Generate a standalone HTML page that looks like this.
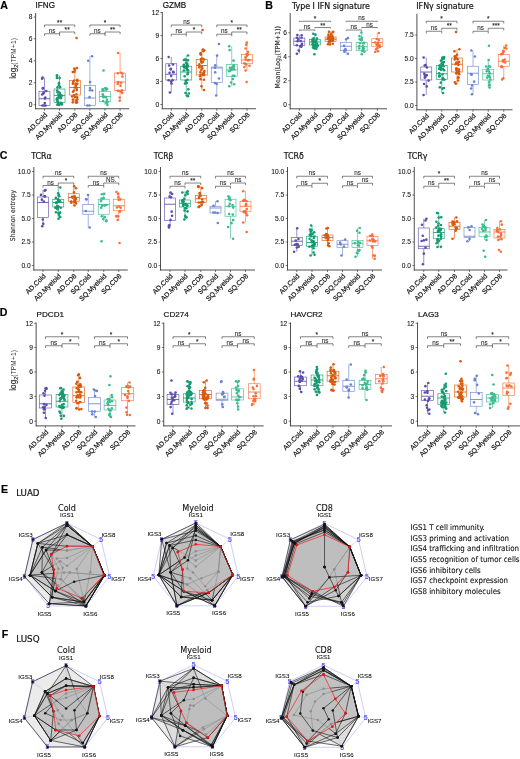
<!DOCTYPE html>
<html><head><meta charset="utf-8"><title>Figure</title>
<style>html,body{margin:0;padding:0;background:#fff}svg{display:block;filter:blur(0.35px)}</style></head>
<body>
<svg width="520" height="759" viewBox="0 0 520 759">
<rect width="520" height="759" fill="#fff"/>
<line x1="35.6" y1="13" x2="35.6" y2="109.2" stroke="#3c3c3c" stroke-width="0.9" />
<line x1="35.15" y1="108.75" x2="129.2" y2="108.75" stroke="#3c3c3c" stroke-width="0.9" />
<line x1="33.7" y1="104.75" x2="35.6" y2="104.75" stroke="#222" stroke-width="0.6" />
<text x="32.4" y="107.05" font-family='"Liberation Sans", Arial, sans-serif' font-size="6.65" text-anchor="end" fill="#111" stroke="#111" stroke-width="0.08" >0</text>
<line x1="33.7" y1="82.75" x2="35.6" y2="82.75" stroke="#222" stroke-width="0.6" />
<text x="32.4" y="85.05" font-family='"Liberation Sans", Arial, sans-serif' font-size="6.65" text-anchor="end" fill="#111" stroke="#111" stroke-width="0.08" >2</text>
<line x1="33.7" y1="60.75" x2="35.6" y2="60.75" stroke="#222" stroke-width="0.6" />
<text x="32.4" y="63.05" font-family='"Liberation Sans", Arial, sans-serif' font-size="6.65" text-anchor="end" fill="#111" stroke="#111" stroke-width="0.08" >4</text>
<line x1="33.7" y1="38.75" x2="35.6" y2="38.75" stroke="#222" stroke-width="0.6" />
<text x="32.4" y="41.05" font-family='"Liberation Sans", Arial, sans-serif' font-size="6.65" text-anchor="end" fill="#111" stroke="#111" stroke-width="0.08" >6</text>
<line x1="33.7" y1="17" x2="35.6" y2="17" stroke="#222" stroke-width="0.6" />
<text x="32.4" y="19.3" font-family='"Liberation Sans", Arial, sans-serif' font-size="6.65" text-anchor="end" fill="#111" stroke="#111" stroke-width="0.08" >8</text>
<line x1="44.5" y1="108.75" x2="44.5" y2="110.75" stroke="#222" stroke-width="0.6" />
<text x="47.7" y="115.35" font-family='"Liberation Sans", Arial, sans-serif' font-size="6.8" text-anchor="end" fill="#111" transform="rotate(-45 47.7 115.35)" stroke="#111" stroke-width="0.18" >AD.Cold</text>
<line x1="59.5" y1="108.75" x2="59.5" y2="110.75" stroke="#222" stroke-width="0.6" />
<text x="62.7" y="115.35" font-family='"Liberation Sans", Arial, sans-serif' font-size="6.8" text-anchor="end" fill="#111" transform="rotate(-45 62.7 115.35)" stroke="#111" stroke-width="0.18" >AD.Myeloid</text>
<line x1="74.8" y1="108.75" x2="74.8" y2="110.75" stroke="#222" stroke-width="0.6" />
<text x="78" y="115.35" font-family='"Liberation Sans", Arial, sans-serif' font-size="6.8" text-anchor="end" fill="#111" transform="rotate(-45 78 115.35)" stroke="#111" stroke-width="0.18" >AD.CD8</text>
<line x1="89.9" y1="108.75" x2="89.9" y2="110.75" stroke="#222" stroke-width="0.6" />
<text x="93.1" y="115.35" font-family='"Liberation Sans", Arial, sans-serif' font-size="6.8" text-anchor="end" fill="#111" transform="rotate(-45 93.1 115.35)" stroke="#111" stroke-width="0.18" >SQ.Cold</text>
<line x1="105" y1="108.75" x2="105" y2="110.75" stroke="#222" stroke-width="0.6" />
<text x="108.2" y="115.35" font-family='"Liberation Sans", Arial, sans-serif' font-size="6.8" text-anchor="end" fill="#111" transform="rotate(-45 108.2 115.35)" stroke="#111" stroke-width="0.18" >SQ.Myeloid</text>
<line x1="120.1" y1="108.75" x2="120.1" y2="110.75" stroke="#222" stroke-width="0.6" />
<text x="123.3" y="115.35" font-family='"Liberation Sans", Arial, sans-serif' font-size="6.8" text-anchor="end" fill="#111" transform="rotate(-45 123.3 115.35)" stroke="#111" stroke-width="0.18" >SQ.CD8</text>
<g stroke="#5a4dae" stroke-width="0.65" stroke-opacity="0.95" fill="none">
<rect x="39" y="91.25" width="11" height="14.25"/>
<path d="M39 98.75H50" stroke-width="0.9"/>
<path d="M44.5 77.5V91.25M44.5 105.5V105.5"/>
</g>
<g fill="#5a4dae">
<circle cx="42.58" cy="77.5" r="1.3"/>
<circle cx="42.44" cy="105.5" r="1.3"/>
<circle cx="43.47" cy="93.4" r="1.3"/>
<circle cx="46.21" cy="91.04" r="1.3"/>
<circle cx="42.78" cy="88.5" r="1.3"/>
<circle cx="44.94" cy="98.48" r="1.3"/>
<circle cx="45.25" cy="97.43" r="1.3"/>
<circle cx="43.81" cy="92.54" r="1.3"/>
<circle cx="44.76" cy="103.03" r="1.3"/>
<circle cx="42.14" cy="94.43" r="1.3"/>
<circle cx="42.12" cy="78.63" r="1.3"/>
<circle cx="42.91" cy="88.12" r="1.3"/>
<circle cx="45.47" cy="105.5" r="1.3"/>
<circle cx="44.11" cy="105.5" r="1.3"/>
</g>
<g stroke="#159a70" stroke-width="0.65" stroke-opacity="0.95" fill="none">
<rect x="54" y="89" width="11" height="13.6"/>
<path d="M54 95.4H65" stroke-width="0.9"/>
<path d="M59.5 75.5V89M59.5 102.6V105"/>
</g>
<g fill="#159a70">
<circle cx="56.82" cy="75.5" r="1.3"/>
<circle cx="59.06" cy="105" r="1.3"/>
<circle cx="58.79" cy="96.96" r="1.3"/>
<circle cx="59.86" cy="93.08" r="1.3"/>
<circle cx="61.95" cy="103.95" r="1.3"/>
<circle cx="60.53" cy="96.81" r="1.3"/>
<circle cx="59.58" cy="78.09" r="1.3"/>
<circle cx="60.14" cy="87.16" r="1.3"/>
<circle cx="60.45" cy="102.68" r="1.3"/>
<circle cx="57.09" cy="99.3" r="1.3"/>
<circle cx="61.66" cy="95.65" r="1.3"/>
<circle cx="61.01" cy="98.09" r="1.3"/>
<circle cx="61.52" cy="103.58" r="1.3"/>
<circle cx="61.11" cy="102.98" r="1.3"/>
<circle cx="58.92" cy="83.13" r="1.3"/>
<circle cx="58.95" cy="85.15" r="1.3"/>
<circle cx="57.36" cy="104.79" r="1.3"/>
<circle cx="60.23" cy="98.03" r="1.3"/>
<circle cx="57.14" cy="98.54" r="1.3"/>
<circle cx="57.16" cy="75.65" r="1.3"/>
<circle cx="57.93" cy="102.92" r="1.3"/>
<circle cx="57.68" cy="98.09" r="1.3"/>
<circle cx="58.64" cy="95.28" r="1.3"/>
<circle cx="57.08" cy="90.59" r="1.3"/>
<circle cx="56.8" cy="99.45" r="1.3"/>
<circle cx="57.62" cy="92.37" r="1.3"/>
<circle cx="57.35" cy="100.85" r="1.3"/>
<circle cx="58.76" cy="95.11" r="1.3"/>
<circle cx="56.94" cy="77.93" r="1.3"/>
<circle cx="61.52" cy="104.5" r="1.3"/>
<circle cx="60.12" cy="94.65" r="1.3"/>
<circle cx="57.6" cy="101.03" r="1.3"/>
<circle cx="58.16" cy="102.72" r="1.3"/>
<circle cx="58.68" cy="92.15" r="1.3"/>
<circle cx="58.77" cy="95.6" r="1.3"/>
<circle cx="57.46" cy="87.41" r="1.3"/>
</g>
<g stroke="#d9590c" stroke-width="0.65" stroke-opacity="0.95" fill="none">
<rect x="69.3" y="80.5" width="11" height="14.5"/>
<path d="M69.3 87.5H80.3" stroke-width="0.9"/>
<path d="M74.8 68V80.5M74.8 95V102.5"/>
</g>
<g fill="#d9590c">
<circle cx="77.01" cy="68" r="1.3"/>
<circle cx="76.32" cy="102.5" r="1.3"/>
<circle cx="76.15" cy="102.42" r="1.3"/>
<circle cx="74.68" cy="87.52" r="1.3"/>
<circle cx="73.06" cy="81.98" r="1.3"/>
<circle cx="76.36" cy="84.34" r="1.3"/>
<circle cx="73.9" cy="95.41" r="1.3"/>
<circle cx="76.42" cy="94.29" r="1.3"/>
<circle cx="77.35" cy="79.92" r="1.3"/>
<circle cx="74.24" cy="80.46" r="1.3"/>
<circle cx="74.27" cy="68.43" r="1.3"/>
<circle cx="77.21" cy="99.2" r="1.3"/>
<circle cx="76.01" cy="85.82" r="1.3"/>
<circle cx="73.02" cy="91.69" r="1.3"/>
<circle cx="72.79" cy="72.12" r="1.3"/>
<circle cx="72.92" cy="83.73" r="1.3"/>
<circle cx="76.99" cy="102.32" r="1.3"/>
<circle cx="76.46" cy="100.31" r="1.3"/>
<circle cx="72.89" cy="99.63" r="1.3"/>
<circle cx="76.56" cy="88.01" r="1.3"/>
<circle cx="77.39" cy="80.92" r="1.3"/>
<circle cx="75.65" cy="84.55" r="1.3"/>
<circle cx="73.99" cy="90.54" r="1.3"/>
<circle cx="75.06" cy="97.07" r="1.3"/>
<circle cx="72.81" cy="102.36" r="1.3"/>
<circle cx="72.18" cy="96.49" r="1.3"/>
<circle cx="77.34" cy="83.79" r="1.3"/>
<circle cx="75.61" cy="83.46" r="1.3"/>
<circle cx="74.94" cy="69.93" r="1.3"/>
<circle cx="77.14" cy="97.31" r="1.3"/>
<circle cx="74.44" cy="71.76" r="1.3"/>
<circle cx="76.81" cy="90.08" r="1.3"/>
<circle cx="76.56" cy="38" r="1.3"/>
</g>
<g stroke="#6a84d4" stroke-width="0.65" stroke-opacity="0.95" fill="none">
<rect x="84.4" y="85.5" width="11" height="20"/>
<path d="M84.4 98H95.4" stroke-width="0.9"/>
<path d="M89.9 56.25V85.5M89.9 105.5V105.5"/>
</g>
<g fill="#6a84d4">
<circle cx="92.08" cy="56.25" r="1.3"/>
<circle cx="89.47" cy="105.5" r="1.3"/>
<circle cx="92.16" cy="90.54" r="1.3"/>
<circle cx="89.91" cy="90.31" r="1.3"/>
<circle cx="90.07" cy="82.12" r="1.3"/>
<circle cx="90.03" cy="88.12" r="1.3"/>
<circle cx="87.3" cy="105.5" r="1.3"/>
<circle cx="89.58" cy="97.17" r="1.3"/>
<circle cx="88.19" cy="60.75" r="1.3"/>
</g>
<g stroke="#3dbb8e" stroke-width="0.65" stroke-opacity="0.95" fill="none">
<rect x="99.5" y="91.6" width="11" height="10.1"/>
<path d="M99.5 96.6H110.5" stroke-width="0.9"/>
<path d="M105 88V91.6M105 101.7V105"/>
</g>
<g fill="#3dbb8e">
<circle cx="105.32" cy="88" r="1.3"/>
<circle cx="107.39" cy="105" r="1.3"/>
<circle cx="106.84" cy="99.67" r="1.3"/>
<circle cx="103.04" cy="96.38" r="1.3"/>
<circle cx="102.96" cy="90.19" r="1.3"/>
<circle cx="104.69" cy="96.84" r="1.3"/>
<circle cx="102.69" cy="89.16" r="1.3"/>
<circle cx="103.6" cy="97.26" r="1.3"/>
<circle cx="102.69" cy="94.4" r="1.3"/>
<circle cx="105.92" cy="102.82" r="1.3"/>
<circle cx="106.53" cy="89.28" r="1.3"/>
<circle cx="107.14" cy="102.6" r="1.3"/>
<circle cx="103.13" cy="90.39" r="1.3"/>
<circle cx="106.17" cy="89.6" r="1.3"/>
<circle cx="105.87" cy="96.99" r="1.3"/>
<circle cx="103.07" cy="101.11" r="1.3"/>
<circle cx="107.07" cy="88.68" r="1.3"/>
<circle cx="107.52" cy="102.08" r="1.3"/>
<circle cx="103.49" cy="70.5" r="1.3"/>
</g>
<g stroke="#f86f3c" stroke-width="0.65" stroke-opacity="0.95" fill="none">
<rect x="114.6" y="73" width="11" height="17.5"/>
<path d="M114.6 82H125.6" stroke-width="0.9"/>
<path d="M120.1 53V73M120.1 90.5V100.75"/>
</g>
<g fill="#f86f3c">
<circle cx="118.1" cy="53" r="1.3"/>
<circle cx="119.68" cy="100.75" r="1.3"/>
<circle cx="122.32" cy="92.85" r="1.3"/>
<circle cx="121.82" cy="90.32" r="1.3"/>
<circle cx="118.8" cy="91.05" r="1.3"/>
<circle cx="118.21" cy="82.02" r="1.3"/>
<circle cx="122.36" cy="76.43" r="1.3"/>
<circle cx="120.48" cy="85.64" r="1.3"/>
<circle cx="121.18" cy="82.7" r="1.3"/>
<circle cx="117.88" cy="73.32" r="1.3"/>
<circle cx="117.71" cy="83.92" r="1.3"/>
<circle cx="121.12" cy="72.75" r="1.3"/>
<circle cx="119.7" cy="97.51" r="1.3"/>
<circle cx="117.79" cy="90.78" r="1.3"/>
<circle cx="122.47" cy="73.69" r="1.3"/>
<circle cx="120.83" cy="91.76" r="1.3"/>
</g>
<path d="M44.5 27.2V25H74.8V27.2" fill="none" stroke="#333" stroke-width="0.6"/>
<text x="59.65" y="25.2" font-family='"Liberation Sans", Arial, sans-serif' font-size="6.5" text-anchor="middle" fill="#222" stroke="#222" stroke-width="0.1" >**</text>
<path d="M44.5 35.95V33.75H59.5V35.95" fill="none" stroke="#333" stroke-width="0.6"/>
<text x="52" y="32.95" font-family='"Liberation Sans", Arial, sans-serif' font-size="6.3" text-anchor="middle" fill="#2a2a2a" stroke="#2a2a2a" stroke-width="0.08" >ns</text>
<path d="M59.5 34.2V32H74.8V34.2" fill="none" stroke="#333" stroke-width="0.6"/>
<text x="67.15" y="32.2" font-family='"Liberation Sans", Arial, sans-serif' font-size="6.5" text-anchor="middle" fill="#222" stroke="#222" stroke-width="0.1" >**</text>
<path d="M89.9 27.2V25H120.1V27.2" fill="none" stroke="#333" stroke-width="0.6"/>
<text x="105" y="25.2" font-family='"Liberation Sans", Arial, sans-serif' font-size="6.5" text-anchor="middle" fill="#222" stroke="#222" stroke-width="0.1" >*</text>
<path d="M89.9 35.95V33.75H105V35.95" fill="none" stroke="#333" stroke-width="0.6"/>
<text x="97.45" y="32.95" font-family='"Liberation Sans", Arial, sans-serif' font-size="6.3" text-anchor="middle" fill="#2a2a2a" stroke="#2a2a2a" stroke-width="0.08" >ns</text>
<path d="M105 34.2V32H120.1V34.2" fill="none" stroke="#333" stroke-width="0.6"/>
<text x="112.55" y="32.2" font-family='"Liberation Sans", Arial, sans-serif' font-size="6.5" text-anchor="middle" fill="#222" stroke="#222" stroke-width="0.1" >**</text>
<text x="35.6" y="8" font-family='"Liberation Sans", Arial, sans-serif' font-size="8.15" text-anchor="start" fill="#111" stroke="#111" stroke-width="0.18" >IFNG</text>
<line x1="162.3" y1="12" x2="162.3" y2="109.2" stroke="#3c3c3c" stroke-width="0.9" />
<line x1="161.85" y1="108.75" x2="256" y2="108.75" stroke="#3c3c3c" stroke-width="0.9" />
<line x1="160.4" y1="104.5" x2="162.3" y2="104.5" stroke="#222" stroke-width="0.6" />
<text x="159.1" y="106.8" font-family='"Liberation Sans", Arial, sans-serif' font-size="6.65" text-anchor="end" fill="#111" stroke="#111" stroke-width="0.08" >0</text>
<line x1="160.4" y1="81.5" x2="162.3" y2="81.5" stroke="#222" stroke-width="0.6" />
<text x="159.1" y="83.8" font-family='"Liberation Sans", Arial, sans-serif' font-size="6.65" text-anchor="end" fill="#111" stroke="#111" stroke-width="0.08" >3</text>
<line x1="160.4" y1="58.5" x2="162.3" y2="58.5" stroke="#222" stroke-width="0.6" />
<text x="159.1" y="60.8" font-family='"Liberation Sans", Arial, sans-serif' font-size="6.65" text-anchor="end" fill="#111" stroke="#111" stroke-width="0.08" >6</text>
<line x1="160.4" y1="35.5" x2="162.3" y2="35.5" stroke="#222" stroke-width="0.6" />
<text x="159.1" y="37.8" font-family='"Liberation Sans", Arial, sans-serif' font-size="6.65" text-anchor="end" fill="#111" stroke="#111" stroke-width="0.08" >9</text>
<line x1="160.4" y1="12.5" x2="162.3" y2="12.5" stroke="#222" stroke-width="0.6" />
<text x="159.1" y="14.8" font-family='"Liberation Sans", Arial, sans-serif' font-size="6.65" text-anchor="end" fill="#111" stroke="#111" stroke-width="0.08" >12</text>
<line x1="171.25" y1="108.75" x2="171.25" y2="110.75" stroke="#222" stroke-width="0.6" />
<text x="174.45" y="115.35" font-family='"Liberation Sans", Arial, sans-serif' font-size="6.8" text-anchor="end" fill="#111" transform="rotate(-45 174.45 115.35)" stroke="#111" stroke-width="0.18" >AD.Cold</text>
<line x1="186.25" y1="108.75" x2="186.25" y2="110.75" stroke="#222" stroke-width="0.6" />
<text x="189.45" y="115.35" font-family='"Liberation Sans", Arial, sans-serif' font-size="6.8" text-anchor="end" fill="#111" transform="rotate(-45 189.45 115.35)" stroke="#111" stroke-width="0.18" >AD.Myeloid</text>
<line x1="201.75" y1="108.75" x2="201.75" y2="110.75" stroke="#222" stroke-width="0.6" />
<text x="204.95" y="115.35" font-family='"Liberation Sans", Arial, sans-serif' font-size="6.8" text-anchor="end" fill="#111" transform="rotate(-45 204.95 115.35)" stroke="#111" stroke-width="0.18" >AD.CD8</text>
<line x1="216.75" y1="108.75" x2="216.75" y2="110.75" stroke="#222" stroke-width="0.6" />
<text x="219.95" y="115.35" font-family='"Liberation Sans", Arial, sans-serif' font-size="6.8" text-anchor="end" fill="#111" transform="rotate(-45 219.95 115.35)" stroke="#111" stroke-width="0.18" >SQ.Cold</text>
<line x1="231.75" y1="108.75" x2="231.75" y2="110.75" stroke="#222" stroke-width="0.6" />
<text x="234.95" y="115.35" font-family='"Liberation Sans", Arial, sans-serif' font-size="6.8" text-anchor="end" fill="#111" transform="rotate(-45 234.95 115.35)" stroke="#111" stroke-width="0.18" >SQ.Myeloid</text>
<line x1="247" y1="108.75" x2="247" y2="110.75" stroke="#222" stroke-width="0.6" />
<text x="250.2" y="115.35" font-family='"Liberation Sans", Arial, sans-serif' font-size="6.8" text-anchor="end" fill="#111" transform="rotate(-45 250.2 115.35)" stroke="#111" stroke-width="0.18" >SQ.CD8</text>
<g stroke="#5a4dae" stroke-width="0.65" stroke-opacity="0.95" fill="none">
<rect x="165.75" y="63.75" width="11" height="16.25"/>
<path d="M165.75 74.25H176.75" stroke-width="0.9"/>
<path d="M171.25 57V63.75M171.25 80V92.5"/>
</g>
<g fill="#5a4dae">
<circle cx="168.65" cy="57" r="1.3"/>
<circle cx="169.9" cy="92.5" r="1.3"/>
<circle cx="168.63" cy="80.24" r="1.3"/>
<circle cx="172.51" cy="80.16" r="1.3"/>
<circle cx="171.53" cy="83.53" r="1.3"/>
<circle cx="169.57" cy="72.74" r="1.3"/>
<circle cx="171.11" cy="81.52" r="1.3"/>
<circle cx="173.6" cy="72.31" r="1.3"/>
<circle cx="169.12" cy="65.53" r="1.3"/>
<circle cx="172.97" cy="64.57" r="1.3"/>
<circle cx="170.88" cy="68.82" r="1.3"/>
<circle cx="171.22" cy="76.09" r="1.3"/>
<circle cx="173.06" cy="71.88" r="1.3"/>
<circle cx="170.67" cy="69.39" r="1.3"/>
</g>
<g stroke="#159a70" stroke-width="0.65" stroke-opacity="0.95" fill="none">
<rect x="180.75" y="66.25" width="11" height="13.75"/>
<path d="M180.75 72H191.75" stroke-width="0.9"/>
<path d="M186.25 55.5V66.25M186.25 80V96.25"/>
</g>
<g fill="#159a70">
<circle cx="188.06" cy="55.5" r="1.3"/>
<circle cx="187.9" cy="96.25" r="1.3"/>
<circle cx="188.01" cy="60.34" r="1.3"/>
<circle cx="186.7" cy="82.93" r="1.3"/>
<circle cx="188.37" cy="89.33" r="1.3"/>
<circle cx="187.24" cy="63.72" r="1.3"/>
<circle cx="187.29" cy="67" r="1.3"/>
<circle cx="184.79" cy="67.22" r="1.3"/>
<circle cx="183.72" cy="65.04" r="1.3"/>
<circle cx="184.27" cy="67.41" r="1.3"/>
<circle cx="185.5" cy="93.02" r="1.3"/>
<circle cx="184.12" cy="64.83" r="1.3"/>
<circle cx="188.06" cy="70.28" r="1.3"/>
<circle cx="186.57" cy="68.42" r="1.3"/>
<circle cx="186.94" cy="69.87" r="1.3"/>
<circle cx="186.93" cy="95.54" r="1.3"/>
<circle cx="187.23" cy="65.12" r="1.3"/>
<circle cx="186.19" cy="82.49" r="1.3"/>
<circle cx="183.57" cy="66.26" r="1.3"/>
<circle cx="187.86" cy="72.78" r="1.3"/>
<circle cx="187.59" cy="65.43" r="1.3"/>
<circle cx="186.27" cy="66.25" r="1.3"/>
<circle cx="186.44" cy="67.48" r="1.3"/>
<circle cx="187.11" cy="66.82" r="1.3"/>
<circle cx="183.91" cy="70.43" r="1.3"/>
<circle cx="187.53" cy="74.3" r="1.3"/>
<circle cx="184.91" cy="59.46" r="1.3"/>
<circle cx="183.95" cy="59.95" r="1.3"/>
<circle cx="184.98" cy="83.59" r="1.3"/>
<circle cx="187.49" cy="79.79" r="1.3"/>
<circle cx="184.66" cy="76.21" r="1.3"/>
<circle cx="187.55" cy="66.18" r="1.3"/>
<circle cx="188.82" cy="93.53" r="1.3"/>
<circle cx="186.22" cy="59.7" r="1.3"/>
<circle cx="185.62" cy="80.69" r="1.3"/>
<circle cx="186.14" cy="62.65" r="1.3"/>
</g>
<g stroke="#d9590c" stroke-width="0.65" stroke-opacity="0.95" fill="none">
<rect x="196.25" y="59.5" width="11" height="15.5"/>
<path d="M196.25 65.5H207.25" stroke-width="0.9"/>
<path d="M201.75 49.5V59.5M201.75 75V90"/>
</g>
<g fill="#d9590c">
<circle cx="202.9" cy="49.5" r="1.3"/>
<circle cx="203.92" cy="90" r="1.3"/>
<circle cx="200.62" cy="52.96" r="1.3"/>
<circle cx="201.06" cy="54.57" r="1.3"/>
<circle cx="201.17" cy="61.79" r="1.3"/>
<circle cx="204.44" cy="71.02" r="1.3"/>
<circle cx="202.23" cy="68.3" r="1.3"/>
<circle cx="201" cy="60.44" r="1.3"/>
<circle cx="201.36" cy="69.92" r="1.3"/>
<circle cx="200.54" cy="54.16" r="1.3"/>
<circle cx="199.31" cy="67.51" r="1.3"/>
<circle cx="199.6" cy="66.73" r="1.3"/>
<circle cx="203.56" cy="73.35" r="1.3"/>
<circle cx="200.59" cy="74.66" r="1.3"/>
<circle cx="204.1" cy="75.02" r="1.3"/>
<circle cx="200.4" cy="72.21" r="1.3"/>
<circle cx="200.48" cy="79.17" r="1.3"/>
<circle cx="201.81" cy="62.75" r="1.3"/>
<circle cx="200.08" cy="76.24" r="1.3"/>
<circle cx="201.07" cy="59.06" r="1.3"/>
<circle cx="204.21" cy="50.25" r="1.3"/>
<circle cx="203.83" cy="72.21" r="1.3"/>
<circle cx="203.43" cy="51.25" r="1.3"/>
<circle cx="202.46" cy="58.54" r="1.3"/>
<circle cx="203.98" cy="79.73" r="1.3"/>
<circle cx="204.13" cy="59.56" r="1.3"/>
<circle cx="202.02" cy="66.49" r="1.3"/>
<circle cx="202.94" cy="61.68" r="1.3"/>
<circle cx="199.32" cy="64.4" r="1.3"/>
<circle cx="203" cy="75" r="1.3"/>
<circle cx="201.48" cy="86.33" r="1.3"/>
<circle cx="203.11" cy="73.86" r="1.3"/>
<circle cx="202.53" cy="30" r="1.3"/>
</g>
<g stroke="#6a84d4" stroke-width="0.65" stroke-opacity="0.95" fill="none">
<rect x="211.25" y="67" width="11" height="15.5"/>
<path d="M211.25 68H222.25" stroke-width="0.9"/>
<path d="M216.75 55.6V67M216.75 82.5V95.5"/>
</g>
<g fill="#6a84d4">
<circle cx="217.06" cy="55.6" r="1.3"/>
<circle cx="216.18" cy="95.5" r="1.3"/>
<circle cx="214.95" cy="67.76" r="1.3"/>
<circle cx="214.92" cy="82.98" r="1.3"/>
<circle cx="215.17" cy="72.33" r="1.3"/>
<circle cx="218.94" cy="78.46" r="1.3"/>
<circle cx="216.73" cy="84.01" r="1.3"/>
<circle cx="215.24" cy="65.33" r="1.3"/>
<circle cx="218.94" cy="44" r="1.3"/>
</g>
<g stroke="#3dbb8e" stroke-width="0.65" stroke-opacity="0.95" fill="none">
<rect x="226.25" y="64.5" width="11" height="11.75"/>
<path d="M226.25 70H237.25" stroke-width="0.9"/>
<path d="M231.75 46.25V64.5M231.75 76.25V86.25"/>
</g>
<g fill="#3dbb8e">
<circle cx="229.17" cy="46.25" r="1.3"/>
<circle cx="229.22" cy="86.25" r="1.3"/>
<circle cx="232.88" cy="79.04" r="1.3"/>
<circle cx="233.89" cy="66.76" r="1.3"/>
<circle cx="231.61" cy="68.52" r="1.3"/>
<circle cx="232.22" cy="67.31" r="1.3"/>
<circle cx="229.05" cy="71.19" r="1.3"/>
<circle cx="231.16" cy="82.56" r="1.3"/>
<circle cx="234.05" cy="69.36" r="1.3"/>
<circle cx="233.51" cy="60.67" r="1.3"/>
<circle cx="233.67" cy="65.23" r="1.3"/>
<circle cx="234.3" cy="75.87" r="1.3"/>
<circle cx="230.39" cy="70.41" r="1.3"/>
<circle cx="229.64" cy="50.09" r="1.3"/>
<circle cx="229.88" cy="67.68" r="1.3"/>
<circle cx="231.87" cy="69.2" r="1.3"/>
<circle cx="232.73" cy="75.71" r="1.3"/>
<circle cx="234.13" cy="84.3" r="1.3"/>
</g>
<g stroke="#f86f3c" stroke-width="0.65" stroke-opacity="0.95" fill="none">
<rect x="241.5" y="54.5" width="11" height="9.25"/>
<path d="M241.5 60H252.5" stroke-width="0.9"/>
<path d="M247 42.5V54.5M247 63.75V70.5"/>
</g>
<g fill="#f86f3c">
<circle cx="246.87" cy="42.5" r="1.3"/>
<circle cx="245.57" cy="70.5" r="1.3"/>
<circle cx="245.63" cy="48.52" r="1.3"/>
<circle cx="249.49" cy="65.68" r="1.3"/>
<circle cx="248.11" cy="54.43" r="1.3"/>
<circle cx="245.96" cy="64.4" r="1.3"/>
<circle cx="244.42" cy="67.1" r="1.3"/>
<circle cx="246.99" cy="55.68" r="1.3"/>
<circle cx="247.94" cy="60.39" r="1.3"/>
<circle cx="246.57" cy="54.14" r="1.3"/>
<circle cx="245.69" cy="59.35" r="1.3"/>
<circle cx="247.9" cy="51.86" r="1.3"/>
<circle cx="249.3" cy="60.06" r="1.3"/>
<circle cx="245.52" cy="57.29" r="1.3"/>
<circle cx="244.48" cy="63.37" r="1.3"/>
<circle cx="246.13" cy="44.65" r="1.3"/>
<circle cx="246.57" cy="82" r="1.3"/>
</g>
<path d="M171.25 27.2V25H201.75V27.2" fill="none" stroke="#333" stroke-width="0.6"/>
<text x="186.5" y="24.2" font-family='"Liberation Sans", Arial, sans-serif' font-size="6.3" text-anchor="middle" fill="#2a2a2a" stroke="#2a2a2a" stroke-width="0.08" >ns</text>
<path d="M171.25 36.45V34.25H186.25V36.45" fill="none" stroke="#333" stroke-width="0.6"/>
<text x="178.75" y="33.45" font-family='"Liberation Sans", Arial, sans-serif' font-size="6.3" text-anchor="middle" fill="#2a2a2a" stroke="#2a2a2a" stroke-width="0.08" >ns</text>
<path d="M186.25 34.2V32H201.75V34.2" fill="none" stroke="#333" stroke-width="0.6"/>
<text x="194" y="32.2" font-family='"Liberation Sans", Arial, sans-serif' font-size="6.5" text-anchor="middle" fill="#222" stroke="#222" stroke-width="0.1" >*</text>
<path d="M216.75 27.2V25H247V27.2" fill="none" stroke="#333" stroke-width="0.6"/>
<text x="231.88" y="25.2" font-family='"Liberation Sans", Arial, sans-serif' font-size="6.5" text-anchor="middle" fill="#222" stroke="#222" stroke-width="0.1" >*</text>
<path d="M216.75 36.45V34.25H231.75V36.45" fill="none" stroke="#333" stroke-width="0.6"/>
<text x="224.25" y="33.45" font-family='"Liberation Sans", Arial, sans-serif' font-size="6.3" text-anchor="middle" fill="#2a2a2a" stroke="#2a2a2a" stroke-width="0.08" >ns</text>
<path d="M231.75 34.2V32H247V34.2" fill="none" stroke="#333" stroke-width="0.6"/>
<text x="239.38" y="32.2" font-family='"Liberation Sans", Arial, sans-serif' font-size="6.5" text-anchor="middle" fill="#222" stroke="#222" stroke-width="0.1" >**</text>
<text x="162.8" y="8" font-family='"Liberation Sans", Arial, sans-serif' font-size="8.15" text-anchor="start" fill="#111" stroke="#111" stroke-width="0.18" >GZMB</text>
<line x1="290.2" y1="13" x2="290.2" y2="109.25" stroke="#3c3c3c" stroke-width="0.9" />
<line x1="289.75" y1="108.8" x2="387" y2="108.8" stroke="#3c3c3c" stroke-width="0.9" />
<line x1="288.3" y1="104.7" x2="290.2" y2="104.7" stroke="#222" stroke-width="0.6" />
<text x="287" y="107" font-family='"Liberation Sans", Arial, sans-serif' font-size="6.65" text-anchor="end" fill="#111" stroke="#111" stroke-width="0.08" >0</text>
<line x1="288.3" y1="80.7" x2="290.2" y2="80.7" stroke="#222" stroke-width="0.6" />
<text x="287" y="83" font-family='"Liberation Sans", Arial, sans-serif' font-size="6.65" text-anchor="end" fill="#111" stroke="#111" stroke-width="0.08" >2</text>
<line x1="288.3" y1="56.75" x2="290.2" y2="56.75" stroke="#222" stroke-width="0.6" />
<text x="287" y="59.05" font-family='"Liberation Sans", Arial, sans-serif' font-size="6.65" text-anchor="end" fill="#111" stroke="#111" stroke-width="0.08" >4</text>
<line x1="288.3" y1="32.75" x2="290.2" y2="32.75" stroke="#222" stroke-width="0.6" />
<text x="287" y="35.05" font-family='"Liberation Sans", Arial, sans-serif' font-size="6.65" text-anchor="end" fill="#111" stroke="#111" stroke-width="0.08" >6</text>
<line x1="299.3" y1="108.8" x2="299.3" y2="110.8" stroke="#222" stroke-width="0.6" />
<text x="302.5" y="115.4" font-family='"Liberation Sans", Arial, sans-serif' font-size="6.8" text-anchor="end" fill="#111" transform="rotate(-45 302.5 115.4)" stroke="#111" stroke-width="0.18" >AD.Cold</text>
<line x1="314.9" y1="108.8" x2="314.9" y2="110.8" stroke="#222" stroke-width="0.6" />
<text x="318.1" y="115.4" font-family='"Liberation Sans", Arial, sans-serif' font-size="6.8" text-anchor="end" fill="#111" transform="rotate(-45 318.1 115.4)" stroke="#111" stroke-width="0.18" >AD.Myeloid</text>
<line x1="330.6" y1="108.8" x2="330.6" y2="110.8" stroke="#222" stroke-width="0.6" />
<text x="333.8" y="115.4" font-family='"Liberation Sans", Arial, sans-serif' font-size="6.8" text-anchor="end" fill="#111" transform="rotate(-45 333.8 115.4)" stroke="#111" stroke-width="0.18" >AD.CD8</text>
<line x1="346.1" y1="108.8" x2="346.1" y2="110.8" stroke="#222" stroke-width="0.6" />
<text x="349.3" y="115.4" font-family='"Liberation Sans", Arial, sans-serif' font-size="6.8" text-anchor="end" fill="#111" transform="rotate(-45 349.3 115.4)" stroke="#111" stroke-width="0.18" >SQ.Cold</text>
<line x1="361.7" y1="108.8" x2="361.7" y2="110.8" stroke="#222" stroke-width="0.6" />
<text x="364.9" y="115.4" font-family='"Liberation Sans", Arial, sans-serif' font-size="6.8" text-anchor="end" fill="#111" transform="rotate(-45 364.9 115.4)" stroke="#111" stroke-width="0.18" >SQ.Myeloid</text>
<line x1="377.3" y1="108.8" x2="377.3" y2="110.8" stroke="#222" stroke-width="0.6" />
<text x="380.5" y="115.4" font-family='"Liberation Sans", Arial, sans-serif' font-size="6.8" text-anchor="end" fill="#111" transform="rotate(-45 380.5 115.4)" stroke="#111" stroke-width="0.18" >SQ.CD8</text>
<g stroke="#5a4dae" stroke-width="0.65" stroke-opacity="0.95" fill="none">
<rect x="293.8" y="38" width="11" height="7.5"/>
<path d="M293.8 41.25H304.8" stroke-width="0.9"/>
<path d="M299.3 35V38M299.3 45.5V53.75"/>
</g>
<g fill="#5a4dae">
<circle cx="297.37" cy="35" r="1.3"/>
<circle cx="296.88" cy="53.75" r="1.3"/>
<circle cx="296.92" cy="37.78" r="1.3"/>
<circle cx="298.72" cy="50.59" r="1.3"/>
<circle cx="301.45" cy="37.76" r="1.3"/>
<circle cx="301.37" cy="46.78" r="1.3"/>
<circle cx="300.56" cy="46.29" r="1.3"/>
<circle cx="301.99" cy="43.7" r="1.3"/>
<circle cx="301.63" cy="45.14" r="1.3"/>
<circle cx="298.38" cy="39.4" r="1.3"/>
<circle cx="297.6" cy="41.13" r="1.3"/>
<circle cx="301.65" cy="35.24" r="1.3"/>
<circle cx="300.63" cy="40.95" r="1.3"/>
<circle cx="296.77" cy="45.31" r="1.3"/>
</g>
<g stroke="#159a70" stroke-width="0.65" stroke-opacity="0.95" fill="none">
<rect x="309.4" y="39.5" width="11" height="5.5"/>
<path d="M309.4 42H320.4" stroke-width="0.9"/>
<path d="M314.9 33.75V39.5M314.9 45V48.75"/>
</g>
<g fill="#159a70">
<circle cx="313.27" cy="33.75" r="1.3"/>
<circle cx="316.27" cy="48.75" r="1.3"/>
<circle cx="313.54" cy="38.28" r="1.3"/>
<circle cx="312.55" cy="41.32" r="1.3"/>
<circle cx="312.38" cy="39.52" r="1.3"/>
<circle cx="315.18" cy="41.43" r="1.3"/>
<circle cx="313.96" cy="45.13" r="1.3"/>
<circle cx="317.49" cy="45.3" r="1.3"/>
<circle cx="316.97" cy="44.02" r="1.3"/>
<circle cx="317.53" cy="45.98" r="1.3"/>
<circle cx="313.63" cy="42.1" r="1.3"/>
<circle cx="312.65" cy="44.56" r="1.3"/>
<circle cx="312.72" cy="41.5" r="1.3"/>
<circle cx="314.89" cy="45.01" r="1.3"/>
<circle cx="316.03" cy="43.97" r="1.3"/>
<circle cx="314.61" cy="45.02" r="1.3"/>
<circle cx="313.46" cy="39.84" r="1.3"/>
<circle cx="314.45" cy="45.43" r="1.3"/>
<circle cx="315.55" cy="34.65" r="1.3"/>
<circle cx="315.84" cy="41" r="1.3"/>
<circle cx="316.24" cy="46.73" r="1.3"/>
<circle cx="316.77" cy="43.44" r="1.3"/>
<circle cx="315.79" cy="41.02" r="1.3"/>
<circle cx="312.85" cy="43.66" r="1.3"/>
<circle cx="316.74" cy="46.81" r="1.3"/>
<circle cx="313.79" cy="45.01" r="1.3"/>
<circle cx="315.26" cy="42.11" r="1.3"/>
<circle cx="314.21" cy="48.48" r="1.3"/>
<circle cx="316.19" cy="40.88" r="1.3"/>
<circle cx="313.28" cy="42.21" r="1.3"/>
<circle cx="313.54" cy="45.25" r="1.3"/>
<circle cx="313.52" cy="47.31" r="1.3"/>
<circle cx="313.03" cy="47.48" r="1.3"/>
<circle cx="316.97" cy="38.53" r="1.3"/>
<circle cx="315.32" cy="41.49" r="1.3"/>
<circle cx="313.96" cy="45.06" r="1.3"/>
<circle cx="314.34" cy="54.25" r="1.3"/>
</g>
<g stroke="#d9590c" stroke-width="0.65" stroke-opacity="0.95" fill="none">
<rect x="325.1" y="37" width="11" height="4.25"/>
<path d="M325.1 39.25H336.1" stroke-width="0.9"/>
<path d="M330.6 31.75V37M330.6 41.25V44.5"/>
</g>
<g fill="#d9590c">
<circle cx="333.28" cy="31.75" r="1.3"/>
<circle cx="329.86" cy="44.5" r="1.3"/>
<circle cx="328.96" cy="42.35" r="1.3"/>
<circle cx="331.83" cy="40.44" r="1.3"/>
<circle cx="329" cy="31.83" r="1.3"/>
<circle cx="327.93" cy="39.02" r="1.3"/>
<circle cx="332.77" cy="43.71" r="1.3"/>
<circle cx="330.19" cy="41.27" r="1.3"/>
<circle cx="332.33" cy="37.51" r="1.3"/>
<circle cx="330.09" cy="41.14" r="1.3"/>
<circle cx="332.67" cy="32.32" r="1.3"/>
<circle cx="330.39" cy="40.68" r="1.3"/>
<circle cx="328.78" cy="38.1" r="1.3"/>
<circle cx="327.98" cy="44.22" r="1.3"/>
<circle cx="330.88" cy="39.53" r="1.3"/>
<circle cx="331.36" cy="36.54" r="1.3"/>
<circle cx="332.81" cy="37.6" r="1.3"/>
<circle cx="328.38" cy="38.08" r="1.3"/>
<circle cx="331.26" cy="34.35" r="1.3"/>
<circle cx="329.9" cy="37.05" r="1.3"/>
<circle cx="330.62" cy="39.88" r="1.3"/>
<circle cx="328.69" cy="38.33" r="1.3"/>
<circle cx="329.43" cy="40.38" r="1.3"/>
<circle cx="330.71" cy="36.94" r="1.3"/>
<circle cx="332.9" cy="38.68" r="1.3"/>
<circle cx="328.49" cy="34.43" r="1.3"/>
<circle cx="330.55" cy="37.7" r="1.3"/>
<circle cx="332.25" cy="35.74" r="1.3"/>
<circle cx="333.12" cy="38.31" r="1.3"/>
<circle cx="328.97" cy="41.76" r="1.3"/>
<circle cx="328.58" cy="35.99" r="1.3"/>
<circle cx="332.99" cy="40.67" r="1.3"/>
</g>
<g stroke="#6a84d4" stroke-width="0.65" stroke-opacity="0.95" fill="none">
<rect x="340.6" y="42.5" width="11" height="8.25"/>
<path d="M340.6 46.25H351.6" stroke-width="0.9"/>
<path d="M346.1 38V42.5M346.1 50.75V53.75"/>
</g>
<g fill="#6a84d4">
<circle cx="347.97" cy="38" r="1.3"/>
<circle cx="347.88" cy="53.75" r="1.3"/>
<circle cx="344.39" cy="51.69" r="1.3"/>
<circle cx="344.58" cy="50.14" r="1.3"/>
<circle cx="345.56" cy="49.96" r="1.3"/>
<circle cx="346.2" cy="39.2" r="1.3"/>
<circle cx="345.47" cy="48.98" r="1.3"/>
<circle cx="344.06" cy="45.84" r="1.3"/>
</g>
<g stroke="#3dbb8e" stroke-width="0.65" stroke-opacity="0.95" fill="none">
<rect x="356.2" y="42.5" width="11" height="8.25"/>
<path d="M356.2 46.75H367.2" stroke-width="0.9"/>
<path d="M361.7 32.5V42.5M361.7 50.75V54.25"/>
</g>
<g fill="#3dbb8e">
<circle cx="361.39" cy="32.5" r="1.3"/>
<circle cx="361.75" cy="54.25" r="1.3"/>
<circle cx="359.22" cy="48.48" r="1.3"/>
<circle cx="362.44" cy="50.77" r="1.3"/>
<circle cx="359.44" cy="36.09" r="1.3"/>
<circle cx="362.96" cy="49.42" r="1.3"/>
<circle cx="363.2" cy="47.45" r="1.3"/>
<circle cx="361.76" cy="37.76" r="1.3"/>
<circle cx="359.29" cy="45.97" r="1.3"/>
<circle cx="361.72" cy="39.95" r="1.3"/>
<circle cx="361.04" cy="39.74" r="1.3"/>
<circle cx="364.13" cy="42.69" r="1.3"/>
<circle cx="359.74" cy="39.31" r="1.3"/>
<circle cx="363.63" cy="48.8" r="1.3"/>
<circle cx="364.38" cy="51.75" r="1.3"/>
<circle cx="362.95" cy="46.4" r="1.3"/>
<circle cx="363.4" cy="43.56" r="1.3"/>
<circle cx="360.05" cy="43.26" r="1.3"/>
</g>
<g stroke="#f86f3c" stroke-width="0.65" stroke-opacity="0.95" fill="none">
<rect x="371.8" y="38.75" width="11" height="7.5"/>
<path d="M371.8 42.5H382.8" stroke-width="0.9"/>
<path d="M377.3 33V38.75M377.3 46.25V52"/>
</g>
<g fill="#f86f3c">
<circle cx="378.84" cy="33" r="1.3"/>
<circle cx="375.22" cy="52" r="1.3"/>
<circle cx="377.47" cy="48.1" r="1.3"/>
<circle cx="378.04" cy="51.25" r="1.3"/>
<circle cx="376.54" cy="44.66" r="1.3"/>
<circle cx="379.31" cy="46.32" r="1.3"/>
<circle cx="377.6" cy="44.42" r="1.3"/>
<circle cx="377.73" cy="45.47" r="1.3"/>
<circle cx="379.37" cy="44.87" r="1.3"/>
<circle cx="375.16" cy="42.52" r="1.3"/>
<circle cx="379.96" cy="46.72" r="1.3"/>
<circle cx="378" cy="42.55" r="1.3"/>
<circle cx="376.73" cy="39.03" r="1.3"/>
<circle cx="378.91" cy="39.96" r="1.3"/>
<circle cx="376.03" cy="49.35" r="1.3"/>
<circle cx="379.95" cy="46.58" r="1.3"/>
</g>
<path d="M299.3 22.15V21.25H330.6V22.15" fill="none" stroke="#333" stroke-width="0.6"/>
<text x="314.95" y="21.45" font-family='"Liberation Sans", Arial, sans-serif' font-size="6.5" text-anchor="middle" fill="#222" stroke="#222" stroke-width="0.1" >*</text>
<path d="M299.3 30.9V30H314.9V30.9" fill="none" stroke="#333" stroke-width="0.6"/>
<text x="307.1" y="29.2" font-family='"Liberation Sans", Arial, sans-serif' font-size="6.3" text-anchor="middle" fill="#2a2a2a" stroke="#2a2a2a" stroke-width="0.08" >ns</text>
<path d="M314.9 28.4V27.5H330.6V28.4" fill="none" stroke="#333" stroke-width="0.6"/>
<text x="322.75" y="27.7" font-family='"Liberation Sans", Arial, sans-serif' font-size="6.5" text-anchor="middle" fill="#222" stroke="#222" stroke-width="0.1" >**</text>
<path d="M346.1 22.15V21.25H377.3V22.15" fill="none" stroke="#333" stroke-width="0.6"/>
<text x="361.7" y="20.45" font-family='"Liberation Sans", Arial, sans-serif' font-size="6.3" text-anchor="middle" fill="#2a2a2a" stroke="#2a2a2a" stroke-width="0.08" >ns</text>
<path d="M346.1 30.9V30H361.7V30.9" fill="none" stroke="#333" stroke-width="0.6"/>
<text x="353.9" y="29.2" font-family='"Liberation Sans", Arial, sans-serif' font-size="6.3" text-anchor="middle" fill="#2a2a2a" stroke="#2a2a2a" stroke-width="0.08" >ns</text>
<path d="M361.7 28.4V27.5H377.3V28.4" fill="none" stroke="#333" stroke-width="0.6"/>
<text x="369.5" y="26.7" font-family='"Liberation Sans", Arial, sans-serif' font-size="6.3" text-anchor="middle" fill="#2a2a2a" stroke="#2a2a2a" stroke-width="0.08" >ns</text>
<text x="292" y="8.6" font-family='"DejaVu Sans Condensed", "DejaVu Sans", sans-serif' font-size="8.6" text-anchor="start" fill="#111" textLength="78" lengthAdjust="spacingAndGlyphs" stroke="#111" stroke-width="0.18" >Type I IFN signature</text>
<line x1="416.9" y1="13.75" x2="416.9" y2="110.25" stroke="#3c3c3c" stroke-width="0.9" />
<line x1="416.45" y1="109.8" x2="512.5" y2="109.8" stroke="#3c3c3c" stroke-width="0.9" />
<line x1="415" y1="105.5" x2="416.9" y2="105.5" stroke="#222" stroke-width="0.6" />
<text x="413.7" y="107.8" font-family='"Liberation Sans", Arial, sans-serif' font-size="6.65" text-anchor="end" fill="#111" stroke="#111" stroke-width="0.08" >0.0</text>
<line x1="415" y1="82" x2="416.9" y2="82" stroke="#222" stroke-width="0.6" />
<text x="413.7" y="84.3" font-family='"Liberation Sans", Arial, sans-serif' font-size="6.65" text-anchor="end" fill="#111" stroke="#111" stroke-width="0.08" >2.5</text>
<line x1="415" y1="58.5" x2="416.9" y2="58.5" stroke="#222" stroke-width="0.6" />
<text x="413.7" y="60.8" font-family='"Liberation Sans", Arial, sans-serif' font-size="6.65" text-anchor="end" fill="#111" stroke="#111" stroke-width="0.08" >5.0</text>
<line x1="415" y1="35" x2="416.9" y2="35" stroke="#222" stroke-width="0.6" />
<text x="413.7" y="37.3" font-family='"Liberation Sans", Arial, sans-serif' font-size="6.65" text-anchor="end" fill="#111" stroke="#111" stroke-width="0.08" >7.5</text>
<line x1="426.25" y1="109.8" x2="426.25" y2="111.8" stroke="#222" stroke-width="0.6" />
<text x="429.45" y="116.4" font-family='"Liberation Sans", Arial, sans-serif' font-size="6.8" text-anchor="end" fill="#111" transform="rotate(-45 429.45 116.4)" stroke="#111" stroke-width="0.18" >AD.Cold</text>
<line x1="441.75" y1="109.8" x2="441.75" y2="111.8" stroke="#222" stroke-width="0.6" />
<text x="444.95" y="116.4" font-family='"Liberation Sans", Arial, sans-serif' font-size="6.8" text-anchor="end" fill="#111" transform="rotate(-45 444.95 116.4)" stroke="#111" stroke-width="0.18" >AD.Myeloid</text>
<line x1="457" y1="109.8" x2="457" y2="111.8" stroke="#222" stroke-width="0.6" />
<text x="460.2" y="116.4" font-family='"Liberation Sans", Arial, sans-serif' font-size="6.8" text-anchor="end" fill="#111" transform="rotate(-45 460.2 116.4)" stroke="#111" stroke-width="0.18" >AD.CD8</text>
<line x1="473" y1="109.8" x2="473" y2="111.8" stroke="#222" stroke-width="0.6" />
<text x="476.2" y="116.4" font-family='"Liberation Sans", Arial, sans-serif' font-size="6.8" text-anchor="end" fill="#111" transform="rotate(-45 476.2 116.4)" stroke="#111" stroke-width="0.18" >SQ.Cold</text>
<line x1="488.25" y1="109.8" x2="488.25" y2="111.8" stroke="#222" stroke-width="0.6" />
<text x="491.45" y="116.4" font-family='"Liberation Sans", Arial, sans-serif' font-size="6.8" text-anchor="end" fill="#111" transform="rotate(-45 491.45 116.4)" stroke="#111" stroke-width="0.18" >SQ.Myeloid</text>
<line x1="503.75" y1="109.8" x2="503.75" y2="111.8" stroke="#222" stroke-width="0.6" />
<text x="506.95" y="116.4" font-family='"Liberation Sans", Arial, sans-serif' font-size="6.8" text-anchor="end" fill="#111" transform="rotate(-45 506.95 116.4)" stroke="#111" stroke-width="0.18" >SQ.CD8</text>
<g stroke="#5a4dae" stroke-width="0.65" stroke-opacity="0.95" fill="none">
<rect x="420.75" y="67" width="11" height="13"/>
<path d="M420.75 72H431.75" stroke-width="0.9"/>
<path d="M426.25 57.5V67M426.25 80V95"/>
</g>
<g fill="#5a4dae">
<circle cx="423.67" cy="57.5" r="1.3"/>
<circle cx="423.56" cy="95" r="1.3"/>
<circle cx="425.47" cy="65.15" r="1.3"/>
<circle cx="424.12" cy="84.07" r="1.3"/>
<circle cx="425.48" cy="76.67" r="1.3"/>
<circle cx="424.76" cy="77.66" r="1.3"/>
<circle cx="426.7" cy="75.31" r="1.3"/>
<circle cx="426.73" cy="86.38" r="1.3"/>
<circle cx="424.65" cy="65.52" r="1.3"/>
<circle cx="426.92" cy="67.44" r="1.3"/>
<circle cx="426.11" cy="75.01" r="1.3"/>
<circle cx="424.28" cy="73.66" r="1.3"/>
<circle cx="428.61" cy="80.59" r="1.3"/>
<circle cx="424.87" cy="75.49" r="1.3"/>
</g>
<g stroke="#159a70" stroke-width="0.65" stroke-opacity="0.95" fill="none">
<rect x="436.25" y="65.5" width="11" height="14"/>
<path d="M436.25 73.75H447.25" stroke-width="0.9"/>
<path d="M441.75 57V65.5M441.75 79.5V93"/>
</g>
<g fill="#159a70">
<circle cx="444.15" cy="57" r="1.3"/>
<circle cx="443.08" cy="93" r="1.3"/>
<circle cx="440.82" cy="66.84" r="1.3"/>
<circle cx="443.8" cy="58.68" r="1.3"/>
<circle cx="440.82" cy="82.64" r="1.3"/>
<circle cx="440.34" cy="65.66" r="1.3"/>
<circle cx="443.95" cy="62.12" r="1.3"/>
<circle cx="442.46" cy="74.54" r="1.3"/>
<circle cx="442.79" cy="78.62" r="1.3"/>
<circle cx="442.64" cy="64.58" r="1.3"/>
<circle cx="444.34" cy="79.59" r="1.3"/>
<circle cx="441.59" cy="63.49" r="1.3"/>
<circle cx="443.58" cy="66.32" r="1.3"/>
<circle cx="442.82" cy="79.51" r="1.3"/>
<circle cx="443.68" cy="57.79" r="1.3"/>
<circle cx="441.41" cy="68.29" r="1.3"/>
<circle cx="442.96" cy="62.63" r="1.3"/>
<circle cx="442.13" cy="59.39" r="1.3"/>
<circle cx="440.71" cy="69.83" r="1.3"/>
<circle cx="440.19" cy="66.18" r="1.3"/>
<circle cx="442.41" cy="88.63" r="1.3"/>
<circle cx="439.47" cy="65.5" r="1.3"/>
<circle cx="443.97" cy="87.93" r="1.3"/>
<circle cx="439.83" cy="75.88" r="1.3"/>
<circle cx="439.2" cy="68.66" r="1.3"/>
<circle cx="439.63" cy="68.75" r="1.3"/>
<circle cx="444.07" cy="70.2" r="1.3"/>
<circle cx="440.91" cy="60.75" r="1.3"/>
<circle cx="439.82" cy="87.33" r="1.3"/>
<circle cx="439.21" cy="73.25" r="1.3"/>
<circle cx="439.27" cy="76.54" r="1.3"/>
<circle cx="442.79" cy="64.48" r="1.3"/>
<circle cx="442.47" cy="57.47" r="1.3"/>
<circle cx="442.81" cy="77.82" r="1.3"/>
<circle cx="443.03" cy="69.15" r="1.3"/>
<circle cx="439.41" cy="75.91" r="1.3"/>
</g>
<g stroke="#d9590c" stroke-width="0.65" stroke-opacity="0.95" fill="none">
<rect x="451.5" y="58" width="11" height="14"/>
<path d="M451.5 64.25H462.5" stroke-width="0.9"/>
<path d="M457 49.25V58M457 72V83.75"/>
</g>
<g fill="#d9590c">
<circle cx="459.4" cy="49.25" r="1.3"/>
<circle cx="455.83" cy="83.75" r="1.3"/>
<circle cx="455.46" cy="56.27" r="1.3"/>
<circle cx="458.08" cy="80.55" r="1.3"/>
<circle cx="456.99" cy="72.15" r="1.3"/>
<circle cx="454.89" cy="82.18" r="1.3"/>
<circle cx="457.74" cy="72.33" r="1.3"/>
<circle cx="454.74" cy="59.57" r="1.3"/>
<circle cx="458.55" cy="69.87" r="1.3"/>
<circle cx="458.06" cy="77.67" r="1.3"/>
<circle cx="458.55" cy="77.63" r="1.3"/>
<circle cx="457.69" cy="59.4" r="1.3"/>
<circle cx="456.22" cy="68.6" r="1.3"/>
<circle cx="456.47" cy="62.47" r="1.3"/>
<circle cx="456.43" cy="58.29" r="1.3"/>
<circle cx="459.11" cy="61.96" r="1.3"/>
<circle cx="454.77" cy="56.23" r="1.3"/>
<circle cx="459.1" cy="71.5" r="1.3"/>
<circle cx="454.44" cy="51.24" r="1.3"/>
<circle cx="455.41" cy="57.97" r="1.3"/>
<circle cx="455.72" cy="64.11" r="1.3"/>
<circle cx="459.17" cy="74.16" r="1.3"/>
<circle cx="457.01" cy="54.76" r="1.3"/>
<circle cx="456.35" cy="70.07" r="1.3"/>
<circle cx="459.07" cy="69.48" r="1.3"/>
<circle cx="455.56" cy="58.02" r="1.3"/>
<circle cx="456.79" cy="68.67" r="1.3"/>
<circle cx="457.17" cy="72" r="1.3"/>
<circle cx="458.37" cy="64.88" r="1.3"/>
<circle cx="458.37" cy="72.79" r="1.3"/>
<circle cx="457.79" cy="62.86" r="1.3"/>
<circle cx="456.18" cy="73.37" r="1.3"/>
<circle cx="456.06" cy="32" r="1.3"/>
</g>
<g stroke="#6a84d4" stroke-width="0.65" stroke-opacity="0.95" fill="none">
<rect x="467.5" y="66.25" width="11" height="18.25"/>
<path d="M467.5 73.25H478.5" stroke-width="0.9"/>
<path d="M473 50.5V66.25M473 84.5V94.25"/>
</g>
<g fill="#6a84d4">
<circle cx="471.33" cy="50.5" r="1.3"/>
<circle cx="471.93" cy="94.25" r="1.3"/>
<circle cx="474.1" cy="81.64" r="1.3"/>
<circle cx="474.86" cy="56.48" r="1.3"/>
<circle cx="471.13" cy="74.26" r="1.3"/>
<circle cx="471.14" cy="88.57" r="1.3"/>
<circle cx="471.64" cy="74.68" r="1.3"/>
<circle cx="472.06" cy="85.48" r="1.3"/>
</g>
<g stroke="#3dbb8e" stroke-width="0.65" stroke-opacity="0.95" fill="none">
<rect x="482.75" y="69.25" width="11" height="10.75"/>
<path d="M482.75 73.75H493.75" stroke-width="0.9"/>
<path d="M488.25 60V69.25M488.25 80V87.5"/>
</g>
<g fill="#3dbb8e">
<circle cx="488.65" cy="60" r="1.3"/>
<circle cx="489.6" cy="87.5" r="1.3"/>
<circle cx="487.82" cy="68.75" r="1.3"/>
<circle cx="486.78" cy="71.28" r="1.3"/>
<circle cx="489.45" cy="84.52" r="1.3"/>
<circle cx="490.3" cy="79.6" r="1.3"/>
<circle cx="489.73" cy="73.38" r="1.3"/>
<circle cx="489.33" cy="85.19" r="1.3"/>
<circle cx="490.15" cy="66.81" r="1.3"/>
<circle cx="489.22" cy="76.11" r="1.3"/>
<circle cx="489.01" cy="71.47" r="1.3"/>
<circle cx="488" cy="69.61" r="1.3"/>
<circle cx="487.24" cy="77.75" r="1.3"/>
<circle cx="488.94" cy="66.19" r="1.3"/>
<circle cx="486.08" cy="66.55" r="1.3"/>
<circle cx="487.82" cy="75.74" r="1.3"/>
<circle cx="489.77" cy="77.22" r="1.3"/>
<circle cx="489.4" cy="81.94" r="1.3"/>
<circle cx="488.95" cy="45.75" r="1.3"/>
</g>
<g stroke="#f86f3c" stroke-width="0.65" stroke-opacity="0.95" fill="none">
<rect x="498.25" y="54.5" width="11" height="11.75"/>
<path d="M498.25 61.25H509.25" stroke-width="0.9"/>
<path d="M503.75 45.5V54.5M503.75 66.25V79.5"/>
</g>
<g fill="#f86f3c">
<circle cx="506.17" cy="45.5" r="1.3"/>
<circle cx="502.18" cy="79.5" r="1.3"/>
<circle cx="504.75" cy="59.48" r="1.3"/>
<circle cx="503.17" cy="61.8" r="1.3"/>
<circle cx="505.17" cy="62.43" r="1.3"/>
<circle cx="501.71" cy="67.13" r="1.3"/>
<circle cx="506.37" cy="48.47" r="1.3"/>
<circle cx="502.97" cy="60.26" r="1.3"/>
<circle cx="501.36" cy="66.32" r="1.3"/>
<circle cx="502.53" cy="54.02" r="1.3"/>
<circle cx="503.21" cy="78.26" r="1.3"/>
<circle cx="501.12" cy="54.27" r="1.3"/>
<circle cx="503.31" cy="51.13" r="1.3"/>
<circle cx="503.32" cy="51.41" r="1.3"/>
<circle cx="504.82" cy="47.83" r="1.3"/>
<circle cx="502.95" cy="52.34" r="1.3"/>
</g>
<path d="M426.25 23.45V21.25H457V23.45" fill="none" stroke="#333" stroke-width="0.6"/>
<text x="441.62" y="21.45" font-family='"Liberation Sans", Arial, sans-serif' font-size="6.5" text-anchor="middle" fill="#222" stroke="#222" stroke-width="0.1" >*</text>
<path d="M426.25 33.45V31.25H441.75V33.45" fill="none" stroke="#333" stroke-width="0.6"/>
<text x="434" y="30.45" font-family='"Liberation Sans", Arial, sans-serif' font-size="6.3" text-anchor="middle" fill="#2a2a2a" stroke="#2a2a2a" stroke-width="0.08" >ns</text>
<path d="M441.75 30.45V28.25H457V30.45" fill="none" stroke="#333" stroke-width="0.6"/>
<text x="449.38" y="28.45" font-family='"Liberation Sans", Arial, sans-serif' font-size="6.5" text-anchor="middle" fill="#222" stroke="#222" stroke-width="0.1" >**</text>
<path d="M473 23.45V21.25H503.75V23.45" fill="none" stroke="#333" stroke-width="0.6"/>
<text x="488.38" y="21.45" font-family='"Liberation Sans", Arial, sans-serif' font-size="6.5" text-anchor="middle" fill="#222" stroke="#222" stroke-width="0.1" >*</text>
<path d="M473 33.45V31.25H488.25V33.45" fill="none" stroke="#333" stroke-width="0.6"/>
<text x="480.62" y="30.45" font-family='"Liberation Sans", Arial, sans-serif' font-size="6.3" text-anchor="middle" fill="#2a2a2a" stroke="#2a2a2a" stroke-width="0.08" >ns</text>
<path d="M488.25 30.45V28.25H503.75V30.45" fill="none" stroke="#333" stroke-width="0.6"/>
<text x="496" y="28.45" font-family='"Liberation Sans", Arial, sans-serif' font-size="6.5" text-anchor="middle" fill="#222" stroke="#222" stroke-width="0.1" >***</text>
<text x="416.25" y="8.6" font-family='"DejaVu Sans Condensed", "DejaVu Sans", sans-serif' font-size="8.6" text-anchor="start" fill="#111" textLength="57.5" lengthAdjust="spacingAndGlyphs" stroke="#111" stroke-width="0.18" >IFNγ signature</text>
<line x1="33.85" y1="167" x2="33.85" y2="270.45" stroke="#3c3c3c" stroke-width="0.9" />
<line x1="33.4" y1="270" x2="127.8" y2="270" stroke="#3c3c3c" stroke-width="0.9" />
<line x1="31.95" y1="265.5" x2="33.85" y2="265.5" stroke="#222" stroke-width="0.6" />
<text x="30.65" y="267.8" font-family='"Liberation Sans", Arial, sans-serif' font-size="6.65" text-anchor="end" fill="#111" stroke="#111" stroke-width="0.08" >0.0</text>
<line x1="31.95" y1="242" x2="33.85" y2="242" stroke="#222" stroke-width="0.6" />
<text x="30.65" y="244.3" font-family='"Liberation Sans", Arial, sans-serif' font-size="6.65" text-anchor="end" fill="#111" stroke="#111" stroke-width="0.08" >2.5</text>
<line x1="31.95" y1="218.5" x2="33.85" y2="218.5" stroke="#222" stroke-width="0.6" />
<text x="30.65" y="220.8" font-family='"Liberation Sans", Arial, sans-serif' font-size="6.65" text-anchor="end" fill="#111" stroke="#111" stroke-width="0.08" >5.0</text>
<line x1="31.95" y1="195" x2="33.85" y2="195" stroke="#222" stroke-width="0.6" />
<text x="30.65" y="197.3" font-family='"Liberation Sans", Arial, sans-serif' font-size="6.65" text-anchor="end" fill="#111" stroke="#111" stroke-width="0.08" >7.5</text>
<line x1="31.95" y1="171.5" x2="33.85" y2="171.5" stroke="#222" stroke-width="0.6" />
<text x="30.65" y="173.8" font-family='"Liberation Sans", Arial, sans-serif' font-size="6.65" text-anchor="end" fill="#111" stroke="#111" stroke-width="0.08" >10.0</text>
<line x1="43" y1="270" x2="43" y2="272" stroke="#222" stroke-width="0.6" />
<text x="46.2" y="276.6" font-family='"Liberation Sans", Arial, sans-serif' font-size="6.8" text-anchor="end" fill="#111" transform="rotate(-45 46.2 276.6)" stroke="#111" stroke-width="0.18" >AD.Cold</text>
<line x1="58.25" y1="270" x2="58.25" y2="272" stroke="#222" stroke-width="0.6" />
<text x="61.45" y="276.6" font-family='"Liberation Sans", Arial, sans-serif' font-size="6.8" text-anchor="end" fill="#111" transform="rotate(-45 61.45 276.6)" stroke="#111" stroke-width="0.18" >AD.Myeloid</text>
<line x1="73.75" y1="270" x2="73.75" y2="272" stroke="#222" stroke-width="0.6" />
<text x="76.95" y="276.6" font-family='"Liberation Sans", Arial, sans-serif' font-size="6.8" text-anchor="end" fill="#111" transform="rotate(-45 76.95 276.6)" stroke="#111" stroke-width="0.18" >AD.CD8</text>
<line x1="88.25" y1="270" x2="88.25" y2="272" stroke="#222" stroke-width="0.6" />
<text x="91.45" y="276.6" font-family='"Liberation Sans", Arial, sans-serif' font-size="6.8" text-anchor="end" fill="#111" transform="rotate(-45 91.45 276.6)" stroke="#111" stroke-width="0.18" >SQ.Cold</text>
<line x1="103.75" y1="270" x2="103.75" y2="272" stroke="#222" stroke-width="0.6" />
<text x="106.95" y="276.6" font-family='"Liberation Sans", Arial, sans-serif' font-size="6.8" text-anchor="end" fill="#111" transform="rotate(-45 106.95 276.6)" stroke="#111" stroke-width="0.18" >SQ.Myeloid</text>
<line x1="118.75" y1="270" x2="118.75" y2="272" stroke="#222" stroke-width="0.6" />
<text x="121.95" y="276.6" font-family='"Liberation Sans", Arial, sans-serif' font-size="6.8" text-anchor="end" fill="#111" transform="rotate(-45 121.95 276.6)" stroke="#111" stroke-width="0.18" >SQ.CD8</text>
<g stroke="#5a4dae" stroke-width="0.65" stroke-opacity="0.95" fill="none">
<rect x="37.5" y="197" width="11" height="20.5"/>
<path d="M37.5 202.5H48.5" stroke-width="0.9"/>
<path d="M43 190V197M43 217.5V226.25"/>
</g>
<g fill="#5a4dae">
<circle cx="45.5" cy="190" r="1.3"/>
<circle cx="42.21" cy="226.25" r="1.3"/>
<circle cx="43.75" cy="201.6" r="1.3"/>
<circle cx="44.72" cy="190.66" r="1.3"/>
<circle cx="44.71" cy="196.38" r="1.3"/>
<circle cx="42.83" cy="219.46" r="1.3"/>
<circle cx="41.89" cy="199.65" r="1.3"/>
<circle cx="43.26" cy="223.74" r="1.3"/>
<circle cx="40.98" cy="194.91" r="1.3"/>
<circle cx="44.8" cy="196.35" r="1.3"/>
</g>
<g stroke="#159a70" stroke-width="0.65" stroke-opacity="0.95" fill="none">
<rect x="52.75" y="199.5" width="11" height="7.5"/>
<path d="M52.75 202.5H63.75" stroke-width="0.9"/>
<path d="M58.25 187.5V199.5M58.25 207V218.75"/>
</g>
<g fill="#159a70">
<circle cx="60.32" cy="187.5" r="1.3"/>
<circle cx="58.55" cy="218.75" r="1.3"/>
<circle cx="56.98" cy="205.88" r="1.3"/>
<circle cx="56.81" cy="202.32" r="1.3"/>
<circle cx="56.3" cy="202.7" r="1.3"/>
<circle cx="58.21" cy="199.52" r="1.3"/>
<circle cx="55.87" cy="197.92" r="1.3"/>
<circle cx="58.07" cy="201.76" r="1.3"/>
<circle cx="56.33" cy="202.71" r="1.3"/>
<circle cx="58.2" cy="193.34" r="1.3"/>
<circle cx="58.24" cy="206.47" r="1.3"/>
<circle cx="58.46" cy="207.12" r="1.3"/>
<circle cx="60.21" cy="217.03" r="1.3"/>
<circle cx="55.59" cy="207.51" r="1.3"/>
<circle cx="60.09" cy="212.66" r="1.3"/>
<circle cx="58.08" cy="199.59" r="1.3"/>
<circle cx="58.59" cy="212.98" r="1.3"/>
<circle cx="59.14" cy="200.26" r="1.3"/>
<circle cx="60.09" cy="201.25" r="1.3"/>
<circle cx="57.57" cy="209.16" r="1.3"/>
<circle cx="57.81" cy="206.28" r="1.3"/>
<circle cx="60.74" cy="207.68" r="1.3"/>
<circle cx="55.96" cy="212.31" r="1.3"/>
<circle cx="58.99" cy="213.17" r="1.3"/>
<circle cx="58.99" cy="215.03" r="1.3"/>
<circle cx="55.7" cy="207.88" r="1.3"/>
<circle cx="58.84" cy="195.14" r="1.3"/>
<circle cx="59.24" cy="196.29" r="1.3"/>
</g>
<g stroke="#d9590c" stroke-width="0.65" stroke-opacity="0.95" fill="none">
<rect x="68.25" y="193.75" width="11" height="7.5"/>
<path d="M68.25 197.5H79.25" stroke-width="0.9"/>
<path d="M73.75 186.25V193.75M73.75 201.25V205.5"/>
</g>
<g fill="#d9590c">
<circle cx="74.22" cy="186.25" r="1.3"/>
<circle cx="74.48" cy="205.5" r="1.3"/>
<circle cx="75.28" cy="201.97" r="1.3"/>
<circle cx="71.27" cy="202.7" r="1.3"/>
<circle cx="74.95" cy="200.48" r="1.3"/>
<circle cx="75.83" cy="199.14" r="1.3"/>
<circle cx="74" cy="192.42" r="1.3"/>
<circle cx="71.32" cy="202.1" r="1.3"/>
<circle cx="72.67" cy="197.69" r="1.3"/>
<circle cx="71.08" cy="201.6" r="1.3"/>
<circle cx="72.08" cy="196.92" r="1.3"/>
<circle cx="76.03" cy="188.22" r="1.3"/>
<circle cx="74.34" cy="199.96" r="1.3"/>
<circle cx="74.6" cy="197.53" r="1.3"/>
<circle cx="75.31" cy="197.55" r="1.3"/>
<circle cx="75.96" cy="203.41" r="1.3"/>
<circle cx="74.35" cy="201.97" r="1.3"/>
<circle cx="74.38" cy="195.99" r="1.3"/>
</g>
<g stroke="#6a84d4" stroke-width="0.65" stroke-opacity="0.95" fill="none">
<rect x="82.75" y="204.5" width="11" height="9.75"/>
<path d="M82.75 211.25H93.75" stroke-width="0.9"/>
<path d="M88.25 195V204.5M88.25 214.25V227.5"/>
</g>
<g fill="#6a84d4">
<circle cx="88.02" cy="195" r="1.3"/>
<circle cx="89.67" cy="227.5" r="1.3"/>
<circle cx="86.1" cy="199.18" r="1.3"/>
<circle cx="86.53" cy="199.36" r="1.3"/>
<circle cx="85.75" cy="211" r="1.3"/>
</g>
<g stroke="#3dbb8e" stroke-width="0.65" stroke-opacity="0.95" fill="none">
<rect x="98.25" y="199.25" width="11" height="15"/>
<path d="M98.25 204.5H109.25" stroke-width="0.9"/>
<path d="M103.75 193.75V199.25M103.75 214.25V221.25"/>
</g>
<g fill="#3dbb8e">
<circle cx="104.25" cy="193.75" r="1.3"/>
<circle cx="106.11" cy="221.25" r="1.3"/>
<circle cx="106.35" cy="220.31" r="1.3"/>
<circle cx="103.62" cy="198.13" r="1.3"/>
<circle cx="103.28" cy="219.02" r="1.3"/>
<circle cx="101.6" cy="198.62" r="1.3"/>
<circle cx="104.53" cy="205.58" r="1.3"/>
<circle cx="102.2" cy="205.71" r="1.3"/>
<circle cx="101.87" cy="194.32" r="1.3"/>
<circle cx="101.13" cy="207.76" r="1.3"/>
<circle cx="101.08" cy="201.03" r="1.3"/>
<circle cx="104.74" cy="217.14" r="1.3"/>
<circle cx="101.71" cy="216.18" r="1.3"/>
<circle cx="106.27" cy="205.06" r="1.3"/>
<circle cx="101.53" cy="241.25" r="1.3"/>
</g>
<g stroke="#f86f3c" stroke-width="0.65" stroke-opacity="0.95" fill="none">
<rect x="113.25" y="199.25" width="11" height="11.5"/>
<path d="M113.25 205.75H124.25" stroke-width="0.9"/>
<path d="M118.75 192V199.25M118.75 210.75V220"/>
</g>
<g fill="#f86f3c">
<circle cx="116.48" cy="192" r="1.3"/>
<circle cx="117.73" cy="220" r="1.3"/>
<circle cx="119.99" cy="211.1" r="1.3"/>
<circle cx="116.95" cy="207.52" r="1.3"/>
<circle cx="120.7" cy="207.69" r="1.3"/>
<circle cx="118.68" cy="199.83" r="1.3"/>
<circle cx="116.37" cy="216.14" r="1.3"/>
<circle cx="118.03" cy="216.34" r="1.3"/>
<circle cx="119.15" cy="206.48" r="1.3"/>
<circle cx="118.42" cy="197.15" r="1.3"/>
<circle cx="119.71" cy="211.78" r="1.3"/>
<circle cx="116.83" cy="216.18" r="1.3"/>
<circle cx="120.36" cy="199.42" r="1.3"/>
<circle cx="118.01" cy="194" r="1.3"/>
<circle cx="119.53" cy="243" r="1.3"/>
</g>
<path d="M43 178.45V176.25H73.75V178.45" fill="none" stroke="#333" stroke-width="0.6"/>
<text x="58.38" y="175.45" font-family='"Liberation Sans", Arial, sans-serif' font-size="6.3" text-anchor="middle" fill="#2a2a2a" stroke="#2a2a2a" stroke-width="0.08" >ns</text>
<path d="M43 187.7V185.5H58.25V187.7" fill="none" stroke="#333" stroke-width="0.6"/>
<text x="50.62" y="184.7" font-family='"Liberation Sans", Arial, sans-serif' font-size="6.3" text-anchor="middle" fill="#2a2a2a" stroke="#2a2a2a" stroke-width="0.08" >ns</text>
<path d="M58.25 185.2V183H73.75V185.2" fill="none" stroke="#333" stroke-width="0.6"/>
<text x="66" y="183.2" font-family='"Liberation Sans", Arial, sans-serif' font-size="6.5" text-anchor="middle" fill="#222" stroke="#222" stroke-width="0.1" >*</text>
<path d="M88.25 178.45V176.25H118.75V178.45" fill="none" stroke="#333" stroke-width="0.6"/>
<text x="103.5" y="175.45" font-family='"Liberation Sans", Arial, sans-serif' font-size="6.3" text-anchor="middle" fill="#2a2a2a" stroke="#2a2a2a" stroke-width="0.08" >ns</text>
<path d="M88.25 187.7V185.5H103.75V187.7" fill="none" stroke="#333" stroke-width="0.6"/>
<text x="96" y="184.7" font-family='"Liberation Sans", Arial, sans-serif' font-size="6.3" text-anchor="middle" fill="#2a2a2a" stroke="#2a2a2a" stroke-width="0.08" >ns</text>
<path d="M103.75 185.2V183H118.75V185.2" fill="none" stroke="#333" stroke-width="0.6"/>
<text x="111.25" y="182.2" font-family='"Liberation Sans", Arial, sans-serif' font-size="6.3" text-anchor="middle" fill="#2a2a2a" stroke="#2a2a2a" stroke-width="0.08" >NS.</text>
<text x="31.25" y="159.3" font-family='"DejaVu Sans Condensed", "DejaVu Sans", sans-serif' font-size="8.6" text-anchor="start" fill="#111" textLength="20.5" lengthAdjust="spacingAndGlyphs" stroke="#111" stroke-width="0.18" >TCRα</text>
<line x1="160.5" y1="167" x2="160.5" y2="270.45" stroke="#3c3c3c" stroke-width="0.9" />
<line x1="160.05" y1="270" x2="255" y2="270" stroke="#3c3c3c" stroke-width="0.9" />
<line x1="158.6" y1="265.5" x2="160.5" y2="265.5" stroke="#222" stroke-width="0.6" />
<text x="157.3" y="267.8" font-family='"Liberation Sans", Arial, sans-serif' font-size="6.65" text-anchor="end" fill="#111" stroke="#111" stroke-width="0.08" >0.0</text>
<line x1="158.6" y1="242" x2="160.5" y2="242" stroke="#222" stroke-width="0.6" />
<text x="157.3" y="244.3" font-family='"Liberation Sans", Arial, sans-serif' font-size="6.65" text-anchor="end" fill="#111" stroke="#111" stroke-width="0.08" >2.5</text>
<line x1="158.6" y1="218.5" x2="160.5" y2="218.5" stroke="#222" stroke-width="0.6" />
<text x="157.3" y="220.8" font-family='"Liberation Sans", Arial, sans-serif' font-size="6.65" text-anchor="end" fill="#111" stroke="#111" stroke-width="0.08" >5.0</text>
<line x1="158.6" y1="195" x2="160.5" y2="195" stroke="#222" stroke-width="0.6" />
<text x="157.3" y="197.3" font-family='"Liberation Sans", Arial, sans-serif' font-size="6.65" text-anchor="end" fill="#111" stroke="#111" stroke-width="0.08" >7.5</text>
<line x1="158.6" y1="171.5" x2="160.5" y2="171.5" stroke="#222" stroke-width="0.6" />
<text x="157.3" y="173.8" font-family='"Liberation Sans", Arial, sans-serif' font-size="6.65" text-anchor="end" fill="#111" stroke="#111" stroke-width="0.08" >10.0</text>
<line x1="170" y1="270" x2="170" y2="272" stroke="#222" stroke-width="0.6" />
<text x="173.2" y="276.6" font-family='"Liberation Sans", Arial, sans-serif' font-size="6.8" text-anchor="end" fill="#111" transform="rotate(-45 173.2 276.6)" stroke="#111" stroke-width="0.18" >AD.Cold</text>
<line x1="185" y1="270" x2="185" y2="272" stroke="#222" stroke-width="0.6" />
<text x="188.2" y="276.6" font-family='"Liberation Sans", Arial, sans-serif' font-size="6.8" text-anchor="end" fill="#111" transform="rotate(-45 188.2 276.6)" stroke="#111" stroke-width="0.18" >AD.Myeloid</text>
<line x1="200.75" y1="270" x2="200.75" y2="272" stroke="#222" stroke-width="0.6" />
<text x="203.95" y="276.6" font-family='"Liberation Sans", Arial, sans-serif' font-size="6.8" text-anchor="end" fill="#111" transform="rotate(-45 203.95 276.6)" stroke="#111" stroke-width="0.18" >AD.CD8</text>
<line x1="215.5" y1="270" x2="215.5" y2="272" stroke="#222" stroke-width="0.6" />
<text x="218.7" y="276.6" font-family='"Liberation Sans", Arial, sans-serif' font-size="6.8" text-anchor="end" fill="#111" transform="rotate(-45 218.7 276.6)" stroke="#111" stroke-width="0.18" >SQ.Cold</text>
<line x1="230.5" y1="270" x2="230.5" y2="272" stroke="#222" stroke-width="0.6" />
<text x="233.7" y="276.6" font-family='"Liberation Sans", Arial, sans-serif' font-size="6.8" text-anchor="end" fill="#111" transform="rotate(-45 233.7 276.6)" stroke="#111" stroke-width="0.18" >SQ.Myeloid</text>
<line x1="245.5" y1="270" x2="245.5" y2="272" stroke="#222" stroke-width="0.6" />
<text x="248.7" y="276.6" font-family='"Liberation Sans", Arial, sans-serif' font-size="6.8" text-anchor="end" fill="#111" transform="rotate(-45 248.7 276.6)" stroke="#111" stroke-width="0.18" >SQ.CD8</text>
<g stroke="#5a4dae" stroke-width="0.65" stroke-opacity="0.95" fill="none">
<rect x="164.5" y="198" width="11" height="22.5"/>
<path d="M164.5 204.25H175.5" stroke-width="0.9"/>
<path d="M170 192.5V198M170 220.5V227.5"/>
</g>
<g fill="#5a4dae">
<circle cx="170.55" cy="192.5" r="1.3"/>
<circle cx="168.97" cy="227.5" r="1.3"/>
<circle cx="169.61" cy="196.64" r="1.3"/>
<circle cx="172.1" cy="215.69" r="1.3"/>
<circle cx="169.33" cy="225.25" r="1.3"/>
<circle cx="171" cy="197.23" r="1.3"/>
<circle cx="170.55" cy="219.91" r="1.3"/>
<circle cx="172.14" cy="193.94" r="1.3"/>
<circle cx="171.66" cy="211.63" r="1.3"/>
<circle cx="168.83" cy="225.71" r="1.3"/>
</g>
<g stroke="#159a70" stroke-width="0.65" stroke-opacity="0.95" fill="none">
<rect x="179.5" y="200" width="11" height="7"/>
<path d="M179.5 203.25H190.5" stroke-width="0.9"/>
<path d="M185 191.25V200M185 207V219.5"/>
</g>
<g fill="#159a70">
<circle cx="187.68" cy="191.25" r="1.3"/>
<circle cx="184.32" cy="219.5" r="1.3"/>
<circle cx="182.87" cy="201.84" r="1.3"/>
<circle cx="185.72" cy="204.11" r="1.3"/>
<circle cx="186.55" cy="217.33" r="1.3"/>
<circle cx="183.14" cy="205.83" r="1.3"/>
<circle cx="185.52" cy="216.95" r="1.3"/>
<circle cx="184.16" cy="198.9" r="1.3"/>
<circle cx="185.11" cy="215.87" r="1.3"/>
<circle cx="182.41" cy="192.43" r="1.3"/>
<circle cx="182.48" cy="200.6" r="1.3"/>
<circle cx="187.65" cy="193.91" r="1.3"/>
<circle cx="186.98" cy="205.25" r="1.3"/>
<circle cx="184.93" cy="208.22" r="1.3"/>
<circle cx="185.36" cy="195.31" r="1.3"/>
<circle cx="183.71" cy="201.45" r="1.3"/>
<circle cx="186.51" cy="205.26" r="1.3"/>
<circle cx="184.6" cy="210.6" r="1.3"/>
<circle cx="187.41" cy="205.65" r="1.3"/>
<circle cx="186.44" cy="208.21" r="1.3"/>
<circle cx="186.72" cy="192.65" r="1.3"/>
<circle cx="187.5" cy="211.42" r="1.3"/>
<circle cx="183.67" cy="204.13" r="1.3"/>
<circle cx="182.5" cy="201.35" r="1.3"/>
<circle cx="183.39" cy="204.91" r="1.3"/>
<circle cx="183.28" cy="203.95" r="1.3"/>
<circle cx="182.75" cy="203.62" r="1.3"/>
<circle cx="182.58" cy="200.31" r="1.3"/>
</g>
<g stroke="#d9590c" stroke-width="0.65" stroke-opacity="0.95" fill="none">
<rect x="195.25" y="195.5" width="11" height="7"/>
<path d="M195.25 198.75H206.25" stroke-width="0.9"/>
<path d="M200.75 186.25V195.5M200.75 202.5V207"/>
</g>
<g fill="#d9590c">
<circle cx="198.35" cy="186.25" r="1.3"/>
<circle cx="198.83" cy="207" r="1.3"/>
<circle cx="202.13" cy="188.09" r="1.3"/>
<circle cx="203.12" cy="202.13" r="1.3"/>
<circle cx="201.71" cy="202.56" r="1.3"/>
<circle cx="199.66" cy="193.39" r="1.3"/>
<circle cx="201.24" cy="202.22" r="1.3"/>
<circle cx="202.14" cy="199.45" r="1.3"/>
<circle cx="198.62" cy="186.89" r="1.3"/>
<circle cx="199.8" cy="193.42" r="1.3"/>
<circle cx="199.44" cy="196.62" r="1.3"/>
<circle cx="198.72" cy="206.94" r="1.3"/>
<circle cx="200.65" cy="195.77" r="1.3"/>
<circle cx="198.96" cy="197.96" r="1.3"/>
<circle cx="199.34" cy="206.33" r="1.3"/>
<circle cx="198.82" cy="202.53" r="1.3"/>
<circle cx="201.71" cy="205.1" r="1.3"/>
<circle cx="198.12" cy="186.46" r="1.3"/>
</g>
<g stroke="#6a84d4" stroke-width="0.65" stroke-opacity="0.95" fill="none">
<rect x="210" y="206.25" width="11" height="6.75"/>
<path d="M210 208H221" stroke-width="0.9"/>
<path d="M215.5 201.25V206.25M215.5 213V213"/>
</g>
<g fill="#6a84d4">
<circle cx="217.48" cy="201.25" r="1.3"/>
<circle cx="217.6" cy="213" r="1.3"/>
<circle cx="213.55" cy="205.88" r="1.3"/>
<circle cx="215.22" cy="212.51" r="1.3"/>
<circle cx="213.32" cy="212.55" r="1.3"/>
<circle cx="217.82" cy="223" r="1.3"/>
</g>
<g stroke="#3dbb8e" stroke-width="0.65" stroke-opacity="0.95" fill="none">
<rect x="225" y="199.25" width="11" height="17"/>
<path d="M225 206.25H236" stroke-width="0.9"/>
<path d="M230.5 196.25V199.25M230.5 216.25V238.75"/>
</g>
<g fill="#3dbb8e">
<circle cx="228.42" cy="196.25" r="1.3"/>
<circle cx="233.08" cy="238.75" r="1.3"/>
<circle cx="228.11" cy="226.95" r="1.3"/>
<circle cx="232.63" cy="205.03" r="1.3"/>
<circle cx="231.41" cy="223.15" r="1.3"/>
<circle cx="228.94" cy="199.12" r="1.3"/>
<circle cx="230.38" cy="200.21" r="1.3"/>
<circle cx="229.35" cy="198.09" r="1.3"/>
<circle cx="229.19" cy="214.05" r="1.3"/>
<circle cx="228.89" cy="206.25" r="1.3"/>
<circle cx="229.77" cy="203.86" r="1.3"/>
<circle cx="233.15" cy="220.15" r="1.3"/>
<circle cx="233.19" cy="207.6" r="1.3"/>
<circle cx="232.8" cy="214.6" r="1.3"/>
</g>
<g stroke="#f86f3c" stroke-width="0.65" stroke-opacity="0.95" fill="none">
<rect x="240" y="201.25" width="11" height="10"/>
<path d="M240 206.25H251" stroke-width="0.9"/>
<path d="M245.5 191.25V201.25M245.5 211.25V222.5"/>
</g>
<g fill="#f86f3c">
<circle cx="243.23" cy="191.25" r="1.3"/>
<circle cx="243.27" cy="222.5" r="1.3"/>
<circle cx="246.09" cy="204.14" r="1.3"/>
<circle cx="245.48" cy="211.37" r="1.3"/>
<circle cx="244.28" cy="199.84" r="1.3"/>
<circle cx="243.91" cy="211.27" r="1.3"/>
<circle cx="246.11" cy="213.26" r="1.3"/>
<circle cx="246.62" cy="201.27" r="1.3"/>
<circle cx="247.18" cy="215.28" r="1.3"/>
<circle cx="245.95" cy="205.6" r="1.3"/>
<circle cx="243.89" cy="212.24" r="1.3"/>
<circle cx="243.15" cy="200.83" r="1.3"/>
<circle cx="246.76" cy="208.95" r="1.3"/>
<circle cx="245" cy="200.51" r="1.3"/>
<circle cx="246.7" cy="232" r="1.3"/>
</g>
<path d="M170 178.45V176.25H200.75V178.45" fill="none" stroke="#333" stroke-width="0.6"/>
<text x="185.38" y="175.45" font-family='"Liberation Sans", Arial, sans-serif' font-size="6.3" text-anchor="middle" fill="#2a2a2a" stroke="#2a2a2a" stroke-width="0.08" >ns</text>
<path d="M170 188.45V186.25H185V188.45" fill="none" stroke="#333" stroke-width="0.6"/>
<text x="177.5" y="185.45" font-family='"Liberation Sans", Arial, sans-serif' font-size="6.3" text-anchor="middle" fill="#2a2a2a" stroke="#2a2a2a" stroke-width="0.08" >ns</text>
<path d="M185 185.2V183H200.75V185.2" fill="none" stroke="#333" stroke-width="0.6"/>
<text x="192.88" y="183.2" font-family='"Liberation Sans", Arial, sans-serif' font-size="6.5" text-anchor="middle" fill="#222" stroke="#222" stroke-width="0.1" >**</text>
<path d="M215.5 178.45V176.25H245.5V178.45" fill="none" stroke="#333" stroke-width="0.6"/>
<text x="230.5" y="175.45" font-family='"Liberation Sans", Arial, sans-serif' font-size="6.3" text-anchor="middle" fill="#2a2a2a" stroke="#2a2a2a" stroke-width="0.08" >ns</text>
<path d="M215.5 188.45V186.25H230.5V188.45" fill="none" stroke="#333" stroke-width="0.6"/>
<text x="223" y="185.45" font-family='"Liberation Sans", Arial, sans-serif' font-size="6.3" text-anchor="middle" fill="#2a2a2a" stroke="#2a2a2a" stroke-width="0.08" >ns</text>
<path d="M230.5 185.2V183H245.5V185.2" fill="none" stroke="#333" stroke-width="0.6"/>
<text x="238" y="182.2" font-family='"Liberation Sans", Arial, sans-serif' font-size="6.3" text-anchor="middle" fill="#2a2a2a" stroke="#2a2a2a" stroke-width="0.08" >ns</text>
<text x="153.75" y="159.3" font-family='"DejaVu Sans Condensed", "DejaVu Sans", sans-serif' font-size="8.6" text-anchor="start" fill="#111" textLength="19.5" lengthAdjust="spacingAndGlyphs" stroke="#111" stroke-width="0.18" >TCRβ</text>
<line x1="287.5" y1="167" x2="287.5" y2="270.45" stroke="#3c3c3c" stroke-width="0.9" />
<line x1="287.05" y1="270" x2="382" y2="270" stroke="#3c3c3c" stroke-width="0.9" />
<line x1="285.6" y1="265.5" x2="287.5" y2="265.5" stroke="#222" stroke-width="0.6" />
<text x="284.3" y="267.8" font-family='"Liberation Sans", Arial, sans-serif' font-size="6.65" text-anchor="end" fill="#111" stroke="#111" stroke-width="0.08" >0.0</text>
<line x1="285.6" y1="242" x2="287.5" y2="242" stroke="#222" stroke-width="0.6" />
<text x="284.3" y="244.3" font-family='"Liberation Sans", Arial, sans-serif' font-size="6.65" text-anchor="end" fill="#111" stroke="#111" stroke-width="0.08" >2.5</text>
<line x1="285.6" y1="218.5" x2="287.5" y2="218.5" stroke="#222" stroke-width="0.6" />
<text x="284.3" y="220.8" font-family='"Liberation Sans", Arial, sans-serif' font-size="6.65" text-anchor="end" fill="#111" stroke="#111" stroke-width="0.08" >5.0</text>
<line x1="285.6" y1="195" x2="287.5" y2="195" stroke="#222" stroke-width="0.6" />
<text x="284.3" y="197.3" font-family='"Liberation Sans", Arial, sans-serif' font-size="6.65" text-anchor="end" fill="#111" stroke="#111" stroke-width="0.08" >7.5</text>
<line x1="285.6" y1="171.5" x2="287.5" y2="171.5" stroke="#222" stroke-width="0.6" />
<text x="284.3" y="173.8" font-family='"Liberation Sans", Arial, sans-serif' font-size="6.65" text-anchor="end" fill="#111" stroke="#111" stroke-width="0.08" >10.0</text>
<line x1="296.75" y1="270" x2="296.75" y2="272" stroke="#222" stroke-width="0.6" />
<text x="299.95" y="276.6" font-family='"Liberation Sans", Arial, sans-serif' font-size="6.8" text-anchor="end" fill="#111" transform="rotate(-45 299.95 276.6)" stroke="#111" stroke-width="0.18" >AD.Cold</text>
<line x1="312" y1="270" x2="312" y2="272" stroke="#222" stroke-width="0.6" />
<text x="315.2" y="276.6" font-family='"Liberation Sans", Arial, sans-serif' font-size="6.8" text-anchor="end" fill="#111" transform="rotate(-45 315.2 276.6)" stroke="#111" stroke-width="0.18" >AD.Myeloid</text>
<line x1="327.5" y1="270" x2="327.5" y2="272" stroke="#222" stroke-width="0.6" />
<text x="330.7" y="276.6" font-family='"Liberation Sans", Arial, sans-serif' font-size="6.8" text-anchor="end" fill="#111" transform="rotate(-45 330.7 276.6)" stroke="#111" stroke-width="0.18" >AD.CD8</text>
<line x1="342.5" y1="270" x2="342.5" y2="272" stroke="#222" stroke-width="0.6" />
<text x="345.7" y="276.6" font-family='"Liberation Sans", Arial, sans-serif' font-size="6.8" text-anchor="end" fill="#111" transform="rotate(-45 345.7 276.6)" stroke="#111" stroke-width="0.18" >SQ.Cold</text>
<line x1="357.5" y1="270" x2="357.5" y2="272" stroke="#222" stroke-width="0.6" />
<text x="360.7" y="276.6" font-family='"Liberation Sans", Arial, sans-serif' font-size="6.8" text-anchor="end" fill="#111" transform="rotate(-45 360.7 276.6)" stroke="#111" stroke-width="0.18" >SQ.Myeloid</text>
<line x1="372.5" y1="270" x2="372.5" y2="272" stroke="#222" stroke-width="0.6" />
<text x="375.7" y="276.6" font-family='"Liberation Sans", Arial, sans-serif' font-size="6.8" text-anchor="end" fill="#111" transform="rotate(-45 375.7 276.6)" stroke="#111" stroke-width="0.18" >SQ.CD8</text>
<g stroke="#5a4dae" stroke-width="0.65" stroke-opacity="0.95" fill="none">
<rect x="291.25" y="237.5" width="11" height="8"/>
<path d="M291.25 241.25H302.25" stroke-width="0.9"/>
<path d="M296.75 228.25V237.5M296.75 245.5V251.75"/>
</g>
<g fill="#5a4dae">
<circle cx="297.26" cy="228.25" r="1.3"/>
<circle cx="294.08" cy="251.75" r="1.3"/>
<circle cx="296.86" cy="243.99" r="1.3"/>
<circle cx="296.46" cy="244.24" r="1.3"/>
<circle cx="296.83" cy="247.52" r="1.3"/>
<circle cx="294.7" cy="244.78" r="1.3"/>
<circle cx="297.91" cy="244.48" r="1.3"/>
<circle cx="298.46" cy="238.99" r="1.3"/>
<circle cx="298.72" cy="246.76" r="1.3"/>
<circle cx="295.78" cy="240.47" r="1.3"/>
</g>
<g stroke="#159a70" stroke-width="0.65" stroke-opacity="0.95" fill="none">
<rect x="306.5" y="236.25" width="11" height="10"/>
<path d="M306.5 242.5H317.5" stroke-width="0.9"/>
<path d="M312 225.5V236.25M312 246.25V255.5"/>
</g>
<g fill="#159a70">
<circle cx="311.13" cy="225.5" r="1.3"/>
<circle cx="310.6" cy="255.5" r="1.3"/>
<circle cx="311.11" cy="233.95" r="1.3"/>
<circle cx="311.65" cy="246.36" r="1.3"/>
<circle cx="314.6" cy="254.83" r="1.3"/>
<circle cx="313.64" cy="241.38" r="1.3"/>
<circle cx="314.23" cy="232.27" r="1.3"/>
<circle cx="313.7" cy="245.92" r="1.3"/>
<circle cx="313.88" cy="238.07" r="1.3"/>
<circle cx="309.59" cy="238.75" r="1.3"/>
<circle cx="312.09" cy="246.28" r="1.3"/>
<circle cx="314.47" cy="243.24" r="1.3"/>
<circle cx="314.35" cy="236.43" r="1.3"/>
<circle cx="310.65" cy="231.8" r="1.3"/>
<circle cx="311.58" cy="230.14" r="1.3"/>
<circle cx="312.72" cy="244.95" r="1.3"/>
<circle cx="311.27" cy="236.17" r="1.3"/>
<circle cx="312.17" cy="241.19" r="1.3"/>
<circle cx="309.67" cy="234.85" r="1.3"/>
<circle cx="311.64" cy="240.31" r="1.3"/>
<circle cx="312.03" cy="242.17" r="1.3"/>
<circle cx="309.41" cy="246.68" r="1.3"/>
<circle cx="310.05" cy="229.52" r="1.3"/>
<circle cx="314.54" cy="244.51" r="1.3"/>
<circle cx="313.49" cy="248.29" r="1.3"/>
<circle cx="314.36" cy="244.65" r="1.3"/>
<circle cx="312.72" cy="233.81" r="1.3"/>
<circle cx="313.67" cy="252.43" r="1.3"/>
</g>
<g stroke="#d9590c" stroke-width="0.65" stroke-opacity="0.95" fill="none">
<rect x="322" y="235" width="11" height="5.5"/>
<path d="M322 237.5H333" stroke-width="0.9"/>
<path d="M327.5 228V235M327.5 240.5V246.25"/>
</g>
<g fill="#d9590c">
<circle cx="327.75" cy="228" r="1.3"/>
<circle cx="329.33" cy="246.25" r="1.3"/>
<circle cx="328.09" cy="245.23" r="1.3"/>
<circle cx="327.88" cy="238.53" r="1.3"/>
<circle cx="328.31" cy="238.73" r="1.3"/>
<circle cx="325.89" cy="237.98" r="1.3"/>
<circle cx="328.64" cy="243.18" r="1.3"/>
<circle cx="327.29" cy="237.86" r="1.3"/>
<circle cx="327.76" cy="240.23" r="1.3"/>
<circle cx="328.11" cy="236.68" r="1.3"/>
<circle cx="327.33" cy="234.76" r="1.3"/>
<circle cx="326.48" cy="228.49" r="1.3"/>
<circle cx="326.11" cy="234.15" r="1.3"/>
<circle cx="326" cy="237.94" r="1.3"/>
<circle cx="327.57" cy="235.68" r="1.3"/>
<circle cx="326.87" cy="236.61" r="1.3"/>
<circle cx="327.96" cy="236.59" r="1.3"/>
<circle cx="324.86" cy="235.48" r="1.3"/>
</g>
<g stroke="#6a84d4" stroke-width="0.65" stroke-opacity="0.95" fill="none">
<rect x="337" y="240.75" width="11" height="6.75"/>
<path d="M337 244.25H348" stroke-width="0.9"/>
<path d="M342.5 239.5V240.75M342.5 247.5V255.5"/>
</g>
<g fill="#6a84d4">
<circle cx="345.13" cy="239.5" r="1.3"/>
<circle cx="341.4" cy="255.5" r="1.3"/>
<circle cx="343.97" cy="246.57" r="1.3"/>
<circle cx="340.66" cy="244.51" r="1.3"/>
<circle cx="340.16" cy="242.67" r="1.3"/>
</g>
<g stroke="#3dbb8e" stroke-width="0.65" stroke-opacity="0.95" fill="none">
<rect x="352" y="240.5" width="11" height="7"/>
<path d="M352 243.25H363" stroke-width="0.9"/>
<path d="M357.5 228V240.5M357.5 247.5V256.75"/>
</g>
<g fill="#3dbb8e">
<circle cx="359.74" cy="228" r="1.3"/>
<circle cx="355.49" cy="256.75" r="1.3"/>
<circle cx="359.5" cy="249.99" r="1.3"/>
<circle cx="354.82" cy="243.22" r="1.3"/>
<circle cx="358.93" cy="245.65" r="1.3"/>
<circle cx="357.96" cy="242.08" r="1.3"/>
<circle cx="357.49" cy="253.2" r="1.3"/>
<circle cx="360" cy="242.86" r="1.3"/>
<circle cx="357.89" cy="245.23" r="1.3"/>
<circle cx="357.06" cy="230.86" r="1.3"/>
<circle cx="359.03" cy="250.73" r="1.3"/>
<circle cx="359.51" cy="232.72" r="1.3"/>
<circle cx="358.08" cy="250.31" r="1.3"/>
<circle cx="356.85" cy="252.83" r="1.3"/>
</g>
<g stroke="#f86f3c" stroke-width="0.65" stroke-opacity="0.95" fill="none">
<rect x="367" y="236.25" width="11" height="9.25"/>
<path d="M367 240.75H378" stroke-width="0.9"/>
<path d="M372.5 234.5V236.25M372.5 245.5V258.75"/>
</g>
<g fill="#f86f3c">
<circle cx="372.1" cy="234.5" r="1.3"/>
<circle cx="374.72" cy="258.75" r="1.3"/>
<circle cx="369.86" cy="240.49" r="1.3"/>
<circle cx="370.06" cy="236" r="1.3"/>
<circle cx="372.85" cy="241.39" r="1.3"/>
<circle cx="372.49" cy="239.23" r="1.3"/>
<circle cx="374.77" cy="255.71" r="1.3"/>
<circle cx="373.98" cy="240.36" r="1.3"/>
<circle cx="372.71" cy="239.06" r="1.3"/>
<circle cx="375.19" cy="241.57" r="1.3"/>
<circle cx="372.59" cy="236.21" r="1.3"/>
<circle cx="372.59" cy="247.68" r="1.3"/>
<circle cx="373.5" cy="255.49" r="1.3"/>
<circle cx="371.9" cy="246.54" r="1.3"/>
</g>
<path d="M296.75 178.45V176.25H327.5V178.45" fill="none" stroke="#333" stroke-width="0.6"/>
<text x="312.12" y="175.45" font-family='"Liberation Sans", Arial, sans-serif' font-size="6.3" text-anchor="middle" fill="#2a2a2a" stroke="#2a2a2a" stroke-width="0.08" >ns</text>
<path d="M296.75 187.95V185.75H312V187.95" fill="none" stroke="#333" stroke-width="0.6"/>
<text x="304.38" y="184.95" font-family='"Liberation Sans", Arial, sans-serif' font-size="6.3" text-anchor="middle" fill="#2a2a2a" stroke="#2a2a2a" stroke-width="0.08" >ns</text>
<path d="M312 185.45V183.25H327.5V185.45" fill="none" stroke="#333" stroke-width="0.6"/>
<text x="319.75" y="183.45" font-family='"Liberation Sans", Arial, sans-serif' font-size="6.5" text-anchor="middle" fill="#222" stroke="#222" stroke-width="0.1" >*</text>
<path d="M342.5 178.45V176.25H372.5V178.45" fill="none" stroke="#333" stroke-width="0.6"/>
<text x="357.5" y="175.45" font-family='"Liberation Sans", Arial, sans-serif' font-size="6.3" text-anchor="middle" fill="#2a2a2a" stroke="#2a2a2a" stroke-width="0.08" >ns</text>
<path d="M342.5 187.95V185.75H357.5V187.95" fill="none" stroke="#333" stroke-width="0.6"/>
<text x="350" y="184.95" font-family='"Liberation Sans", Arial, sans-serif' font-size="6.3" text-anchor="middle" fill="#2a2a2a" stroke="#2a2a2a" stroke-width="0.08" >ns</text>
<path d="M357.5 185.45V183.25H372.5V185.45" fill="none" stroke="#333" stroke-width="0.6"/>
<text x="365" y="182.45" font-family='"Liberation Sans", Arial, sans-serif' font-size="6.3" text-anchor="middle" fill="#2a2a2a" stroke="#2a2a2a" stroke-width="0.08" >ns</text>
<text x="283.75" y="159.3" font-family='"DejaVu Sans Condensed", "DejaVu Sans", sans-serif' font-size="8.6" text-anchor="start" fill="#111" textLength="20" lengthAdjust="spacingAndGlyphs" stroke="#111" stroke-width="0.18" >TCRδ</text>
<line x1="414.25" y1="167" x2="414.25" y2="270.45" stroke="#3c3c3c" stroke-width="0.9" />
<line x1="413.8" y1="270" x2="507.5" y2="270" stroke="#3c3c3c" stroke-width="0.9" />
<line x1="412.35" y1="265.5" x2="414.25" y2="265.5" stroke="#222" stroke-width="0.6" />
<text x="411.05" y="267.8" font-family='"Liberation Sans", Arial, sans-serif' font-size="6.65" text-anchor="end" fill="#111" stroke="#111" stroke-width="0.08" >0.0</text>
<line x1="412.35" y1="242" x2="414.25" y2="242" stroke="#222" stroke-width="0.6" />
<text x="411.05" y="244.3" font-family='"Liberation Sans", Arial, sans-serif' font-size="6.65" text-anchor="end" fill="#111" stroke="#111" stroke-width="0.08" >2.5</text>
<line x1="412.35" y1="218.5" x2="414.25" y2="218.5" stroke="#222" stroke-width="0.6" />
<text x="411.05" y="220.8" font-family='"Liberation Sans", Arial, sans-serif' font-size="6.65" text-anchor="end" fill="#111" stroke="#111" stroke-width="0.08" >5.0</text>
<line x1="412.35" y1="195" x2="414.25" y2="195" stroke="#222" stroke-width="0.6" />
<text x="411.05" y="197.3" font-family='"Liberation Sans", Arial, sans-serif' font-size="6.65" text-anchor="end" fill="#111" stroke="#111" stroke-width="0.08" >7.5</text>
<line x1="412.35" y1="171.5" x2="414.25" y2="171.5" stroke="#222" stroke-width="0.6" />
<text x="411.05" y="173.8" font-family='"Liberation Sans", Arial, sans-serif' font-size="6.65" text-anchor="end" fill="#111" stroke="#111" stroke-width="0.08" >10.0</text>
<line x1="423.75" y1="270" x2="423.75" y2="272" stroke="#222" stroke-width="0.6" />
<text x="426.95" y="276.6" font-family='"Liberation Sans", Arial, sans-serif' font-size="6.8" text-anchor="end" fill="#111" transform="rotate(-45 426.95 276.6)" stroke="#111" stroke-width="0.18" >AD.Cold</text>
<line x1="438.75" y1="270" x2="438.75" y2="272" stroke="#222" stroke-width="0.6" />
<text x="441.95" y="276.6" font-family='"Liberation Sans", Arial, sans-serif' font-size="6.8" text-anchor="end" fill="#111" transform="rotate(-45 441.95 276.6)" stroke="#111" stroke-width="0.18" >AD.Myeloid</text>
<line x1="454.5" y1="270" x2="454.5" y2="272" stroke="#222" stroke-width="0.6" />
<text x="457.7" y="276.6" font-family='"Liberation Sans", Arial, sans-serif' font-size="6.8" text-anchor="end" fill="#111" transform="rotate(-45 457.7 276.6)" stroke="#111" stroke-width="0.18" >AD.CD8</text>
<line x1="469.5" y1="270" x2="469.5" y2="272" stroke="#222" stroke-width="0.6" />
<text x="472.7" y="276.6" font-family='"Liberation Sans", Arial, sans-serif' font-size="6.8" text-anchor="end" fill="#111" transform="rotate(-45 472.7 276.6)" stroke="#111" stroke-width="0.18" >SQ.Cold</text>
<line x1="484.5" y1="270" x2="484.5" y2="272" stroke="#222" stroke-width="0.6" />
<text x="487.7" y="276.6" font-family='"Liberation Sans", Arial, sans-serif' font-size="6.8" text-anchor="end" fill="#111" transform="rotate(-45 487.7 276.6)" stroke="#111" stroke-width="0.18" >SQ.Myeloid</text>
<line x1="499.5" y1="270" x2="499.5" y2="272" stroke="#222" stroke-width="0.6" />
<text x="502.7" y="276.6" font-family='"Liberation Sans", Arial, sans-serif' font-size="6.8" text-anchor="end" fill="#111" transform="rotate(-45 502.7 276.6)" stroke="#111" stroke-width="0.18" >SQ.CD8</text>
<g stroke="#5a4dae" stroke-width="0.65" stroke-opacity="0.95" fill="none">
<rect x="418.25" y="228" width="11" height="20.75"/>
<path d="M418.25 246.25H429.25" stroke-width="0.9"/>
<path d="M423.75 218.75V228M423.75 248.75V264.25"/>
</g>
<g fill="#5a4dae">
<circle cx="426.43" cy="218.75" r="1.3"/>
<circle cx="422.9" cy="264.25" r="1.3"/>
<circle cx="423.91" cy="240.34" r="1.3"/>
<circle cx="425.46" cy="247.67" r="1.3"/>
<circle cx="421.97" cy="224.7" r="1.3"/>
<circle cx="422.77" cy="235.77" r="1.3"/>
<circle cx="426.33" cy="239.65" r="1.3"/>
<circle cx="425.51" cy="220.46" r="1.3"/>
<circle cx="423.82" cy="253.65" r="1.3"/>
<circle cx="421.65" cy="240.96" r="1.3"/>
</g>
<g stroke="#159a70" stroke-width="0.65" stroke-opacity="0.95" fill="none">
<rect x="433.25" y="228.75" width="11" height="10"/>
<path d="M433.25 232.5H444.25" stroke-width="0.9"/>
<path d="M438.75 213V228.75M438.75 238.75V247"/>
</g>
<g fill="#159a70">
<circle cx="436.96" cy="213" r="1.3"/>
<circle cx="437.49" cy="247" r="1.3"/>
<circle cx="436.59" cy="243.31" r="1.3"/>
<circle cx="440.93" cy="246.87" r="1.3"/>
<circle cx="439.19" cy="240.82" r="1.3"/>
<circle cx="437.93" cy="231.65" r="1.3"/>
<circle cx="438.48" cy="223.47" r="1.3"/>
<circle cx="438.13" cy="230.57" r="1.3"/>
<circle cx="436.35" cy="221.74" r="1.3"/>
<circle cx="440.86" cy="238.69" r="1.3"/>
<circle cx="439.2" cy="228.65" r="1.3"/>
<circle cx="441.23" cy="236.63" r="1.3"/>
<circle cx="438.42" cy="235.66" r="1.3"/>
<circle cx="439.4" cy="231.79" r="1.3"/>
<circle cx="437.4" cy="242.26" r="1.3"/>
<circle cx="436.29" cy="227.58" r="1.3"/>
<circle cx="441.08" cy="234.28" r="1.3"/>
<circle cx="440.67" cy="235.22" r="1.3"/>
<circle cx="437.75" cy="213.07" r="1.3"/>
<circle cx="440.9" cy="224.95" r="1.3"/>
<circle cx="440.46" cy="230.32" r="1.3"/>
<circle cx="437.69" cy="238.98" r="1.3"/>
<circle cx="439.3" cy="230.46" r="1.3"/>
<circle cx="441.23" cy="217.21" r="1.3"/>
<circle cx="438.73" cy="217.58" r="1.3"/>
<circle cx="441.18" cy="228.87" r="1.3"/>
<circle cx="437.36" cy="240.1" r="1.3"/>
<circle cx="438.15" cy="225.76" r="1.3"/>
</g>
<g stroke="#d9590c" stroke-width="0.65" stroke-opacity="0.95" fill="none">
<rect x="449" y="222.5" width="11" height="7"/>
<path d="M449 226.25H460" stroke-width="0.9"/>
<path d="M454.5 217.5V222.5M454.5 229.5V238.75"/>
</g>
<g fill="#d9590c">
<circle cx="456.31" cy="217.5" r="1.3"/>
<circle cx="452.49" cy="238.75" r="1.3"/>
<circle cx="454.19" cy="222.05" r="1.3"/>
<circle cx="456.32" cy="228.63" r="1.3"/>
<circle cx="456.15" cy="228.05" r="1.3"/>
<circle cx="452.66" cy="223.71" r="1.3"/>
<circle cx="453.71" cy="223.81" r="1.3"/>
<circle cx="455.7" cy="230.78" r="1.3"/>
<circle cx="453.84" cy="222.34" r="1.3"/>
<circle cx="456.98" cy="221.41" r="1.3"/>
<circle cx="452.92" cy="222.96" r="1.3"/>
<circle cx="456.94" cy="228.28" r="1.3"/>
<circle cx="454.53" cy="224.21" r="1.3"/>
<circle cx="453.03" cy="224.49" r="1.3"/>
<circle cx="454.24" cy="222.74" r="1.3"/>
<circle cx="452.51" cy="221.6" r="1.3"/>
<circle cx="455.61" cy="227.44" r="1.3"/>
<circle cx="453.21" cy="224.39" r="1.3"/>
</g>
<g stroke="#6a84d4" stroke-width="0.65" stroke-opacity="0.95" fill="none">
<rect x="464" y="227.5" width="11" height="10"/>
<path d="M464 236.25H475" stroke-width="0.9"/>
<path d="M469.5 226.25V227.5M469.5 237.5V241.25"/>
</g>
<g fill="#6a84d4">
<circle cx="471.51" cy="226.25" r="1.3"/>
<circle cx="467.46" cy="241.25" r="1.3"/>
<circle cx="469.57" cy="239.1" r="1.3"/>
<circle cx="469.73" cy="229.96" r="1.3"/>
<circle cx="468.26" cy="227.4" r="1.3"/>
</g>
<g stroke="#3dbb8e" stroke-width="0.65" stroke-opacity="0.95" fill="none">
<rect x="479" y="227.5" width="11" height="8.75"/>
<path d="M479 232H490" stroke-width="0.9"/>
<path d="M484.5 220V227.5M484.5 236.25V240"/>
</g>
<g fill="#3dbb8e">
<circle cx="485.98" cy="220" r="1.3"/>
<circle cx="486.57" cy="240" r="1.3"/>
<circle cx="486.45" cy="237.06" r="1.3"/>
<circle cx="482.51" cy="224.47" r="1.3"/>
<circle cx="483.29" cy="230.91" r="1.3"/>
<circle cx="481.96" cy="229.05" r="1.3"/>
<circle cx="485.47" cy="236.86" r="1.3"/>
<circle cx="485.38" cy="227.28" r="1.3"/>
<circle cx="483.7" cy="226.03" r="1.3"/>
<circle cx="484.03" cy="226.43" r="1.3"/>
<circle cx="485.36" cy="230.22" r="1.3"/>
<circle cx="485.58" cy="228.6" r="1.3"/>
<circle cx="483.14" cy="226.51" r="1.3"/>
<circle cx="486.37" cy="235.45" r="1.3"/>
<circle cx="483.7" cy="250.75" r="1.3"/>
<circle cx="485.2" cy="256.75" r="1.3"/>
</g>
<g stroke="#f86f3c" stroke-width="0.65" stroke-opacity="0.95" fill="none">
<rect x="494" y="229.5" width="11" height="8.5"/>
<path d="M494 232H505" stroke-width="0.9"/>
<path d="M499.5 221.25V229.5M499.5 238V240"/>
</g>
<g fill="#f86f3c">
<circle cx="500.99" cy="221.25" r="1.3"/>
<circle cx="498.35" cy="240" r="1.3"/>
<circle cx="497.03" cy="230.48" r="1.3"/>
<circle cx="501.41" cy="239.22" r="1.3"/>
<circle cx="500.08" cy="229.45" r="1.3"/>
<circle cx="497.06" cy="230.88" r="1.3"/>
<circle cx="498.12" cy="232.08" r="1.3"/>
<circle cx="497.4" cy="229.83" r="1.3"/>
<circle cx="501.07" cy="234.93" r="1.3"/>
<circle cx="497.93" cy="236.64" r="1.3"/>
<circle cx="501.74" cy="224.66" r="1.3"/>
<circle cx="500.85" cy="233.2" r="1.3"/>
<circle cx="497.27" cy="227.97" r="1.3"/>
<circle cx="500.55" cy="236.59" r="1.3"/>
<circle cx="498.93" cy="250" r="1.3"/>
<circle cx="500.84" cy="251.75" r="1.3"/>
</g>
<path d="M423.75 178.45V176.25H454.5V178.45" fill="none" stroke="#333" stroke-width="0.6"/>
<text x="439.12" y="176.45" font-family='"Liberation Sans", Arial, sans-serif' font-size="6.5" text-anchor="middle" fill="#222" stroke="#222" stroke-width="0.1" >*</text>
<path d="M423.75 188.45V186.25H438.75V188.45" fill="none" stroke="#333" stroke-width="0.6"/>
<text x="431.25" y="185.45" font-family='"Liberation Sans", Arial, sans-serif' font-size="6.3" text-anchor="middle" fill="#2a2a2a" stroke="#2a2a2a" stroke-width="0.08" >ns</text>
<path d="M438.75 185.45V183.25H454.5V185.45" fill="none" stroke="#333" stroke-width="0.6"/>
<text x="446.62" y="183.45" font-family='"Liberation Sans", Arial, sans-serif' font-size="6.5" text-anchor="middle" fill="#222" stroke="#222" stroke-width="0.1" >**</text>
<path d="M469.5 178.45V176.25H499.5V178.45" fill="none" stroke="#333" stroke-width="0.6"/>
<text x="484.5" y="175.45" font-family='"Liberation Sans", Arial, sans-serif' font-size="6.3" text-anchor="middle" fill="#2a2a2a" stroke="#2a2a2a" stroke-width="0.08" >ns</text>
<path d="M469.5 188.45V186.25H484.5V188.45" fill="none" stroke="#333" stroke-width="0.6"/>
<text x="477" y="185.45" font-family='"Liberation Sans", Arial, sans-serif' font-size="6.3" text-anchor="middle" fill="#2a2a2a" stroke="#2a2a2a" stroke-width="0.08" >ns</text>
<path d="M484.5 185.45V183.25H499.5V185.45" fill="none" stroke="#333" stroke-width="0.6"/>
<text x="492" y="182.45" font-family='"Liberation Sans", Arial, sans-serif' font-size="6.3" text-anchor="middle" fill="#2a2a2a" stroke="#2a2a2a" stroke-width="0.08" >ns</text>
<text x="407.5" y="159.3" font-family='"DejaVu Sans Condensed", "DejaVu Sans", sans-serif' font-size="8.6" text-anchor="start" fill="#111" textLength="20" lengthAdjust="spacingAndGlyphs" stroke="#111" stroke-width="0.18" >TCRγ</text>
<line x1="36.15" y1="322.5" x2="36.15" y2="426.35" stroke="#3c3c3c" stroke-width="0.9" />
<line x1="35.7" y1="425.9" x2="135.5" y2="425.9" stroke="#3c3c3c" stroke-width="0.9" />
<line x1="34.25" y1="421.25" x2="36.15" y2="421.25" stroke="#222" stroke-width="0.6" />
<text x="32.95" y="423.55" font-family='"Liberation Sans", Arial, sans-serif' font-size="6.65" text-anchor="end" fill="#111" stroke="#111" stroke-width="0.08" >0</text>
<line x1="34.25" y1="396.5" x2="36.15" y2="396.5" stroke="#222" stroke-width="0.6" />
<text x="32.95" y="398.8" font-family='"Liberation Sans", Arial, sans-serif' font-size="6.65" text-anchor="end" fill="#111" stroke="#111" stroke-width="0.08" >3</text>
<line x1="34.25" y1="372" x2="36.15" y2="372" stroke="#222" stroke-width="0.6" />
<text x="32.95" y="374.3" font-family='"Liberation Sans", Arial, sans-serif' font-size="6.65" text-anchor="end" fill="#111" stroke="#111" stroke-width="0.08" >6</text>
<line x1="34.25" y1="347.5" x2="36.15" y2="347.5" stroke="#222" stroke-width="0.6" />
<text x="32.95" y="349.8" font-family='"Liberation Sans", Arial, sans-serif' font-size="6.65" text-anchor="end" fill="#111" stroke="#111" stroke-width="0.08" >9</text>
<line x1="34.25" y1="323.25" x2="36.15" y2="323.25" stroke="#222" stroke-width="0.6" />
<text x="32.95" y="325.55" font-family='"Liberation Sans", Arial, sans-serif' font-size="6.65" text-anchor="end" fill="#111" stroke="#111" stroke-width="0.08" >12</text>
<line x1="45.5" y1="425.9" x2="45.5" y2="427.9" stroke="#222" stroke-width="0.6" />
<text x="48.7" y="432.5" font-family='"Liberation Sans", Arial, sans-serif' font-size="6.8" text-anchor="end" fill="#111" transform="rotate(-45 48.7 432.5)" stroke="#111" stroke-width="0.18" >AD.Cold</text>
<line x1="62" y1="425.9" x2="62" y2="427.9" stroke="#222" stroke-width="0.6" />
<text x="65.2" y="432.5" font-family='"Liberation Sans", Arial, sans-serif' font-size="6.8" text-anchor="end" fill="#111" transform="rotate(-45 65.2 432.5)" stroke="#111" stroke-width="0.18" >AD.Myeloid</text>
<line x1="78.75" y1="425.9" x2="78.75" y2="427.9" stroke="#222" stroke-width="0.6" />
<text x="81.95" y="432.5" font-family='"Liberation Sans", Arial, sans-serif' font-size="6.8" text-anchor="end" fill="#111" transform="rotate(-45 81.95 432.5)" stroke="#111" stroke-width="0.18" >AD.CD8</text>
<line x1="94.5" y1="425.9" x2="94.5" y2="427.9" stroke="#222" stroke-width="0.6" />
<text x="97.7" y="432.5" font-family='"Liberation Sans", Arial, sans-serif' font-size="6.8" text-anchor="end" fill="#111" transform="rotate(-45 97.7 432.5)" stroke="#111" stroke-width="0.18" >SQ.Cold</text>
<line x1="110" y1="425.9" x2="110" y2="427.9" stroke="#222" stroke-width="0.6" />
<text x="113.2" y="432.5" font-family='"Liberation Sans", Arial, sans-serif' font-size="6.8" text-anchor="end" fill="#111" transform="rotate(-45 113.2 432.5)" stroke="#111" stroke-width="0.18" >SQ.Myeloid</text>
<line x1="127.5" y1="425.9" x2="127.5" y2="427.9" stroke="#222" stroke-width="0.6" />
<text x="130.7" y="432.5" font-family='"Liberation Sans", Arial, sans-serif' font-size="6.8" text-anchor="end" fill="#111" transform="rotate(-45 130.7 432.5)" stroke="#111" stroke-width="0.18" >SQ.CD8</text>
<g stroke="#5a4dae" stroke-width="0.65" stroke-opacity="0.95" fill="none">
<rect x="39.6" y="395" width="11.8" height="13"/>
<path d="M39.6 403.75H51.4" stroke-width="0.9"/>
<path d="M45.5 388V395M45.5 408V418"/>
</g>
<g fill="#5a4dae">
<circle cx="46.24" cy="388" r="1.3"/>
<circle cx="45.74" cy="418" r="1.3"/>
<circle cx="44.15" cy="409.31" r="1.3"/>
<circle cx="43.12" cy="407.3" r="1.3"/>
<circle cx="44.73" cy="407.09" r="1.3"/>
<circle cx="45.02" cy="390.69" r="1.3"/>
<circle cx="43.89" cy="412.75" r="1.3"/>
<circle cx="44.48" cy="395.71" r="1.3"/>
<circle cx="43.54" cy="393.2" r="1.3"/>
<circle cx="46.62" cy="388.79" r="1.3"/>
<circle cx="46.42" cy="404.9" r="1.3"/>
<circle cx="44.08" cy="404.14" r="1.3"/>
<circle cx="44.11" cy="409.17" r="1.3"/>
<circle cx="45.58" cy="388.34" r="1.3"/>
</g>
<g stroke="#159a70" stroke-width="0.65" stroke-opacity="0.95" fill="none">
<rect x="56.1" y="394.5" width="11.8" height="12.5"/>
<path d="M56.1 401.25H67.9" stroke-width="0.9"/>
<path d="M62 388V394.5M62 407V418.75"/>
</g>
<g fill="#159a70">
<circle cx="61.03" cy="388" r="1.3"/>
<circle cx="61.29" cy="418.75" r="1.3"/>
<circle cx="62.28" cy="406.2" r="1.3"/>
<circle cx="61.29" cy="398.24" r="1.3"/>
<circle cx="63.79" cy="407.52" r="1.3"/>
<circle cx="60.59" cy="393.38" r="1.3"/>
<circle cx="59.52" cy="411.49" r="1.3"/>
<circle cx="62.36" cy="407.68" r="1.3"/>
<circle cx="62.69" cy="391.64" r="1.3"/>
<circle cx="63.73" cy="404.08" r="1.3"/>
<circle cx="63.11" cy="407.37" r="1.3"/>
<circle cx="64.19" cy="399.01" r="1.3"/>
<circle cx="64.4" cy="395.25" r="1.3"/>
<circle cx="61.97" cy="396.96" r="1.3"/>
<circle cx="62" cy="392.7" r="1.3"/>
<circle cx="60.15" cy="398.56" r="1.3"/>
<circle cx="60.92" cy="399.04" r="1.3"/>
<circle cx="62.44" cy="395.4" r="1.3"/>
<circle cx="59.73" cy="406.9" r="1.3"/>
<circle cx="63.02" cy="407.22" r="1.3"/>
<circle cx="60.18" cy="388.2" r="1.3"/>
<circle cx="61.69" cy="394.31" r="1.3"/>
<circle cx="64.54" cy="399.93" r="1.3"/>
<circle cx="59.78" cy="401.29" r="1.3"/>
<circle cx="59.52" cy="405.99" r="1.3"/>
<circle cx="61.67" cy="391.41" r="1.3"/>
<circle cx="60.33" cy="412.94" r="1.3"/>
<circle cx="63.2" cy="397.57" r="1.3"/>
<circle cx="59.32" cy="394.85" r="1.3"/>
<circle cx="63.84" cy="415.88" r="1.3"/>
<circle cx="63.92" cy="396.82" r="1.3"/>
<circle cx="63.55" cy="389.53" r="1.3"/>
<circle cx="61.6" cy="407.68" r="1.3"/>
<circle cx="60.83" cy="415.73" r="1.3"/>
<circle cx="62.87" cy="393.41" r="1.3"/>
<circle cx="62.08" cy="404.82" r="1.3"/>
</g>
<g stroke="#d9590c" stroke-width="0.65" stroke-opacity="0.95" fill="none">
<rect x="72.85" y="387" width="11.8" height="15.5"/>
<path d="M72.85 395.75H84.65" stroke-width="0.9"/>
<path d="M78.75 374.25V387M78.75 402.5V409.5"/>
</g>
<g fill="#d9590c">
<circle cx="78.82" cy="374.25" r="1.3"/>
<circle cx="79.23" cy="409.5" r="1.3"/>
<circle cx="76.48" cy="392.25" r="1.3"/>
<circle cx="78.25" cy="397.32" r="1.3"/>
<circle cx="76.45" cy="408.46" r="1.3"/>
<circle cx="78.42" cy="391.58" r="1.3"/>
<circle cx="80.71" cy="395.73" r="1.3"/>
<circle cx="79.02" cy="390.03" r="1.3"/>
<circle cx="79.91" cy="392.02" r="1.3"/>
<circle cx="80.14" cy="402.06" r="1.3"/>
<circle cx="76.67" cy="408.05" r="1.3"/>
<circle cx="81.4" cy="409.08" r="1.3"/>
<circle cx="79.95" cy="377.88" r="1.3"/>
<circle cx="76.6" cy="397.48" r="1.3"/>
<circle cx="80.53" cy="385.17" r="1.3"/>
<circle cx="78.17" cy="375.2" r="1.3"/>
<circle cx="76.97" cy="397.03" r="1.3"/>
<circle cx="81.23" cy="392.32" r="1.3"/>
<circle cx="79.09" cy="402.52" r="1.3"/>
<circle cx="80.23" cy="397.52" r="1.3"/>
<circle cx="76.79" cy="388.32" r="1.3"/>
<circle cx="80.24" cy="384.38" r="1.3"/>
<circle cx="76.36" cy="383.86" r="1.3"/>
<circle cx="77.33" cy="381.89" r="1.3"/>
<circle cx="78.06" cy="388.77" r="1.3"/>
<circle cx="76.13" cy="400.79" r="1.3"/>
<circle cx="79.26" cy="386.61" r="1.3"/>
<circle cx="77.2" cy="403.28" r="1.3"/>
<circle cx="77.67" cy="395.23" r="1.3"/>
<circle cx="79.87" cy="394.58" r="1.3"/>
<circle cx="78.35" cy="385.81" r="1.3"/>
<circle cx="80.85" cy="386.61" r="1.3"/>
</g>
<g stroke="#6a84d4" stroke-width="0.65" stroke-opacity="0.95" fill="none">
<rect x="88.6" y="397.5" width="11.8" height="13.75"/>
<path d="M88.6 403.75H100.4" stroke-width="0.9"/>
<path d="M94.5 389.5V397.5M94.5 411.25V417"/>
</g>
<g fill="#6a84d4">
<circle cx="93.81" cy="389.5" r="1.3"/>
<circle cx="95.78" cy="417" r="1.3"/>
<circle cx="96.92" cy="391.07" r="1.3"/>
<circle cx="95.7" cy="390.53" r="1.3"/>
<circle cx="92.03" cy="411.58" r="1.3"/>
<circle cx="95.06" cy="396.07" r="1.3"/>
<circle cx="92.34" cy="414.36" r="1.3"/>
<circle cx="94.76" cy="411.45" r="1.3"/>
</g>
<g stroke="#3dbb8e" stroke-width="0.65" stroke-opacity="0.95" fill="none">
<rect x="104.1" y="400" width="11.8" height="10"/>
<path d="M104.1 405.5H115.9" stroke-width="0.9"/>
<path d="M110 395V400M110 410V417"/>
</g>
<g fill="#3dbb8e">
<circle cx="111.72" cy="395" r="1.3"/>
<circle cx="110.97" cy="417" r="1.3"/>
<circle cx="109.42" cy="410.21" r="1.3"/>
<circle cx="109.87" cy="413.73" r="1.3"/>
<circle cx="108.15" cy="401.93" r="1.3"/>
<circle cx="111.86" cy="408.38" r="1.3"/>
<circle cx="109.42" cy="399.85" r="1.3"/>
<circle cx="112.01" cy="401.1" r="1.3"/>
<circle cx="110.6" cy="410.47" r="1.3"/>
<circle cx="107.71" cy="399.31" r="1.3"/>
<circle cx="109.08" cy="398.93" r="1.3"/>
<circle cx="108.47" cy="408.75" r="1.3"/>
<circle cx="112.13" cy="397.24" r="1.3"/>
<circle cx="110.48" cy="416.44" r="1.3"/>
<circle cx="107.54" cy="403.42" r="1.3"/>
<circle cx="108.22" cy="405.02" r="1.3"/>
<circle cx="109.25" cy="414.9" r="1.3"/>
<circle cx="109.83" cy="401.82" r="1.3"/>
<circle cx="110.42" cy="376.25" r="1.3"/>
<circle cx="109.39" cy="385" r="1.3"/>
</g>
<g stroke="#f86f3c" stroke-width="0.65" stroke-opacity="0.95" fill="none">
<rect x="121.6" y="387.5" width="11.8" height="13.25"/>
<path d="M121.6 393.75H133.4" stroke-width="0.9"/>
<path d="M127.5 382.5V387.5M127.5 400.75V415"/>
</g>
<g fill="#f86f3c">
<circle cx="129.51" cy="382.5" r="1.3"/>
<circle cx="129.87" cy="415" r="1.3"/>
<circle cx="128.48" cy="387.58" r="1.3"/>
<circle cx="126.44" cy="386.64" r="1.3"/>
<circle cx="128.92" cy="393.59" r="1.3"/>
<circle cx="128.79" cy="400.85" r="1.3"/>
<circle cx="127.55" cy="396.39" r="1.3"/>
<circle cx="128.23" cy="391.12" r="1.3"/>
<circle cx="126.69" cy="386.91" r="1.3"/>
<circle cx="127.77" cy="385.7" r="1.3"/>
<circle cx="126.99" cy="414.82" r="1.3"/>
<circle cx="125.13" cy="394.93" r="1.3"/>
<circle cx="126.62" cy="412.2" r="1.3"/>
<circle cx="126.55" cy="407.61" r="1.3"/>
<circle cx="130.14" cy="386.51" r="1.3"/>
<circle cx="127.4" cy="398.04" r="1.3"/>
</g>
<path d="M45.5 338.95V336.75H78.75V338.95" fill="none" stroke="#333" stroke-width="0.6"/>
<text x="62.12" y="336.95" font-family='"Liberation Sans", Arial, sans-serif' font-size="6.5" text-anchor="middle" fill="#222" stroke="#222" stroke-width="0.1" >*</text>
<path d="M45.5 347.95V345.75H62V347.95" fill="none" stroke="#333" stroke-width="0.6"/>
<text x="53.75" y="344.95" font-family='"Liberation Sans", Arial, sans-serif' font-size="6.3" text-anchor="middle" fill="#2a2a2a" stroke="#2a2a2a" stroke-width="0.08" >ns</text>
<path d="M62 345.95V343.75H78.75V345.95" fill="none" stroke="#333" stroke-width="0.6"/>
<text x="70.38" y="343.95" font-family='"Liberation Sans", Arial, sans-serif' font-size="6.5" text-anchor="middle" fill="#222" stroke="#222" stroke-width="0.1" >*</text>
<path d="M94.5 338.95V336.75H127.5V338.95" fill="none" stroke="#333" stroke-width="0.6"/>
<text x="111" y="336.95" font-family='"Liberation Sans", Arial, sans-serif' font-size="6.5" text-anchor="middle" fill="#222" stroke="#222" stroke-width="0.1" >*</text>
<path d="M94.5 347.95V345.75H110V347.95" fill="none" stroke="#333" stroke-width="0.6"/>
<text x="102.25" y="344.95" font-family='"Liberation Sans", Arial, sans-serif' font-size="6.3" text-anchor="middle" fill="#2a2a2a" stroke="#2a2a2a" stroke-width="0.08" >ns</text>
<path d="M110 345.95V343.75H127.5V345.95" fill="none" stroke="#333" stroke-width="0.6"/>
<text x="118.75" y="343.95" font-family='"Liberation Sans", Arial, sans-serif' font-size="6.5" text-anchor="middle" fill="#222" stroke="#222" stroke-width="0.1" >*</text>
<text x="36.6" y="317" font-family='"Liberation Sans", Arial, sans-serif' font-size="8.1" text-anchor="start" fill="#111" stroke="#111" stroke-width="0.18" >PDCD1</text>
<line x1="163.75" y1="322.5" x2="163.75" y2="426.35" stroke="#3c3c3c" stroke-width="0.9" />
<line x1="163.3" y1="425.9" x2="263.7" y2="425.9" stroke="#3c3c3c" stroke-width="0.9" />
<line x1="161.85" y1="421.25" x2="163.75" y2="421.25" stroke="#222" stroke-width="0.6" />
<text x="160.55" y="423.55" font-family='"Liberation Sans", Arial, sans-serif' font-size="6.65" text-anchor="end" fill="#111" stroke="#111" stroke-width="0.08" >0</text>
<line x1="161.85" y1="396.5" x2="163.75" y2="396.5" stroke="#222" stroke-width="0.6" />
<text x="160.55" y="398.8" font-family='"Liberation Sans", Arial, sans-serif' font-size="6.65" text-anchor="end" fill="#111" stroke="#111" stroke-width="0.08" >3</text>
<line x1="161.85" y1="372" x2="163.75" y2="372" stroke="#222" stroke-width="0.6" />
<text x="160.55" y="374.3" font-family='"Liberation Sans", Arial, sans-serif' font-size="6.65" text-anchor="end" fill="#111" stroke="#111" stroke-width="0.08" >6</text>
<line x1="161.85" y1="347.5" x2="163.75" y2="347.5" stroke="#222" stroke-width="0.6" />
<text x="160.55" y="349.8" font-family='"Liberation Sans", Arial, sans-serif' font-size="6.65" text-anchor="end" fill="#111" stroke="#111" stroke-width="0.08" >9</text>
<line x1="161.85" y1="323.25" x2="163.75" y2="323.25" stroke="#222" stroke-width="0.6" />
<text x="160.55" y="325.55" font-family='"Liberation Sans", Arial, sans-serif' font-size="6.65" text-anchor="end" fill="#111" stroke="#111" stroke-width="0.08" >12</text>
<line x1="173" y1="425.9" x2="173" y2="427.9" stroke="#222" stroke-width="0.6" />
<text x="176.2" y="432.5" font-family='"Liberation Sans", Arial, sans-serif' font-size="6.8" text-anchor="end" fill="#111" transform="rotate(-45 176.2 432.5)" stroke="#111" stroke-width="0.18" >AD.Cold</text>
<line x1="189.25" y1="425.9" x2="189.25" y2="427.9" stroke="#222" stroke-width="0.6" />
<text x="192.45" y="432.5" font-family='"Liberation Sans", Arial, sans-serif' font-size="6.8" text-anchor="end" fill="#111" transform="rotate(-45 192.45 432.5)" stroke="#111" stroke-width="0.18" >AD.Myeloid</text>
<line x1="205.5" y1="425.9" x2="205.5" y2="427.9" stroke="#222" stroke-width="0.6" />
<text x="208.7" y="432.5" font-family='"Liberation Sans", Arial, sans-serif' font-size="6.8" text-anchor="end" fill="#111" transform="rotate(-45 208.7 432.5)" stroke="#111" stroke-width="0.18" >AD.CD8</text>
<line x1="222" y1="425.9" x2="222" y2="427.9" stroke="#222" stroke-width="0.6" />
<text x="225.2" y="432.5" font-family='"Liberation Sans", Arial, sans-serif' font-size="6.8" text-anchor="end" fill="#111" transform="rotate(-45 225.2 432.5)" stroke="#111" stroke-width="0.18" >SQ.Cold</text>
<line x1="237.5" y1="425.9" x2="237.5" y2="427.9" stroke="#222" stroke-width="0.6" />
<text x="240.7" y="432.5" font-family='"Liberation Sans", Arial, sans-serif' font-size="6.8" text-anchor="end" fill="#111" transform="rotate(-45 240.7 432.5)" stroke="#111" stroke-width="0.18" >SQ.Myeloid</text>
<line x1="254.25" y1="425.9" x2="254.25" y2="427.9" stroke="#222" stroke-width="0.6" />
<text x="257.45" y="432.5" font-family='"Liberation Sans", Arial, sans-serif' font-size="6.8" text-anchor="end" fill="#111" transform="rotate(-45 257.45 432.5)" stroke="#111" stroke-width="0.18" >SQ.CD8</text>
<g stroke="#5a4dae" stroke-width="0.65" stroke-opacity="0.95" fill="none">
<rect x="167.1" y="394.5" width="11.8" height="10"/>
<path d="M167.1 399.5H178.9" stroke-width="0.9"/>
<path d="M173 392.5V394.5M173 404.5V413.75"/>
</g>
<g fill="#5a4dae">
<circle cx="175.63" cy="392.5" r="1.3"/>
<circle cx="172.23" cy="413.75" r="1.3"/>
<circle cx="174.48" cy="396.93" r="1.3"/>
<circle cx="172.61" cy="397.99" r="1.3"/>
<circle cx="174.99" cy="394.57" r="1.3"/>
<circle cx="170.67" cy="407.11" r="1.3"/>
<circle cx="172.92" cy="400.19" r="1.3"/>
<circle cx="175.16" cy="396.19" r="1.3"/>
<circle cx="171.79" cy="397.51" r="1.3"/>
<circle cx="171.69" cy="401.77" r="1.3"/>
<circle cx="170.42" cy="392.7" r="1.3"/>
<circle cx="171.19" cy="403.71" r="1.3"/>
<circle cx="171.75" cy="394.46" r="1.3"/>
<circle cx="174.1" cy="400.3" r="1.3"/>
<circle cx="171.48" cy="380.5" r="1.3"/>
</g>
<g stroke="#159a70" stroke-width="0.65" stroke-opacity="0.95" fill="none">
<rect x="183.35" y="393.75" width="11.8" height="8.25"/>
<path d="M183.35 398H195.15" stroke-width="0.9"/>
<path d="M189.25 381.25V393.75M189.25 402V408.75"/>
</g>
<g fill="#159a70">
<circle cx="187.26" cy="381.25" r="1.3"/>
<circle cx="186.6" cy="408.75" r="1.3"/>
<circle cx="189.12" cy="395.4" r="1.3"/>
<circle cx="190.09" cy="383.86" r="1.3"/>
<circle cx="190.73" cy="392.82" r="1.3"/>
<circle cx="188.51" cy="381.98" r="1.3"/>
<circle cx="191.89" cy="393.53" r="1.3"/>
<circle cx="187.78" cy="407.46" r="1.3"/>
<circle cx="190.64" cy="394.88" r="1.3"/>
<circle cx="187.04" cy="398.18" r="1.3"/>
<circle cx="186.7" cy="405.3" r="1.3"/>
<circle cx="187.27" cy="402.57" r="1.3"/>
<circle cx="186.87" cy="399.93" r="1.3"/>
<circle cx="189.26" cy="390.8" r="1.3"/>
<circle cx="189.55" cy="391.55" r="1.3"/>
<circle cx="187.53" cy="397.17" r="1.3"/>
<circle cx="191.62" cy="398.92" r="1.3"/>
<circle cx="188.52" cy="397.83" r="1.3"/>
<circle cx="187.36" cy="392.33" r="1.3"/>
<circle cx="187.51" cy="393.86" r="1.3"/>
<circle cx="190.53" cy="404.7" r="1.3"/>
<circle cx="191.53" cy="402.07" r="1.3"/>
<circle cx="187.43" cy="386.29" r="1.3"/>
<circle cx="186.71" cy="394.52" r="1.3"/>
<circle cx="190.75" cy="394.93" r="1.3"/>
<circle cx="187.86" cy="402.14" r="1.3"/>
<circle cx="191.85" cy="403.71" r="1.3"/>
<circle cx="189.24" cy="388.4" r="1.3"/>
<circle cx="189.99" cy="387.36" r="1.3"/>
<circle cx="188.41" cy="391.62" r="1.3"/>
<circle cx="190.87" cy="392.32" r="1.3"/>
<circle cx="189.03" cy="385.64" r="1.3"/>
<circle cx="188.3" cy="403.03" r="1.3"/>
<circle cx="191.43" cy="408.51" r="1.3"/>
<circle cx="187.13" cy="396.05" r="1.3"/>
<circle cx="190.51" cy="382.41" r="1.3"/>
</g>
<g stroke="#d9590c" stroke-width="0.65" stroke-opacity="0.95" fill="none">
<rect x="199.6" y="390.5" width="11.8" height="8.25"/>
<path d="M199.6 394.5H211.4" stroke-width="0.9"/>
<path d="M205.5 380.5V390.5M205.5 398.75V408"/>
</g>
<g fill="#d9590c">
<circle cx="206.67" cy="380.5" r="1.3"/>
<circle cx="207.56" cy="408" r="1.3"/>
<circle cx="208.09" cy="395.83" r="1.3"/>
<circle cx="202.98" cy="397.63" r="1.3"/>
<circle cx="204.07" cy="395.15" r="1.3"/>
<circle cx="207.08" cy="398.08" r="1.3"/>
<circle cx="206.52" cy="403.13" r="1.3"/>
<circle cx="203" cy="392.58" r="1.3"/>
<circle cx="205.53" cy="394.08" r="1.3"/>
<circle cx="204.05" cy="392.18" r="1.3"/>
<circle cx="205.12" cy="403.31" r="1.3"/>
<circle cx="203.37" cy="398.7" r="1.3"/>
<circle cx="202.91" cy="395.2" r="1.3"/>
<circle cx="208.15" cy="397.62" r="1.3"/>
<circle cx="204.51" cy="399.87" r="1.3"/>
<circle cx="207.54" cy="405.52" r="1.3"/>
<circle cx="203.45" cy="393.24" r="1.3"/>
<circle cx="205.43" cy="397.85" r="1.3"/>
<circle cx="203.53" cy="396.13" r="1.3"/>
<circle cx="205.11" cy="387.68" r="1.3"/>
<circle cx="203.77" cy="382.31" r="1.3"/>
<circle cx="206.5" cy="397.79" r="1.3"/>
<circle cx="203.6" cy="396.93" r="1.3"/>
<circle cx="206.79" cy="399.36" r="1.3"/>
<circle cx="205.5" cy="407.92" r="1.3"/>
<circle cx="203.41" cy="390.7" r="1.3"/>
<circle cx="204.71" cy="398.54" r="1.3"/>
<circle cx="205.48" cy="398.02" r="1.3"/>
<circle cx="207.76" cy="396.57" r="1.3"/>
<circle cx="204.69" cy="391.89" r="1.3"/>
<circle cx="203.96" cy="390.29" r="1.3"/>
<circle cx="208.02" cy="398.08" r="1.3"/>
</g>
<g stroke="#6a84d4" stroke-width="0.65" stroke-opacity="0.95" fill="none">
<rect x="216.1" y="393.1" width="11.8" height="7.2"/>
<path d="M216.1 399.3H227.9" stroke-width="0.9"/>
<path d="M222 392V393.1M222 400.3V407"/>
</g>
<g fill="#6a84d4">
<circle cx="223.02" cy="392" r="1.3"/>
<circle cx="222.83" cy="407" r="1.3"/>
<circle cx="222.24" cy="404.36" r="1.3"/>
<circle cx="222.26" cy="394.38" r="1.3"/>
<circle cx="223.03" cy="393.6" r="1.3"/>
<circle cx="224.6" cy="396.76" r="1.3"/>
<circle cx="224.02" cy="397.11" r="1.3"/>
<circle cx="223.18" cy="393.18" r="1.3"/>
<circle cx="221.46" cy="381.25" r="1.3"/>
<circle cx="221.02" cy="382" r="1.3"/>
</g>
<g stroke="#3dbb8e" stroke-width="0.65" stroke-opacity="0.95" fill="none">
<rect x="231.6" y="388.75" width="11.8" height="11.25"/>
<path d="M231.6 397H243.4" stroke-width="0.9"/>
<path d="M237.5 381.25V388.75M237.5 400V409.5"/>
</g>
<g fill="#3dbb8e">
<circle cx="236.07" cy="381.25" r="1.3"/>
<circle cx="238.2" cy="409.5" r="1.3"/>
<circle cx="238.81" cy="399.7" r="1.3"/>
<circle cx="236.85" cy="393.09" r="1.3"/>
<circle cx="238.65" cy="390.36" r="1.3"/>
<circle cx="236.93" cy="400" r="1.3"/>
<circle cx="237.64" cy="382.11" r="1.3"/>
<circle cx="238.11" cy="395.62" r="1.3"/>
<circle cx="238.46" cy="391.46" r="1.3"/>
<circle cx="236.54" cy="390.06" r="1.3"/>
<circle cx="238.2" cy="406.44" r="1.3"/>
<circle cx="237.73" cy="400.08" r="1.3"/>
<circle cx="236.01" cy="387.51" r="1.3"/>
<circle cx="238.11" cy="385.88" r="1.3"/>
<circle cx="236.23" cy="399.68" r="1.3"/>
<circle cx="239.71" cy="397.14" r="1.3"/>
<circle cx="237.36" cy="403.24" r="1.3"/>
<circle cx="238.7" cy="381.31" r="1.3"/>
</g>
<g stroke="#f86f3c" stroke-width="0.65" stroke-opacity="0.95" fill="none">
<rect x="248.35" y="383.75" width="11.8" height="15"/>
<path d="M248.35 392H260.15" stroke-width="0.9"/>
<path d="M254.25 370V383.75M254.25 398.75V405"/>
</g>
<g fill="#f86f3c">
<circle cx="254" cy="370" r="1.3"/>
<circle cx="252.03" cy="405" r="1.3"/>
<circle cx="253.69" cy="379.55" r="1.3"/>
<circle cx="256.93" cy="385.88" r="1.3"/>
<circle cx="255.3" cy="401" r="1.3"/>
<circle cx="253.98" cy="378.81" r="1.3"/>
<circle cx="254.13" cy="399.38" r="1.3"/>
<circle cx="255.86" cy="396.08" r="1.3"/>
<circle cx="255.65" cy="393.36" r="1.3"/>
<circle cx="252.36" cy="403.97" r="1.3"/>
<circle cx="255.22" cy="398.79" r="1.3"/>
<circle cx="253.53" cy="396.23" r="1.3"/>
<circle cx="254.36" cy="398.97" r="1.3"/>
<circle cx="252.83" cy="387.52" r="1.3"/>
<circle cx="253.55" cy="389.1" r="1.3"/>
<circle cx="253.39" cy="400.95" r="1.3"/>
</g>
<path d="M173 338.95V336.75H205.5V338.95" fill="none" stroke="#333" stroke-width="0.6"/>
<text x="189.25" y="336.95" font-family='"Liberation Sans", Arial, sans-serif' font-size="6.5" text-anchor="middle" fill="#222" stroke="#222" stroke-width="0.1" >*</text>
<path d="M173 347.95V345.75H189.25V347.95" fill="none" stroke="#333" stroke-width="0.6"/>
<text x="181.12" y="344.95" font-family='"Liberation Sans", Arial, sans-serif' font-size="6.3" text-anchor="middle" fill="#2a2a2a" stroke="#2a2a2a" stroke-width="0.08" >ns</text>
<path d="M189.25 345.95V343.75H205.5V345.95" fill="none" stroke="#333" stroke-width="0.6"/>
<text x="197.38" y="343.95" font-family='"Liberation Sans", Arial, sans-serif' font-size="6.5" text-anchor="middle" fill="#222" stroke="#222" stroke-width="0.1" >*</text>
<path d="M222 338.95V336.75H254.25V338.95" fill="none" stroke="#333" stroke-width="0.6"/>
<text x="238.12" y="335.95" font-family='"Liberation Sans", Arial, sans-serif' font-size="6.3" text-anchor="middle" fill="#2a2a2a" stroke="#2a2a2a" stroke-width="0.08" >ns</text>
<path d="M222 347.95V345.75H237.5V347.95" fill="none" stroke="#333" stroke-width="0.6"/>
<text x="229.75" y="344.95" font-family='"Liberation Sans", Arial, sans-serif' font-size="6.3" text-anchor="middle" fill="#2a2a2a" stroke="#2a2a2a" stroke-width="0.08" >ns</text>
<path d="M237.5 345.95V343.75H254.25V345.95" fill="none" stroke="#333" stroke-width="0.6"/>
<text x="245.88" y="342.95" font-family='"Liberation Sans", Arial, sans-serif' font-size="6.3" text-anchor="middle" fill="#2a2a2a" stroke="#2a2a2a" stroke-width="0.08" >ns</text>
<text x="163.6" y="317" font-family='"Liberation Sans", Arial, sans-serif' font-size="8.1" text-anchor="start" fill="#111" stroke="#111" stroke-width="0.18" >CD274</text>
<line x1="290.5" y1="322.5" x2="290.5" y2="426.35" stroke="#3c3c3c" stroke-width="0.9" />
<line x1="290.05" y1="425.9" x2="392" y2="425.9" stroke="#3c3c3c" stroke-width="0.9" />
<line x1="288.6" y1="421.25" x2="290.5" y2="421.25" stroke="#222" stroke-width="0.6" />
<text x="287.3" y="423.55" font-family='"Liberation Sans", Arial, sans-serif' font-size="6.65" text-anchor="end" fill="#111" stroke="#111" stroke-width="0.08" >0</text>
<line x1="288.6" y1="396.5" x2="290.5" y2="396.5" stroke="#222" stroke-width="0.6" />
<text x="287.3" y="398.8" font-family='"Liberation Sans", Arial, sans-serif' font-size="6.65" text-anchor="end" fill="#111" stroke="#111" stroke-width="0.08" >3</text>
<line x1="288.6" y1="372" x2="290.5" y2="372" stroke="#222" stroke-width="0.6" />
<text x="287.3" y="374.3" font-family='"Liberation Sans", Arial, sans-serif' font-size="6.65" text-anchor="end" fill="#111" stroke="#111" stroke-width="0.08" >6</text>
<line x1="288.6" y1="347.5" x2="290.5" y2="347.5" stroke="#222" stroke-width="0.6" />
<text x="287.3" y="349.8" font-family='"Liberation Sans", Arial, sans-serif' font-size="6.65" text-anchor="end" fill="#111" stroke="#111" stroke-width="0.08" >9</text>
<line x1="288.6" y1="323.25" x2="290.5" y2="323.25" stroke="#222" stroke-width="0.6" />
<text x="287.3" y="325.55" font-family='"Liberation Sans", Arial, sans-serif' font-size="6.65" text-anchor="end" fill="#111" stroke="#111" stroke-width="0.08" >12</text>
<line x1="300.5" y1="425.9" x2="300.5" y2="427.9" stroke="#222" stroke-width="0.6" />
<text x="303.7" y="432.5" font-family='"Liberation Sans", Arial, sans-serif' font-size="6.8" text-anchor="end" fill="#111" transform="rotate(-45 303.7 432.5)" stroke="#111" stroke-width="0.18" >AD.Cold</text>
<line x1="317" y1="425.9" x2="317" y2="427.9" stroke="#222" stroke-width="0.6" />
<text x="320.2" y="432.5" font-family='"Liberation Sans", Arial, sans-serif' font-size="6.8" text-anchor="end" fill="#111" transform="rotate(-45 320.2 432.5)" stroke="#111" stroke-width="0.18" >AD.Myeloid</text>
<line x1="333" y1="425.9" x2="333" y2="427.9" stroke="#222" stroke-width="0.6" />
<text x="336.2" y="432.5" font-family='"Liberation Sans", Arial, sans-serif' font-size="6.8" text-anchor="end" fill="#111" transform="rotate(-45 336.2 432.5)" stroke="#111" stroke-width="0.18" >AD.CD8</text>
<line x1="348.75" y1="425.9" x2="348.75" y2="427.9" stroke="#222" stroke-width="0.6" />
<text x="351.95" y="432.5" font-family='"Liberation Sans", Arial, sans-serif' font-size="6.8" text-anchor="end" fill="#111" transform="rotate(-45 351.95 432.5)" stroke="#111" stroke-width="0.18" >SQ.Cold</text>
<line x1="365" y1="425.9" x2="365" y2="427.9" stroke="#222" stroke-width="0.6" />
<text x="368.2" y="432.5" font-family='"Liberation Sans", Arial, sans-serif' font-size="6.8" text-anchor="end" fill="#111" transform="rotate(-45 368.2 432.5)" stroke="#111" stroke-width="0.18" >SQ.Myeloid</text>
<line x1="381.25" y1="425.9" x2="381.25" y2="427.9" stroke="#222" stroke-width="0.6" />
<text x="384.45" y="432.5" font-family='"Liberation Sans", Arial, sans-serif' font-size="6.8" text-anchor="end" fill="#111" transform="rotate(-45 384.45 432.5)" stroke="#111" stroke-width="0.18" >SQ.CD8</text>
<g stroke="#5a4dae" stroke-width="0.65" stroke-opacity="0.95" fill="none">
<rect x="294.6" y="377" width="11.8" height="8.75"/>
<path d="M294.6 381.25H306.4" stroke-width="0.9"/>
<path d="M300.5 371.25V377M300.5 385.75V392"/>
</g>
<g fill="#5a4dae">
<circle cx="300" cy="371.25" r="1.3"/>
<circle cx="301.3" cy="392" r="1.3"/>
<circle cx="302.18" cy="377.16" r="1.3"/>
<circle cx="299.7" cy="381.99" r="1.3"/>
<circle cx="299.88" cy="378.56" r="1.3"/>
<circle cx="300.92" cy="376.27" r="1.3"/>
<circle cx="302.79" cy="379.12" r="1.3"/>
<circle cx="298.83" cy="385.89" r="1.3"/>
<circle cx="303.05" cy="372.49" r="1.3"/>
<circle cx="301.64" cy="380.7" r="1.3"/>
<circle cx="299.81" cy="388.64" r="1.3"/>
<circle cx="301.39" cy="377.38" r="1.3"/>
<circle cx="299.58" cy="380.21" r="1.3"/>
<circle cx="298.18" cy="376.18" r="1.3"/>
</g>
<g stroke="#159a70" stroke-width="0.65" stroke-opacity="0.95" fill="none">
<rect x="311.1" y="375" width="11.8" height="10.5"/>
<path d="M311.1 380H322.9" stroke-width="0.9"/>
<path d="M317 367V375M317 385.5V395"/>
</g>
<g fill="#159a70">
<circle cx="316.81" cy="367" r="1.3"/>
<circle cx="316.94" cy="395" r="1.3"/>
<circle cx="317.45" cy="387.52" r="1.3"/>
<circle cx="316.27" cy="372.39" r="1.3"/>
<circle cx="318.63" cy="391.59" r="1.3"/>
<circle cx="315.38" cy="381.22" r="1.3"/>
<circle cx="319.26" cy="379.85" r="1.3"/>
<circle cx="317.3" cy="387.82" r="1.3"/>
<circle cx="314.58" cy="384.35" r="1.3"/>
<circle cx="316" cy="380.16" r="1.3"/>
<circle cx="317.18" cy="369.12" r="1.3"/>
<circle cx="316.51" cy="370.05" r="1.3"/>
<circle cx="317.35" cy="375.43" r="1.3"/>
<circle cx="316.05" cy="371.89" r="1.3"/>
<circle cx="315.78" cy="391.75" r="1.3"/>
<circle cx="318.6" cy="377.32" r="1.3"/>
<circle cx="315.87" cy="383.58" r="1.3"/>
<circle cx="318.14" cy="375.93" r="1.3"/>
<circle cx="318.63" cy="389.3" r="1.3"/>
<circle cx="317.5" cy="382.15" r="1.3"/>
<circle cx="316.75" cy="372.5" r="1.3"/>
<circle cx="319.35" cy="382.26" r="1.3"/>
<circle cx="316.7" cy="381.13" r="1.3"/>
<circle cx="319.04" cy="392.37" r="1.3"/>
<circle cx="314.61" cy="385.93" r="1.3"/>
<circle cx="316.64" cy="380.44" r="1.3"/>
<circle cx="317.75" cy="385.38" r="1.3"/>
<circle cx="314.56" cy="377.75" r="1.3"/>
<circle cx="318.96" cy="377.68" r="1.3"/>
<circle cx="314.69" cy="389.21" r="1.3"/>
<circle cx="317.52" cy="373" r="1.3"/>
<circle cx="315.27" cy="378.2" r="1.3"/>
<circle cx="319.28" cy="392.17" r="1.3"/>
<circle cx="317.33" cy="386.58" r="1.3"/>
<circle cx="318.62" cy="375.55" r="1.3"/>
<circle cx="316.99" cy="373.34" r="1.3"/>
</g>
<g stroke="#d9590c" stroke-width="0.65" stroke-opacity="0.95" fill="none">
<rect x="327.1" y="371.25" width="11.8" height="10"/>
<path d="M327.1 375.75H338.9" stroke-width="0.9"/>
<path d="M333 364.25V371.25M333 381.25V390.5"/>
</g>
<g fill="#d9590c">
<circle cx="333.53" cy="364.25" r="1.3"/>
<circle cx="333.22" cy="390.5" r="1.3"/>
<circle cx="330.78" cy="367.52" r="1.3"/>
<circle cx="331.05" cy="373.36" r="1.3"/>
<circle cx="331.76" cy="381.67" r="1.3"/>
<circle cx="335.12" cy="381.99" r="1.3"/>
<circle cx="334.87" cy="372.2" r="1.3"/>
<circle cx="331.53" cy="389.78" r="1.3"/>
<circle cx="335.29" cy="377.84" r="1.3"/>
<circle cx="330.47" cy="380.31" r="1.3"/>
<circle cx="333.53" cy="370.9" r="1.3"/>
<circle cx="335.52" cy="378.21" r="1.3"/>
<circle cx="332.16" cy="379.61" r="1.3"/>
<circle cx="335.4" cy="373.58" r="1.3"/>
<circle cx="333.85" cy="370.13" r="1.3"/>
<circle cx="330.57" cy="370.9" r="1.3"/>
<circle cx="332.1" cy="382.78" r="1.3"/>
<circle cx="332.73" cy="381.7" r="1.3"/>
<circle cx="331.64" cy="390.21" r="1.3"/>
<circle cx="334.31" cy="371.58" r="1.3"/>
<circle cx="331.27" cy="377.66" r="1.3"/>
<circle cx="334.55" cy="376.71" r="1.3"/>
<circle cx="331.91" cy="375.89" r="1.3"/>
<circle cx="330.67" cy="369.44" r="1.3"/>
<circle cx="333.32" cy="371.03" r="1.3"/>
<circle cx="330.82" cy="381.57" r="1.3"/>
<circle cx="333.28" cy="390.44" r="1.3"/>
<circle cx="334.56" cy="384.56" r="1.3"/>
<circle cx="333.52" cy="374.73" r="1.3"/>
<circle cx="332.79" cy="384.27" r="1.3"/>
<circle cx="330.48" cy="381.46" r="1.3"/>
<circle cx="333.07" cy="379.89" r="1.3"/>
</g>
<g stroke="#6a84d4" stroke-width="0.65" stroke-opacity="0.95" fill="none">
<rect x="342.85" y="380.5" width="11.8" height="10.75"/>
<path d="M342.85 386.25H354.65" stroke-width="0.9"/>
<path d="M348.75 364.5V380.5M348.75 391.25V397.5"/>
</g>
<g fill="#6a84d4">
<circle cx="350.77" cy="364.5" r="1.3"/>
<circle cx="348.64" cy="397.5" r="1.3"/>
<circle cx="346.85" cy="387.45" r="1.3"/>
<circle cx="346.56" cy="386.71" r="1.3"/>
<circle cx="350.8" cy="384.53" r="1.3"/>
<circle cx="346.68" cy="379.61" r="1.3"/>
<circle cx="348.73" cy="390.62" r="1.3"/>
<circle cx="348.94" cy="389.55" r="1.3"/>
</g>
<g stroke="#3dbb8e" stroke-width="0.65" stroke-opacity="0.95" fill="none">
<rect x="359.1" y="380.5" width="11.8" height="9"/>
<path d="M359.1 384.5H370.9" stroke-width="0.9"/>
<path d="M365 370.75V380.5M365 389.5V400"/>
</g>
<g fill="#3dbb8e">
<circle cx="365.51" cy="370.75" r="1.3"/>
<circle cx="366.53" cy="400" r="1.3"/>
<circle cx="366.14" cy="384.71" r="1.3"/>
<circle cx="362.64" cy="385.32" r="1.3"/>
<circle cx="363.63" cy="378.54" r="1.3"/>
<circle cx="365.54" cy="384.13" r="1.3"/>
<circle cx="367.61" cy="381.64" r="1.3"/>
<circle cx="362.52" cy="388.34" r="1.3"/>
<circle cx="365.64" cy="372.4" r="1.3"/>
<circle cx="366.04" cy="388.99" r="1.3"/>
<circle cx="366.7" cy="387.62" r="1.3"/>
<circle cx="364.15" cy="375.13" r="1.3"/>
<circle cx="366.68" cy="387.25" r="1.3"/>
<circle cx="364.79" cy="382.88" r="1.3"/>
<circle cx="367.27" cy="384.04" r="1.3"/>
<circle cx="362.36" cy="379.14" r="1.3"/>
<circle cx="367.38" cy="389.7" r="1.3"/>
<circle cx="364.52" cy="379.55" r="1.3"/>
</g>
<g stroke="#f86f3c" stroke-width="0.65" stroke-opacity="0.95" fill="none">
<rect x="375.35" y="374.5" width="11.8" height="9.25"/>
<path d="M375.35 378.75H387.15" stroke-width="0.9"/>
<path d="M381.25 367V374.5M381.25 383.75V392"/>
</g>
<g fill="#f86f3c">
<circle cx="383.77" cy="367" r="1.3"/>
<circle cx="382.18" cy="392" r="1.3"/>
<circle cx="382.58" cy="375.31" r="1.3"/>
<circle cx="379.28" cy="381.29" r="1.3"/>
<circle cx="383.02" cy="374.13" r="1.3"/>
<circle cx="383.61" cy="375.8" r="1.3"/>
<circle cx="383.44" cy="376.53" r="1.3"/>
<circle cx="382.57" cy="383.53" r="1.3"/>
<circle cx="383.05" cy="389.43" r="1.3"/>
<circle cx="382.88" cy="379.1" r="1.3"/>
<circle cx="381.74" cy="390.82" r="1.3"/>
<circle cx="380.9" cy="387.75" r="1.3"/>
<circle cx="383.01" cy="380.28" r="1.3"/>
<circle cx="382.79" cy="389.37" r="1.3"/>
<circle cx="383.25" cy="381.14" r="1.3"/>
<circle cx="380.16" cy="376" r="1.3"/>
</g>
<path d="M300.5 338.95V336.75H333V338.95" fill="none" stroke="#333" stroke-width="0.6"/>
<text x="316.75" y="336.95" font-family='"Liberation Sans", Arial, sans-serif' font-size="6.5" text-anchor="middle" fill="#222" stroke="#222" stroke-width="0.1" >*</text>
<path d="M300.5 347.95V345.75H317V347.95" fill="none" stroke="#333" stroke-width="0.6"/>
<text x="308.75" y="344.95" font-family='"Liberation Sans", Arial, sans-serif' font-size="6.3" text-anchor="middle" fill="#2a2a2a" stroke="#2a2a2a" stroke-width="0.08" >ns</text>
<path d="M317 345.95V343.75H333V345.95" fill="none" stroke="#333" stroke-width="0.6"/>
<text x="325" y="342.95" font-family='"Liberation Sans", Arial, sans-serif' font-size="6.3" text-anchor="middle" fill="#2a2a2a" stroke="#2a2a2a" stroke-width="0.08" >ns</text>
<path d="M348.75 338.95V336.75H381.25V338.95" fill="none" stroke="#333" stroke-width="0.6"/>
<text x="365" y="335.95" font-family='"Liberation Sans", Arial, sans-serif' font-size="6.3" text-anchor="middle" fill="#2a2a2a" stroke="#2a2a2a" stroke-width="0.08" >ns</text>
<path d="M348.75 347.95V345.75H365V347.95" fill="none" stroke="#333" stroke-width="0.6"/>
<text x="356.88" y="344.95" font-family='"Liberation Sans", Arial, sans-serif' font-size="6.3" text-anchor="middle" fill="#2a2a2a" stroke="#2a2a2a" stroke-width="0.08" >ns</text>
<path d="M365 345.95V343.75H381.25V345.95" fill="none" stroke="#333" stroke-width="0.6"/>
<text x="373.12" y="343.95" font-family='"Liberation Sans", Arial, sans-serif' font-size="6.5" text-anchor="middle" fill="#222" stroke="#222" stroke-width="0.1" >*</text>
<text x="290.4" y="317" font-family='"Liberation Sans", Arial, sans-serif' font-size="8.1" text-anchor="start" fill="#111" stroke="#111" stroke-width="0.18" >HAVCR2</text>
<line x1="417.5" y1="322.5" x2="417.5" y2="426.35" stroke="#3c3c3c" stroke-width="0.9" />
<line x1="417.05" y1="425.9" x2="520" y2="425.9" stroke="#3c3c3c" stroke-width="0.9" />
<line x1="415.6" y1="421.25" x2="417.5" y2="421.25" stroke="#222" stroke-width="0.6" />
<text x="414.3" y="423.55" font-family='"Liberation Sans", Arial, sans-serif' font-size="6.65" text-anchor="end" fill="#111" stroke="#111" stroke-width="0.08" >0</text>
<line x1="415.6" y1="396.5" x2="417.5" y2="396.5" stroke="#222" stroke-width="0.6" />
<text x="414.3" y="398.8" font-family='"Liberation Sans", Arial, sans-serif' font-size="6.65" text-anchor="end" fill="#111" stroke="#111" stroke-width="0.08" >3</text>
<line x1="415.6" y1="372" x2="417.5" y2="372" stroke="#222" stroke-width="0.6" />
<text x="414.3" y="374.3" font-family='"Liberation Sans", Arial, sans-serif' font-size="6.65" text-anchor="end" fill="#111" stroke="#111" stroke-width="0.08" >6</text>
<line x1="415.6" y1="347.5" x2="417.5" y2="347.5" stroke="#222" stroke-width="0.6" />
<text x="414.3" y="349.8" font-family='"Liberation Sans", Arial, sans-serif' font-size="6.65" text-anchor="end" fill="#111" stroke="#111" stroke-width="0.08" >9</text>
<line x1="415.6" y1="323.25" x2="417.5" y2="323.25" stroke="#222" stroke-width="0.6" />
<text x="414.3" y="325.55" font-family='"Liberation Sans", Arial, sans-serif' font-size="6.65" text-anchor="end" fill="#111" stroke="#111" stroke-width="0.08" >12</text>
<line x1="427.5" y1="425.9" x2="427.5" y2="427.9" stroke="#222" stroke-width="0.6" />
<text x="430.7" y="432.5" font-family='"Liberation Sans", Arial, sans-serif' font-size="6.8" text-anchor="end" fill="#111" transform="rotate(-45 430.7 432.5)" stroke="#111" stroke-width="0.18" >AD.Cold</text>
<line x1="443.75" y1="425.9" x2="443.75" y2="427.9" stroke="#222" stroke-width="0.6" />
<text x="446.95" y="432.5" font-family='"Liberation Sans", Arial, sans-serif' font-size="6.8" text-anchor="end" fill="#111" transform="rotate(-45 446.95 432.5)" stroke="#111" stroke-width="0.18" >AD.Myeloid</text>
<line x1="460.5" y1="425.9" x2="460.5" y2="427.9" stroke="#222" stroke-width="0.6" />
<text x="463.7" y="432.5" font-family='"Liberation Sans", Arial, sans-serif' font-size="6.8" text-anchor="end" fill="#111" transform="rotate(-45 463.7 432.5)" stroke="#111" stroke-width="0.18" >AD.CD8</text>
<line x1="476.25" y1="425.9" x2="476.25" y2="427.9" stroke="#222" stroke-width="0.6" />
<text x="479.45" y="432.5" font-family='"Liberation Sans", Arial, sans-serif' font-size="6.8" text-anchor="end" fill="#111" transform="rotate(-45 479.45 432.5)" stroke="#111" stroke-width="0.18" >SQ.Cold</text>
<line x1="492.5" y1="425.9" x2="492.5" y2="427.9" stroke="#222" stroke-width="0.6" />
<text x="495.7" y="432.5" font-family='"Liberation Sans", Arial, sans-serif' font-size="6.8" text-anchor="end" fill="#111" transform="rotate(-45 495.7 432.5)" stroke="#111" stroke-width="0.18" >SQ.Myeloid</text>
<line x1="508.75" y1="425.9" x2="508.75" y2="427.9" stroke="#222" stroke-width="0.6" />
<text x="511.95" y="432.5" font-family='"Liberation Sans", Arial, sans-serif' font-size="6.8" text-anchor="end" fill="#111" transform="rotate(-45 511.95 432.5)" stroke="#111" stroke-width="0.18" >SQ.CD8</text>
<g stroke="#5a4dae" stroke-width="0.65" stroke-opacity="0.95" fill="none">
<rect x="421.6" y="390.5" width="11.8" height="10"/>
<path d="M421.6 396.25H433.4" stroke-width="0.9"/>
<path d="M427.5 383V390.5M427.5 400.5V413.75"/>
</g>
<g fill="#5a4dae">
<circle cx="428.32" cy="383" r="1.3"/>
<circle cx="429.32" cy="413.75" r="1.3"/>
<circle cx="426.63" cy="405.32" r="1.3"/>
<circle cx="428.01" cy="400.92" r="1.3"/>
<circle cx="429.32" cy="409.54" r="1.3"/>
<circle cx="429.08" cy="398.88" r="1.3"/>
<circle cx="424.82" cy="392.48" r="1.3"/>
<circle cx="427.44" cy="392.87" r="1.3"/>
<circle cx="424.89" cy="399.58" r="1.3"/>
<circle cx="425.4" cy="386.16" r="1.3"/>
<circle cx="429.19" cy="398.34" r="1.3"/>
<circle cx="427.06" cy="407.7" r="1.3"/>
<circle cx="428.07" cy="410.25" r="1.3"/>
<circle cx="427.27" cy="391.37" r="1.3"/>
</g>
<g stroke="#159a70" stroke-width="0.65" stroke-opacity="0.95" fill="none">
<rect x="437.85" y="393.75" width="11.8" height="10.75"/>
<path d="M437.85 398H449.65" stroke-width="0.9"/>
<path d="M443.75 383.75V393.75M443.75 404.5V412.5"/>
</g>
<g fill="#159a70">
<circle cx="445.86" cy="383.75" r="1.3"/>
<circle cx="444.99" cy="412.5" r="1.3"/>
<circle cx="445.1" cy="396.05" r="1.3"/>
<circle cx="441.24" cy="402.83" r="1.3"/>
<circle cx="442.81" cy="392.35" r="1.3"/>
<circle cx="441.79" cy="396.66" r="1.3"/>
<circle cx="446.2" cy="391.04" r="1.3"/>
<circle cx="445.86" cy="386.65" r="1.3"/>
<circle cx="441.83" cy="401.09" r="1.3"/>
<circle cx="444.22" cy="402.6" r="1.3"/>
<circle cx="444.16" cy="396.67" r="1.3"/>
<circle cx="441.3" cy="406.08" r="1.3"/>
<circle cx="443.17" cy="403.32" r="1.3"/>
<circle cx="445.09" cy="385.39" r="1.3"/>
<circle cx="444.51" cy="399.12" r="1.3"/>
<circle cx="442.57" cy="407.2" r="1.3"/>
<circle cx="445.17" cy="405.06" r="1.3"/>
<circle cx="442.62" cy="404.94" r="1.3"/>
<circle cx="443.99" cy="393.75" r="1.3"/>
<circle cx="443.32" cy="403.91" r="1.3"/>
<circle cx="446.33" cy="402.45" r="1.3"/>
<circle cx="444.55" cy="397.54" r="1.3"/>
<circle cx="445.4" cy="399.69" r="1.3"/>
<circle cx="444.7" cy="407.26" r="1.3"/>
<circle cx="443.1" cy="403.73" r="1.3"/>
<circle cx="446.25" cy="408.68" r="1.3"/>
<circle cx="444.88" cy="400.46" r="1.3"/>
<circle cx="444.78" cy="404.05" r="1.3"/>
<circle cx="442.55" cy="400.86" r="1.3"/>
<circle cx="441.92" cy="391.66" r="1.3"/>
<circle cx="444.16" cy="388.4" r="1.3"/>
<circle cx="445.51" cy="407.12" r="1.3"/>
<circle cx="445.34" cy="404.24" r="1.3"/>
<circle cx="442.93" cy="402.72" r="1.3"/>
<circle cx="441.81" cy="389.82" r="1.3"/>
<circle cx="443.84" cy="401.82" r="1.3"/>
<circle cx="445.79" cy="373.75" r="1.3"/>
</g>
<g stroke="#d9590c" stroke-width="0.65" stroke-opacity="0.95" fill="none">
<rect x="454.6" y="385" width="11.8" height="12"/>
<path d="M454.6 392H466.4" stroke-width="0.9"/>
<path d="M460.5 378.75V385M460.5 397V401.25"/>
</g>
<g fill="#d9590c">
<circle cx="461.54" cy="378.75" r="1.3"/>
<circle cx="461.98" cy="401.25" r="1.3"/>
<circle cx="459.93" cy="393.86" r="1.3"/>
<circle cx="462.88" cy="388.74" r="1.3"/>
<circle cx="461.81" cy="388.57" r="1.3"/>
<circle cx="459.65" cy="396.6" r="1.3"/>
<circle cx="459.92" cy="397.29" r="1.3"/>
<circle cx="462.15" cy="396.32" r="1.3"/>
<circle cx="459.69" cy="388.85" r="1.3"/>
<circle cx="458.8" cy="386.3" r="1.3"/>
<circle cx="462.51" cy="389.73" r="1.3"/>
<circle cx="460.67" cy="396.56" r="1.3"/>
<circle cx="460.61" cy="387.45" r="1.3"/>
<circle cx="461.41" cy="398.19" r="1.3"/>
<circle cx="462.67" cy="399.07" r="1.3"/>
<circle cx="458.52" cy="397.67" r="1.3"/>
<circle cx="459.63" cy="394.08" r="1.3"/>
<circle cx="458.16" cy="391.7" r="1.3"/>
<circle cx="460.03" cy="381.03" r="1.3"/>
<circle cx="460.51" cy="389.35" r="1.3"/>
<circle cx="462.4" cy="398.54" r="1.3"/>
<circle cx="461.41" cy="392.56" r="1.3"/>
<circle cx="460.92" cy="394.26" r="1.3"/>
<circle cx="459.98" cy="394.92" r="1.3"/>
<circle cx="460.9" cy="383.82" r="1.3"/>
<circle cx="459.28" cy="397.51" r="1.3"/>
<circle cx="462.36" cy="385.84" r="1.3"/>
<circle cx="462.06" cy="381.02" r="1.3"/>
<circle cx="462.33" cy="383.48" r="1.3"/>
<circle cx="458.62" cy="397.13" r="1.3"/>
<circle cx="461.43" cy="392.74" r="1.3"/>
<circle cx="461.87" cy="399.05" r="1.3"/>
<circle cx="460.5" cy="361.25" r="1.3"/>
</g>
<g stroke="#6a84d4" stroke-width="0.65" stroke-opacity="0.95" fill="none">
<rect x="470.35" y="392.5" width="11.8" height="13.75"/>
<path d="M470.35 399.5H482.15" stroke-width="0.9"/>
<path d="M476.25 375.75V392.5M476.25 406.25V414.25"/>
</g>
<g fill="#6a84d4">
<circle cx="476.81" cy="375.75" r="1.3"/>
<circle cx="478" cy="414.25" r="1.3"/>
<circle cx="475.02" cy="412.99" r="1.3"/>
<circle cx="474.7" cy="380.28" r="1.3"/>
<circle cx="474.76" cy="378.88" r="1.3"/>
<circle cx="474.06" cy="402.18" r="1.3"/>
<circle cx="477.2" cy="384.86" r="1.3"/>
<circle cx="478.81" cy="393.43" r="1.3"/>
</g>
<g stroke="#3dbb8e" stroke-width="0.65" stroke-opacity="0.95" fill="none">
<rect x="486.6" y="394.5" width="11.8" height="7.5"/>
<path d="M486.6 398H498.4" stroke-width="0.9"/>
<path d="M492.5 393V394.5M492.5 402V408"/>
</g>
<g fill="#3dbb8e">
<circle cx="492.09" cy="393" r="1.3"/>
<circle cx="490.14" cy="408" r="1.3"/>
<circle cx="493.2" cy="403.17" r="1.3"/>
<circle cx="493.71" cy="394.48" r="1.3"/>
<circle cx="492.96" cy="402.99" r="1.3"/>
<circle cx="491.96" cy="399.22" r="1.3"/>
<circle cx="492.57" cy="396.56" r="1.3"/>
<circle cx="492.98" cy="397.84" r="1.3"/>
<circle cx="491.02" cy="393.43" r="1.3"/>
<circle cx="494.49" cy="400.71" r="1.3"/>
<circle cx="495.18" cy="396.18" r="1.3"/>
<circle cx="494.14" cy="394.23" r="1.3"/>
<circle cx="494.99" cy="398.76" r="1.3"/>
<circle cx="491.58" cy="400.45" r="1.3"/>
<circle cx="495.13" cy="400.8" r="1.3"/>
<circle cx="490.19" cy="404.22" r="1.3"/>
<circle cx="492.38" cy="400.34" r="1.3"/>
<circle cx="490.52" cy="398.29" r="1.3"/>
<circle cx="492.25" cy="375" r="1.3"/>
<circle cx="493.49" cy="384.5" r="1.3"/>
</g>
<g stroke="#f86f3c" stroke-width="0.65" stroke-opacity="0.95" fill="none">
<rect x="502.85" y="383" width="11.8" height="12.5"/>
<path d="M502.85 388H514.65" stroke-width="0.9"/>
<path d="M508.75 365.5V383M508.75 395.5V408.75"/>
</g>
<g fill="#f86f3c">
<circle cx="507.47" cy="365.5" r="1.3"/>
<circle cx="507.97" cy="408.75" r="1.3"/>
<circle cx="506.93" cy="378.04" r="1.3"/>
<circle cx="509.46" cy="385.37" r="1.3"/>
<circle cx="511.4" cy="386.53" r="1.3"/>
<circle cx="507.7" cy="392.2" r="1.3"/>
<circle cx="506.29" cy="378.32" r="1.3"/>
<circle cx="507" cy="391.8" r="1.3"/>
<circle cx="507.97" cy="386.32" r="1.3"/>
<circle cx="510.9" cy="373.08" r="1.3"/>
<circle cx="510.39" cy="403.82" r="1.3"/>
<circle cx="508.51" cy="407.09" r="1.3"/>
<circle cx="506.6" cy="372.67" r="1.3"/>
<circle cx="506.63" cy="385.57" r="1.3"/>
<circle cx="506.88" cy="393.79" r="1.3"/>
<circle cx="510.25" cy="374.64" r="1.3"/>
</g>
<path d="M427.5 338.95V336.75H460.5V338.95" fill="none" stroke="#333" stroke-width="0.6"/>
<text x="444" y="335.95" font-family='"Liberation Sans", Arial, sans-serif' font-size="6.3" text-anchor="middle" fill="#2a2a2a" stroke="#2a2a2a" stroke-width="0.08" >ns</text>
<path d="M427.5 347.95V345.75H443.75V347.95" fill="none" stroke="#333" stroke-width="0.6"/>
<text x="435.62" y="344.95" font-family='"Liberation Sans", Arial, sans-serif' font-size="6.3" text-anchor="middle" fill="#2a2a2a" stroke="#2a2a2a" stroke-width="0.08" >ns</text>
<path d="M443.75 345.95V343.75H460.5V345.95" fill="none" stroke="#333" stroke-width="0.6"/>
<text x="452.12" y="343.95" font-family='"Liberation Sans", Arial, sans-serif' font-size="6.5" text-anchor="middle" fill="#222" stroke="#222" stroke-width="0.1" >**</text>
<path d="M476.25 338.95V336.75H508.75V338.95" fill="none" stroke="#333" stroke-width="0.6"/>
<text x="492.5" y="336.95" font-family='"Liberation Sans", Arial, sans-serif' font-size="6.5" text-anchor="middle" fill="#222" stroke="#222" stroke-width="0.1" >*</text>
<path d="M476.25 347.95V345.75H492.5V347.95" fill="none" stroke="#333" stroke-width="0.6"/>
<text x="484.38" y="344.95" font-family='"Liberation Sans", Arial, sans-serif' font-size="6.3" text-anchor="middle" fill="#2a2a2a" stroke="#2a2a2a" stroke-width="0.08" >ns</text>
<path d="M492.5 345.95V343.75H508.75V345.95" fill="none" stroke="#333" stroke-width="0.6"/>
<text x="500.62" y="343.95" font-family='"Liberation Sans", Arial, sans-serif' font-size="6.5" text-anchor="middle" fill="#222" stroke="#222" stroke-width="0.1" >*</text>
<text x="418" y="317" font-family='"Liberation Sans", Arial, sans-serif' font-size="8.1" text-anchor="start" fill="#111" stroke="#111" stroke-width="0.18" >LAG3</text>
<text x="0.3" y="9.1" font-family='"Liberation Sans", Arial, sans-serif' font-size="10.6" text-anchor="start" fill="#000" font-weight="bold" stroke="#000" stroke-width="0.18" >A</text>
<text x="265.3" y="8.9" font-family='"Liberation Sans", Arial, sans-serif' font-size="10.6" text-anchor="start" fill="#000" font-weight="bold" stroke="#000" stroke-width="0.18" >B</text>
<text x="-0.3" y="158.9" font-family='"Liberation Sans", Arial, sans-serif' font-size="10.6" text-anchor="start" fill="#000" font-weight="bold" stroke="#000" stroke-width="0.18" >C</text>
<text x="-0.3" y="316.4" font-family='"Liberation Sans", Arial, sans-serif' font-size="10.6" text-anchor="start" fill="#000" font-weight="bold" stroke="#000" stroke-width="0.18" >D</text>
<text x="1" y="493" font-family='"Liberation Sans", Arial, sans-serif' font-size="10.6" text-anchor="start" fill="#000" font-weight="bold" stroke="#000" stroke-width="0.18" >E</text>
<text x="1.8" y="638" font-family='"Liberation Sans", Arial, sans-serif' font-size="10.6" text-anchor="start" fill="#000" font-weight="bold" stroke="#000" stroke-width="0.18" >F</text>
<text transform="translate(16.2 58.3) rotate(-90)" font-family='"Liberation Sans", Arial, sans-serif' font-size="8.2" text-anchor="middle" fill="#111" stroke="#111" stroke-width="0.12">log<tspan font-size="5.5" dy="1.7">2</tspan><tspan font-size="6.5" dy="-1.7" letter-spacing="0.2" fill="#333" stroke-width="0">(TPM+1)</tspan></text>
<text transform="translate(16.2 370.3) rotate(-90)" font-family='"Liberation Sans", Arial, sans-serif' font-size="8.2" text-anchor="middle" fill="#111" stroke="#111" stroke-width="0.12">log<tspan font-size="5.5" dy="1.7">2</tspan><tspan font-size="6.5" dy="-1.7" letter-spacing="0.2" fill="#333" stroke-width="0">(TPM+1)</tspan></text>
<text transform="translate(280 57.3) rotate(-90)" font-family='"DejaVu Sans Condensed", "DejaVu Sans", sans-serif' font-size="6.9" text-anchor="middle" fill="#333" stroke="#333" stroke-width="0.1">Mean(Log<tspan font-size="4.5" dy="1">2</tspan><tspan dy="-1">(TPM+1))</tspan></text>
<text transform="translate(15.4 215.5) rotate(-90)" font-family='"DejaVu Sans Condensed", "DejaVu Sans", sans-serif' font-size="6.65" text-anchor="middle" fill="#2c2c2c" stroke="#2c2c2c" stroke-width="0.12">Shannon entropy</text>
<polygon points="67,523.1 32.91,539.52 24.49,576.4 48.08,605.98 85.92,605.98 109.51,576.4 101.09,539.52" fill="none" stroke="#8f8ff2" stroke-width="0.45"/>
<line x1="67" y1="566.7" x2="67" y2="523.1" stroke="#a5a5f2" stroke-width="0.4" />
<line x1="67" y1="566.7" x2="32.91" y2="539.52" stroke="#a5a5f2" stroke-width="0.4" />
<line x1="67" y1="566.7" x2="24.49" y2="576.4" stroke="#a5a5f2" stroke-width="0.4" />
<line x1="67" y1="566.7" x2="48.08" y2="605.98" stroke="#a5a5f2" stroke-width="0.4" />
<line x1="67" y1="566.7" x2="85.92" y2="605.98" stroke="#a5a5f2" stroke-width="0.4" />
<line x1="67" y1="566.7" x2="109.51" y2="576.4" stroke="#a5a5f2" stroke-width="0.4" />
<line x1="67" y1="566.7" x2="101.09" y2="539.52" stroke="#a5a5f2" stroke-width="0.4" />
<text x="67" y="525.6" font-family='"Liberation Sans", Arial, sans-serif' font-size="6.9" text-anchor="middle" fill="#4a4afa" stroke="#4a4afa" stroke-width="0.18" >5</text>
<text x="32.91" y="542.02" font-family='"Liberation Sans", Arial, sans-serif' font-size="6.9" text-anchor="middle" fill="#4a4afa" stroke="#4a4afa" stroke-width="0.18" >5</text>
<text x="24.49" y="578.9" font-family='"Liberation Sans", Arial, sans-serif' font-size="6.9" text-anchor="middle" fill="#4a4afa" stroke="#4a4afa" stroke-width="0.18" >5</text>
<text x="48.08" y="608.48" font-family='"Liberation Sans", Arial, sans-serif' font-size="6.9" text-anchor="middle" fill="#4a4afa" stroke="#4a4afa" stroke-width="0.18" >5</text>
<text x="85.92" y="608.48" font-family='"Liberation Sans", Arial, sans-serif' font-size="6.9" text-anchor="middle" fill="#4a4afa" stroke="#4a4afa" stroke-width="0.18" >5</text>
<text x="109.51" y="578.9" font-family='"Liberation Sans", Arial, sans-serif' font-size="6.9" text-anchor="middle" fill="#4a4afa" stroke="#4a4afa" stroke-width="0.18" >5</text>
<text x="101.09" y="542.02" font-family='"Liberation Sans", Arial, sans-serif' font-size="6.9" text-anchor="middle" fill="#4a4afa" stroke="#4a4afa" stroke-width="0.18" >5</text>
<polygon points="67,523.1 32.91,539.52 24.49,576.4 49.22,603.63 85.92,605.98 104.83,575.33 92.57,546.31" fill="#bebebe" fill-opacity="0.3" stroke="none"/>
<polygon points="67,525.28 37.85,543.46 30.02,575.14 52.24,597.34 85.92,605.98 104.41,575.24 92.57,546.31" fill="#bebebe" fill-opacity="0.3" stroke="none"/>
<polygon points="67,525.28 46.04,549.98 30.02,575.14 55.27,591.05 84.03,602.05 104.41,575.24 92.57,546.31" fill="#bebebe" fill-opacity="0.3" stroke="none"/>
<polygon points="67,534.87 37.85,543.46 53.82,569.71 52.24,597.34 84.03,602.05 104.41,575.24 92.57,546.31" fill="#bebebe" fill-opacity="0.3" stroke="none"/>
<polygon points="67,534.87 46.04,549.98 30.02,575.14 55.27,591.05 74.19,581.63 104.41,575.24 92.57,546.31" fill="#bebebe" fill-opacity="0.3" stroke="none"/>
<polygon points="67,550.57 42.46,547.13 41.92,572.42 57.92,585.56 85.92,605.98 104.41,575.24 92.57,546.31" fill="#bebebe" fill-opacity="0.3" stroke="none"/>
<polygon points="67,557.98 56.77,558.54 62.75,567.67 60.95,579.27 84.03,602.05 76.78,568.93 92.57,546.31" fill="#bebebe" fill-opacity="0.3" stroke="none"/>
<polygon points="67,565.83 60.18,561.26 41.92,572.42 55.27,591.05 69.84,572.59 104.41,575.24 92.57,546.31" fill="#bebebe" fill-opacity="0.3" stroke="none"/>
<polygon points="67,525.28 51.66,554.47 58.5,568.64 49.22,603.63 85.92,605.98 104.41,575.24 92.57,546.31" fill="#bebebe" fill-opacity="0.3" stroke="none"/>
<polygon points="67,525.28 42.46,547.13 30.02,575.14 52.24,597.34 84.03,602.05 104.41,575.24 92.57,546.31" fill="#bebebe" fill-opacity="0.3" stroke="none"/>
<polygon points="67,534.87 51.66,554.47 41.92,572.42 55.27,591.05 85.92,605.98 104.41,575.24 92.57,546.31" fill="#bebebe" fill-opacity="0.3" stroke="none"/>
<polygon points="67,546.21 37.85,543.46 30.02,575.14 60.95,579.27 82.13,598.13 104.41,575.24 92.57,546.31" fill="#bebebe" fill-opacity="0.3" stroke="none"/>
<polygon points="67,550.57 46.04,549.98 53.82,569.71 49.22,603.63 84.03,602.05 90.38,572.04 92.57,546.31" fill="#bebebe" fill-opacity="0.3" stroke="none"/>
<polygon points="67,523.1 37.85,543.46 30.02,575.14 64.16,572.59 69.84,572.59 104.41,575.24 92.57,546.31" fill="#bebebe" fill-opacity="0.3" stroke="none"/>
<polygon points="67,523.1 32.91,539.52 24.49,576.4 49.22,603.63 85.92,605.98 104.83,575.33 92.57,546.31" fill="none" stroke="#141414" stroke-width="0.62" stroke-linejoin="round"/>
<polygon points="67,525.28 37.85,543.46 30.02,575.14 52.24,597.34 85.92,605.98 104.41,575.24 92.57,546.31" fill="none" stroke="#141414" stroke-width="0.62" stroke-linejoin="round"/>
<polygon points="67,525.28 46.04,549.98 30.02,575.14 55.27,591.05 84.03,602.05 104.41,575.24 92.57,546.31" fill="none" stroke="#141414" stroke-width="0.62" stroke-linejoin="round"/>
<polygon points="67,534.87 37.85,543.46 53.82,569.71 52.24,597.34 84.03,602.05 104.41,575.24 92.57,546.31" fill="none" stroke="#141414" stroke-width="0.62" stroke-linejoin="round"/>
<polygon points="67,550.57 42.46,547.13 41.92,572.42 57.92,585.56 85.92,605.98 104.41,575.24 92.57,546.31" fill="none" stroke="#141414" stroke-width="0.62" stroke-linejoin="round"/>
<polygon points="67,557.98 56.77,558.54 62.75,567.67 60.95,579.27 84.03,602.05 76.78,568.93 92.57,546.31" fill="none" stroke="#141414" stroke-width="0.62" stroke-linejoin="round"/>
<polygon points="67,565.83 60.18,561.26 41.92,572.42 55.27,591.05 69.84,572.59 104.41,575.24 92.57,546.31" fill="none" stroke="#141414" stroke-width="0.62" stroke-linejoin="round"/>
<polygon points="67,525.28 51.66,554.47 58.5,568.64 49.22,603.63 85.92,605.98 104.41,575.24 92.57,546.31" fill="none" stroke="#141414" stroke-width="0.62" stroke-linejoin="round"/>
<polygon points="67,525.28 42.46,547.13 30.02,575.14 52.24,597.34 84.03,602.05 104.41,575.24 92.57,546.31" fill="none" stroke="#141414" stroke-width="0.62" stroke-linejoin="round"/>
<polygon points="67,534.87 51.66,554.47 41.92,572.42 55.27,591.05 85.92,605.98 104.41,575.24 92.57,546.31" fill="none" stroke="#141414" stroke-width="0.62" stroke-linejoin="round"/>
<polygon points="67,546.21 37.85,543.46 30.02,575.14 60.95,579.27 82.13,598.13 104.41,575.24 92.57,546.31" fill="none" stroke="#141414" stroke-width="0.62" stroke-linejoin="round"/>
<polygon points="67,550.57 46.04,549.98 53.82,569.71 49.22,603.63 84.03,602.05 90.38,572.04 92.57,546.31" fill="none" stroke="#141414" stroke-width="0.62" stroke-linejoin="round"/>
<polygon points="67,523.1 37.85,543.46 30.02,575.14 64.16,572.59 69.84,572.59 104.41,575.24 92.57,546.31" fill="none" stroke="#141414" stroke-width="0.62" stroke-linejoin="round"/>
<circle cx="67" cy="523.1" r="1.25" fill="#141414"/>
<circle cx="32.91" cy="539.52" r="1.25" fill="#141414"/>
<circle cx="24.49" cy="576.4" r="1.25" fill="#141414"/>
<circle cx="49.22" cy="603.63" r="1.25" fill="#141414"/>
<circle cx="85.92" cy="605.98" r="1.25" fill="#141414"/>
<circle cx="104.83" cy="575.33" r="1.25" fill="#141414"/>
<circle cx="92.57" cy="546.31" r="1.25" fill="#141414"/>
<circle cx="67" cy="525.28" r="1.25" fill="#141414"/>
<circle cx="37.85" cy="543.46" r="1.25" fill="#141414"/>
<circle cx="30.02" cy="575.14" r="1.25" fill="#141414"/>
<circle cx="52.24" cy="597.34" r="1.25" fill="#141414"/>
<circle cx="85.92" cy="605.98" r="1.25" fill="#141414"/>
<circle cx="104.41" cy="575.24" r="1.25" fill="#141414"/>
<circle cx="92.57" cy="546.31" r="1.25" fill="#141414"/>
<circle cx="67" cy="525.28" r="1.25" fill="#141414"/>
<circle cx="46.04" cy="549.98" r="1.25" fill="#141414"/>
<circle cx="30.02" cy="575.14" r="1.25" fill="#141414"/>
<circle cx="55.27" cy="591.05" r="1.25" fill="#141414"/>
<circle cx="84.03" cy="602.05" r="1.25" fill="#141414"/>
<circle cx="104.41" cy="575.24" r="1.25" fill="#141414"/>
<circle cx="92.57" cy="546.31" r="1.25" fill="#141414"/>
<circle cx="67" cy="534.87" r="1.25" fill="#141414"/>
<circle cx="37.85" cy="543.46" r="1.25" fill="#141414"/>
<circle cx="53.82" cy="569.71" r="1.25" fill="#141414"/>
<circle cx="52.24" cy="597.34" r="1.25" fill="#141414"/>
<circle cx="84.03" cy="602.05" r="1.25" fill="#141414"/>
<circle cx="104.41" cy="575.24" r="1.25" fill="#141414"/>
<circle cx="92.57" cy="546.31" r="1.25" fill="#141414"/>
<circle cx="67" cy="550.57" r="1.25" fill="#141414"/>
<circle cx="42.46" cy="547.13" r="1.25" fill="#141414"/>
<circle cx="41.92" cy="572.42" r="1.25" fill="#141414"/>
<circle cx="57.92" cy="585.56" r="1.25" fill="#141414"/>
<circle cx="85.92" cy="605.98" r="1.25" fill="#141414"/>
<circle cx="104.41" cy="575.24" r="1.25" fill="#141414"/>
<circle cx="92.57" cy="546.31" r="1.25" fill="#141414"/>
<circle cx="67" cy="557.98" r="1.25" fill="#141414"/>
<circle cx="56.77" cy="558.54" r="1.25" fill="#141414"/>
<circle cx="62.75" cy="567.67" r="1.25" fill="#141414"/>
<circle cx="60.95" cy="579.27" r="1.25" fill="#141414"/>
<circle cx="84.03" cy="602.05" r="1.25" fill="#141414"/>
<circle cx="76.78" cy="568.93" r="1.25" fill="#141414"/>
<circle cx="92.57" cy="546.31" r="1.25" fill="#141414"/>
<circle cx="67" cy="565.83" r="1.25" fill="#141414"/>
<circle cx="60.18" cy="561.26" r="1.25" fill="#141414"/>
<circle cx="41.92" cy="572.42" r="1.25" fill="#141414"/>
<circle cx="55.27" cy="591.05" r="1.25" fill="#141414"/>
<circle cx="69.84" cy="572.59" r="1.25" fill="#141414"/>
<circle cx="104.41" cy="575.24" r="1.25" fill="#141414"/>
<circle cx="92.57" cy="546.31" r="1.25" fill="#141414"/>
<circle cx="67" cy="525.28" r="1.25" fill="#141414"/>
<circle cx="51.66" cy="554.47" r="1.25" fill="#141414"/>
<circle cx="58.5" cy="568.64" r="1.25" fill="#141414"/>
<circle cx="49.22" cy="603.63" r="1.25" fill="#141414"/>
<circle cx="85.92" cy="605.98" r="1.25" fill="#141414"/>
<circle cx="104.41" cy="575.24" r="1.25" fill="#141414"/>
<circle cx="92.57" cy="546.31" r="1.25" fill="#141414"/>
<circle cx="67" cy="525.28" r="1.25" fill="#141414"/>
<circle cx="42.46" cy="547.13" r="1.25" fill="#141414"/>
<circle cx="30.02" cy="575.14" r="1.25" fill="#141414"/>
<circle cx="52.24" cy="597.34" r="1.25" fill="#141414"/>
<circle cx="84.03" cy="602.05" r="1.25" fill="#141414"/>
<circle cx="104.41" cy="575.24" r="1.25" fill="#141414"/>
<circle cx="92.57" cy="546.31" r="1.25" fill="#141414"/>
<circle cx="67" cy="534.87" r="1.25" fill="#141414"/>
<circle cx="51.66" cy="554.47" r="1.25" fill="#141414"/>
<circle cx="41.92" cy="572.42" r="1.25" fill="#141414"/>
<circle cx="55.27" cy="591.05" r="1.25" fill="#141414"/>
<circle cx="85.92" cy="605.98" r="1.25" fill="#141414"/>
<circle cx="104.41" cy="575.24" r="1.25" fill="#141414"/>
<circle cx="92.57" cy="546.31" r="1.25" fill="#141414"/>
<circle cx="67" cy="546.21" r="1.25" fill="#141414"/>
<circle cx="37.85" cy="543.46" r="1.25" fill="#141414"/>
<circle cx="30.02" cy="575.14" r="1.25" fill="#141414"/>
<circle cx="60.95" cy="579.27" r="1.25" fill="#141414"/>
<circle cx="82.13" cy="598.13" r="1.25" fill="#141414"/>
<circle cx="104.41" cy="575.24" r="1.25" fill="#141414"/>
<circle cx="92.57" cy="546.31" r="1.25" fill="#141414"/>
<circle cx="67" cy="550.57" r="1.25" fill="#141414"/>
<circle cx="46.04" cy="549.98" r="1.25" fill="#141414"/>
<circle cx="53.82" cy="569.71" r="1.25" fill="#141414"/>
<circle cx="49.22" cy="603.63" r="1.25" fill="#141414"/>
<circle cx="84.03" cy="602.05" r="1.25" fill="#141414"/>
<circle cx="90.38" cy="572.04" r="1.25" fill="#141414"/>
<circle cx="92.57" cy="546.31" r="1.25" fill="#141414"/>
<circle cx="67" cy="523.1" r="1.25" fill="#141414"/>
<circle cx="37.85" cy="543.46" r="1.25" fill="#141414"/>
<circle cx="30.02" cy="575.14" r="1.25" fill="#141414"/>
<circle cx="64.16" cy="572.59" r="1.25" fill="#141414"/>
<circle cx="69.84" cy="572.59" r="1.25" fill="#141414"/>
<circle cx="104.41" cy="575.24" r="1.25" fill="#141414"/>
<circle cx="92.57" cy="546.31" r="1.25" fill="#141414"/>
<polygon points="67,546.21 51.32,554.2 53.82,569.71 56.69,588.11 82.13,598.13 103.77,575.09 92.57,546.31" fill="#bebebe" fill-opacity="0.72" stroke="none"/>
<polygon points="67,534.87 46.04,549.98 30.02,575.14 55.27,591.05 74.19,581.63 104.41,575.24 92.57,546.31" fill="none" stroke="#141414" stroke-width="0.62" stroke-linejoin="round"/>
<circle cx="67" cy="534.87" r="1.25" fill="#141414"/>
<circle cx="46.04" cy="549.98" r="1.25" fill="#141414"/>
<circle cx="30.02" cy="575.14" r="1.25" fill="#141414"/>
<circle cx="55.27" cy="591.05" r="1.25" fill="#141414"/>
<circle cx="74.19" cy="581.63" r="1.25" fill="#141414"/>
<circle cx="104.41" cy="575.24" r="1.25" fill="#141414"/>
<circle cx="92.57" cy="546.31" r="1.25" fill="#141414"/>
<polygon points="67,546.21 51.32,554.2 53.82,569.71 56.69,588.11 82.13,598.13 103.77,575.09 92.57,546.31" fill="none" stroke="#f01515" stroke-width="0.65"/>
<circle cx="67" cy="546.21" r="1.35" fill="#f01010"/>
<circle cx="51.32" cy="554.2" r="1.35" fill="#f01010"/>
<circle cx="53.82" cy="569.71" r="1.35" fill="#f01010"/>
<circle cx="56.69" cy="588.11" r="1.35" fill="#f01010"/>
<circle cx="82.13" cy="598.13" r="1.35" fill="#f01010"/>
<circle cx="103.77" cy="575.09" r="1.35" fill="#f01010"/>
<circle cx="92.57" cy="546.31" r="1.35" fill="#f01010"/>
<text x="67" y="517.1" font-family='"Liberation Sans", Arial, sans-serif' font-size="6.15" text-anchor="middle" fill="#000" stroke="#000" stroke-width="0.05" >IGS1</text>
<text x="32.61" y="536.52" font-family='"Liberation Sans", Arial, sans-serif' font-size="6.15" text-anchor="end" fill="#000" stroke="#000" stroke-width="0.05" >IGS3</text>
<text x="101.39" y="536.52" font-family='"Liberation Sans", Arial, sans-serif' font-size="6.15" text-anchor="start" fill="#000" stroke="#000" stroke-width="0.05" >IGS8</text>
<text x="22.69" y="581" font-family='"Liberation Sans", Arial, sans-serif' font-size="6.15" text-anchor="end" fill="#000" stroke="#000" stroke-width="0.05" >IGS4</text>
<text x="111.31" y="581" font-family='"Liberation Sans", Arial, sans-serif' font-size="6.15" text-anchor="start" fill="#000" stroke="#000" stroke-width="0.05" >IGS7</text>
<text x="44.48" y="615.58" font-family='"Liberation Sans", Arial, sans-serif' font-size="6.15" text-anchor="middle" fill="#000" stroke="#000" stroke-width="0.05" >IGS5</text>
<text x="90.32" y="615.58" font-family='"Liberation Sans", Arial, sans-serif' font-size="6.15" text-anchor="middle" fill="#000" stroke="#000" stroke-width="0.05" >IGS6</text>
<text x="67" y="510.9" font-family='"DejaVu Sans Condensed", "DejaVu Sans", sans-serif' font-size="9.0" text-anchor="middle" fill="#111" stroke="#111" stroke-width="0.1" >Cold</text>
<polygon points="195.8,522.9 161.71,539.32 153.29,576.2 176.88,605.78 214.72,605.78 238.31,576.2 229.89,539.32" fill="none" stroke="#8f8ff2" stroke-width="0.45"/>
<line x1="195.8" y1="566.5" x2="195.8" y2="522.9" stroke="#a5a5f2" stroke-width="0.4" />
<line x1="195.8" y1="566.5" x2="161.71" y2="539.32" stroke="#a5a5f2" stroke-width="0.4" />
<line x1="195.8" y1="566.5" x2="153.29" y2="576.2" stroke="#a5a5f2" stroke-width="0.4" />
<line x1="195.8" y1="566.5" x2="176.88" y2="605.78" stroke="#a5a5f2" stroke-width="0.4" />
<line x1="195.8" y1="566.5" x2="214.72" y2="605.78" stroke="#a5a5f2" stroke-width="0.4" />
<line x1="195.8" y1="566.5" x2="238.31" y2="576.2" stroke="#a5a5f2" stroke-width="0.4" />
<line x1="195.8" y1="566.5" x2="229.89" y2="539.32" stroke="#a5a5f2" stroke-width="0.4" />
<text x="195.8" y="525.4" font-family='"Liberation Sans", Arial, sans-serif' font-size="6.9" text-anchor="middle" fill="#4a4afa" stroke="#4a4afa" stroke-width="0.18" >5</text>
<text x="161.71" y="541.82" font-family='"Liberation Sans", Arial, sans-serif' font-size="6.9" text-anchor="middle" fill="#4a4afa" stroke="#4a4afa" stroke-width="0.18" >5</text>
<text x="153.29" y="578.7" font-family='"Liberation Sans", Arial, sans-serif' font-size="6.9" text-anchor="middle" fill="#4a4afa" stroke="#4a4afa" stroke-width="0.18" >5</text>
<text x="176.88" y="608.28" font-family='"Liberation Sans", Arial, sans-serif' font-size="6.9" text-anchor="middle" fill="#4a4afa" stroke="#4a4afa" stroke-width="0.18" >5</text>
<text x="214.72" y="608.28" font-family='"Liberation Sans", Arial, sans-serif' font-size="6.9" text-anchor="middle" fill="#4a4afa" stroke="#4a4afa" stroke-width="0.18" >5</text>
<text x="238.31" y="578.7" font-family='"Liberation Sans", Arial, sans-serif' font-size="6.9" text-anchor="middle" fill="#4a4afa" stroke="#4a4afa" stroke-width="0.18" >5</text>
<text x="229.89" y="541.82" font-family='"Liberation Sans", Arial, sans-serif' font-size="6.9" text-anchor="middle" fill="#4a4afa" stroke="#4a4afa" stroke-width="0.18" >5</text>
<polygon points="195.8,522.9 161.71,539.32 158.82,574.94 176.88,605.78 208.47,592.82 232.78,574.94 220.68,546.66" fill="#bebebe" fill-opacity="0.3" stroke="none"/>
<polygon points="195.8,525.08 166.48,543.12 158.82,574.94 183.88,591.25 214.72,605.78 232.78,574.94 220.68,546.66" fill="#bebebe" fill-opacity="0.3" stroke="none"/>
<polygon points="195.8,527.26 169.55,545.57 158.82,574.94 181.14,596.94 212.07,600.28 232.78,574.94 220.68,546.66" fill="#bebebe" fill-opacity="0.3" stroke="none"/>
<polygon points="195.8,529 172.62,548.01 158.82,574.94 176.88,605.78 208.47,592.82 232.78,574.94 220.68,546.66" fill="#bebebe" fill-opacity="0.3" stroke="none"/>
<polygon points="195.8,530.75 161.71,539.32 170.72,572.22 183.88,591.25 214.72,605.78 232.78,574.94 220.68,546.66" fill="#bebebe" fill-opacity="0.3" stroke="none"/>
<polygon points="195.8,535.54 166.48,543.12 158.82,574.94 187.1,584.57 214.72,605.78 232.78,574.94 220.68,546.66" fill="#bebebe" fill-opacity="0.3" stroke="none"/>
<polygon points="195.8,539.9 169.55,545.57 170.72,572.22 176.88,605.78 207.15,590.07 232.78,574.94 220.68,546.66" fill="#bebebe" fill-opacity="0.3" stroke="none"/>
<polygon points="195.8,525.08 172.62,548.01 182.62,569.51 181.14,596.94 208.47,592.82 232.78,574.94 220.68,546.66" fill="#bebebe" fill-opacity="0.3" stroke="none"/>
<polygon points="195.8,551.24 184.55,557.53 170.72,572.22 190.12,578.28 212.07,600.28 218.33,571.64 220.68,546.66" fill="#bebebe" fill-opacity="0.3" stroke="none"/>
<polygon points="195.8,555.6 187.96,560.25 187.3,568.44 192.96,572.39 205.26,586.14 218.33,571.64 220.68,546.66" fill="#bebebe" fill-opacity="0.3" stroke="none"/>
<polygon points="195.8,566.5 184.55,557.53 158.82,574.94 187.1,584.57 201.48,578.28 218.33,571.64 220.68,546.66" fill="#bebebe" fill-opacity="0.3" stroke="none"/>
<polygon points="195.8,529 184.55,557.53 158.82,574.94 181.14,596.94 212.07,600.28 232.78,574.94 220.68,546.66" fill="#bebebe" fill-opacity="0.3" stroke="none"/>
<polygon points="195.8,527.26 187.96,560.25 170.72,572.22 176.88,605.78 208.47,592.82 232.78,574.94 220.68,546.66" fill="#bebebe" fill-opacity="0.3" stroke="none"/>
<polygon points="195.8,560.4 169.55,545.57 158.82,574.94 183.88,591.25 212.07,600.28 232.78,574.94 220.68,546.66" fill="#bebebe" fill-opacity="0.3" stroke="none"/>
<polygon points="195.8,522.9 161.71,539.32 158.82,574.94 176.88,605.78 208.47,592.82 232.78,574.94 220.68,546.66" fill="none" stroke="#141414" stroke-width="0.62" stroke-linejoin="round"/>
<polygon points="195.8,525.08 166.48,543.12 158.82,574.94 183.88,591.25 214.72,605.78 232.78,574.94 220.68,546.66" fill="none" stroke="#141414" stroke-width="0.62" stroke-linejoin="round"/>
<polygon points="195.8,527.26 169.55,545.57 158.82,574.94 181.14,596.94 212.07,600.28 232.78,574.94 220.68,546.66" fill="none" stroke="#141414" stroke-width="0.62" stroke-linejoin="round"/>
<polygon points="195.8,529 172.62,548.01 158.82,574.94 176.88,605.78 208.47,592.82 232.78,574.94 220.68,546.66" fill="none" stroke="#141414" stroke-width="0.62" stroke-linejoin="round"/>
<polygon points="195.8,530.75 161.71,539.32 170.72,572.22 183.88,591.25 214.72,605.78 232.78,574.94 220.68,546.66" fill="none" stroke="#141414" stroke-width="0.62" stroke-linejoin="round"/>
<polygon points="195.8,535.54 166.48,543.12 158.82,574.94 187.1,584.57 214.72,605.78 232.78,574.94 220.68,546.66" fill="none" stroke="#141414" stroke-width="0.62" stroke-linejoin="round"/>
<polygon points="195.8,539.9 169.55,545.57 170.72,572.22 176.88,605.78 207.15,590.07 232.78,574.94 220.68,546.66" fill="none" stroke="#141414" stroke-width="0.62" stroke-linejoin="round"/>
<polygon points="195.8,525.08 172.62,548.01 182.62,569.51 181.14,596.94 208.47,592.82 232.78,574.94 220.68,546.66" fill="none" stroke="#141414" stroke-width="0.62" stroke-linejoin="round"/>
<polygon points="195.8,551.24 184.55,557.53 170.72,572.22 190.12,578.28 212.07,600.28 218.33,571.64 220.68,546.66" fill="none" stroke="#141414" stroke-width="0.62" stroke-linejoin="round"/>
<polygon points="195.8,555.6 187.96,560.25 187.3,568.44 192.96,572.39 205.26,586.14 218.33,571.64 220.68,546.66" fill="none" stroke="#141414" stroke-width="0.62" stroke-linejoin="round"/>
<polygon points="195.8,566.5 184.55,557.53 158.82,574.94 187.1,584.57 201.48,578.28 218.33,571.64 220.68,546.66" fill="none" stroke="#141414" stroke-width="0.62" stroke-linejoin="round"/>
<polygon points="195.8,560.4 169.55,545.57 158.82,574.94 183.88,591.25 212.07,600.28 232.78,574.94 220.68,546.66" fill="none" stroke="#141414" stroke-width="0.62" stroke-linejoin="round"/>
<circle cx="195.8" cy="522.9" r="1.25" fill="#141414"/>
<circle cx="161.71" cy="539.32" r="1.25" fill="#141414"/>
<circle cx="158.82" cy="574.94" r="1.25" fill="#141414"/>
<circle cx="176.88" cy="605.78" r="1.25" fill="#141414"/>
<circle cx="208.47" cy="592.82" r="1.25" fill="#141414"/>
<circle cx="232.78" cy="574.94" r="1.25" fill="#141414"/>
<circle cx="220.68" cy="546.66" r="1.25" fill="#141414"/>
<circle cx="195.8" cy="525.08" r="1.25" fill="#141414"/>
<circle cx="166.48" cy="543.12" r="1.25" fill="#141414"/>
<circle cx="158.82" cy="574.94" r="1.25" fill="#141414"/>
<circle cx="183.88" cy="591.25" r="1.25" fill="#141414"/>
<circle cx="214.72" cy="605.78" r="1.25" fill="#141414"/>
<circle cx="232.78" cy="574.94" r="1.25" fill="#141414"/>
<circle cx="220.68" cy="546.66" r="1.25" fill="#141414"/>
<circle cx="195.8" cy="527.26" r="1.25" fill="#141414"/>
<circle cx="169.55" cy="545.57" r="1.25" fill="#141414"/>
<circle cx="158.82" cy="574.94" r="1.25" fill="#141414"/>
<circle cx="181.14" cy="596.94" r="1.25" fill="#141414"/>
<circle cx="212.07" cy="600.28" r="1.25" fill="#141414"/>
<circle cx="232.78" cy="574.94" r="1.25" fill="#141414"/>
<circle cx="220.68" cy="546.66" r="1.25" fill="#141414"/>
<circle cx="195.8" cy="529" r="1.25" fill="#141414"/>
<circle cx="172.62" cy="548.01" r="1.25" fill="#141414"/>
<circle cx="158.82" cy="574.94" r="1.25" fill="#141414"/>
<circle cx="176.88" cy="605.78" r="1.25" fill="#141414"/>
<circle cx="208.47" cy="592.82" r="1.25" fill="#141414"/>
<circle cx="232.78" cy="574.94" r="1.25" fill="#141414"/>
<circle cx="220.68" cy="546.66" r="1.25" fill="#141414"/>
<circle cx="195.8" cy="530.75" r="1.25" fill="#141414"/>
<circle cx="161.71" cy="539.32" r="1.25" fill="#141414"/>
<circle cx="170.72" cy="572.22" r="1.25" fill="#141414"/>
<circle cx="183.88" cy="591.25" r="1.25" fill="#141414"/>
<circle cx="214.72" cy="605.78" r="1.25" fill="#141414"/>
<circle cx="232.78" cy="574.94" r="1.25" fill="#141414"/>
<circle cx="220.68" cy="546.66" r="1.25" fill="#141414"/>
<circle cx="195.8" cy="535.54" r="1.25" fill="#141414"/>
<circle cx="166.48" cy="543.12" r="1.25" fill="#141414"/>
<circle cx="158.82" cy="574.94" r="1.25" fill="#141414"/>
<circle cx="187.1" cy="584.57" r="1.25" fill="#141414"/>
<circle cx="214.72" cy="605.78" r="1.25" fill="#141414"/>
<circle cx="232.78" cy="574.94" r="1.25" fill="#141414"/>
<circle cx="220.68" cy="546.66" r="1.25" fill="#141414"/>
<circle cx="195.8" cy="539.9" r="1.25" fill="#141414"/>
<circle cx="169.55" cy="545.57" r="1.25" fill="#141414"/>
<circle cx="170.72" cy="572.22" r="1.25" fill="#141414"/>
<circle cx="176.88" cy="605.78" r="1.25" fill="#141414"/>
<circle cx="207.15" cy="590.07" r="1.25" fill="#141414"/>
<circle cx="232.78" cy="574.94" r="1.25" fill="#141414"/>
<circle cx="220.68" cy="546.66" r="1.25" fill="#141414"/>
<circle cx="195.8" cy="525.08" r="1.25" fill="#141414"/>
<circle cx="172.62" cy="548.01" r="1.25" fill="#141414"/>
<circle cx="182.62" cy="569.51" r="1.25" fill="#141414"/>
<circle cx="181.14" cy="596.94" r="1.25" fill="#141414"/>
<circle cx="208.47" cy="592.82" r="1.25" fill="#141414"/>
<circle cx="232.78" cy="574.94" r="1.25" fill="#141414"/>
<circle cx="220.68" cy="546.66" r="1.25" fill="#141414"/>
<circle cx="195.8" cy="551.24" r="1.25" fill="#141414"/>
<circle cx="184.55" cy="557.53" r="1.25" fill="#141414"/>
<circle cx="170.72" cy="572.22" r="1.25" fill="#141414"/>
<circle cx="190.12" cy="578.28" r="1.25" fill="#141414"/>
<circle cx="212.07" cy="600.28" r="1.25" fill="#141414"/>
<circle cx="218.33" cy="571.64" r="1.25" fill="#141414"/>
<circle cx="220.68" cy="546.66" r="1.25" fill="#141414"/>
<circle cx="195.8" cy="555.6" r="1.25" fill="#141414"/>
<circle cx="187.96" cy="560.25" r="1.25" fill="#141414"/>
<circle cx="187.3" cy="568.44" r="1.25" fill="#141414"/>
<circle cx="192.96" cy="572.39" r="1.25" fill="#141414"/>
<circle cx="205.26" cy="586.14" r="1.25" fill="#141414"/>
<circle cx="218.33" cy="571.64" r="1.25" fill="#141414"/>
<circle cx="220.68" cy="546.66" r="1.25" fill="#141414"/>
<circle cx="195.8" cy="566.5" r="1.25" fill="#141414"/>
<circle cx="184.55" cy="557.53" r="1.25" fill="#141414"/>
<circle cx="158.82" cy="574.94" r="1.25" fill="#141414"/>
<circle cx="187.1" cy="584.57" r="1.25" fill="#141414"/>
<circle cx="201.48" cy="578.28" r="1.25" fill="#141414"/>
<circle cx="218.33" cy="571.64" r="1.25" fill="#141414"/>
<circle cx="220.68" cy="546.66" r="1.25" fill="#141414"/>
<circle cx="195.8" cy="560.4" r="1.25" fill="#141414"/>
<circle cx="169.55" cy="545.57" r="1.25" fill="#141414"/>
<circle cx="158.82" cy="574.94" r="1.25" fill="#141414"/>
<circle cx="183.88" cy="591.25" r="1.25" fill="#141414"/>
<circle cx="212.07" cy="600.28" r="1.25" fill="#141414"/>
<circle cx="232.78" cy="574.94" r="1.25" fill="#141414"/>
<circle cx="220.68" cy="546.66" r="1.25" fill="#141414"/>
<polygon points="195.8,544.26 177.73,552.09 182.62,569.51 183.88,591.25 208.47,592.82 232.78,574.94 220.68,546.66" fill="#bebebe" fill-opacity="0.72" stroke="none"/>
<polygon points="195.8,529 184.55,557.53 158.82,574.94 181.14,596.94 212.07,600.28 232.78,574.94 220.68,546.66" fill="none" stroke="#141414" stroke-width="0.62" stroke-linejoin="round"/>
<polygon points="195.8,527.26 187.96,560.25 170.72,572.22 176.88,605.78 208.47,592.82 232.78,574.94 220.68,546.66" fill="none" stroke="#141414" stroke-width="0.62" stroke-linejoin="round"/>
<circle cx="195.8" cy="529" r="1.25" fill="#141414"/>
<circle cx="184.55" cy="557.53" r="1.25" fill="#141414"/>
<circle cx="158.82" cy="574.94" r="1.25" fill="#141414"/>
<circle cx="181.14" cy="596.94" r="1.25" fill="#141414"/>
<circle cx="212.07" cy="600.28" r="1.25" fill="#141414"/>
<circle cx="232.78" cy="574.94" r="1.25" fill="#141414"/>
<circle cx="220.68" cy="546.66" r="1.25" fill="#141414"/>
<circle cx="195.8" cy="527.26" r="1.25" fill="#141414"/>
<circle cx="187.96" cy="560.25" r="1.25" fill="#141414"/>
<circle cx="170.72" cy="572.22" r="1.25" fill="#141414"/>
<circle cx="176.88" cy="605.78" r="1.25" fill="#141414"/>
<circle cx="208.47" cy="592.82" r="1.25" fill="#141414"/>
<circle cx="232.78" cy="574.94" r="1.25" fill="#141414"/>
<circle cx="220.68" cy="546.66" r="1.25" fill="#141414"/>
<polygon points="195.8,544.26 177.73,552.09 182.62,569.51 183.88,591.25 208.47,592.82 232.78,574.94 220.68,546.66" fill="none" stroke="#f01515" stroke-width="0.65"/>
<circle cx="195.8" cy="544.26" r="1.35" fill="#f01010"/>
<circle cx="177.73" cy="552.09" r="1.35" fill="#f01010"/>
<circle cx="182.62" cy="569.51" r="1.35" fill="#f01010"/>
<circle cx="183.88" cy="591.25" r="1.35" fill="#f01010"/>
<circle cx="208.47" cy="592.82" r="1.35" fill="#f01010"/>
<circle cx="232.78" cy="574.94" r="1.35" fill="#f01010"/>
<circle cx="220.68" cy="546.66" r="1.35" fill="#f01010"/>
<text x="195.8" y="516.9" font-family='"Liberation Sans", Arial, sans-serif' font-size="6.15" text-anchor="middle" fill="#000" stroke="#000" stroke-width="0.05" >IGS1</text>
<text x="161.41" y="536.32" font-family='"Liberation Sans", Arial, sans-serif' font-size="6.15" text-anchor="end" fill="#000" stroke="#000" stroke-width="0.05" >IGS3</text>
<text x="230.19" y="536.32" font-family='"Liberation Sans", Arial, sans-serif' font-size="6.15" text-anchor="start" fill="#000" stroke="#000" stroke-width="0.05" >IGS8</text>
<text x="151.49" y="580.8" font-family='"Liberation Sans", Arial, sans-serif' font-size="6.15" text-anchor="end" fill="#000" stroke="#000" stroke-width="0.05" >IGS4</text>
<text x="240.11" y="580.8" font-family='"Liberation Sans", Arial, sans-serif' font-size="6.15" text-anchor="start" fill="#000" stroke="#000" stroke-width="0.05" >IGS7</text>
<text x="173.28" y="615.38" font-family='"Liberation Sans", Arial, sans-serif' font-size="6.15" text-anchor="middle" fill="#000" stroke="#000" stroke-width="0.05" >IGS5</text>
<text x="219.12" y="615.38" font-family='"Liberation Sans", Arial, sans-serif' font-size="6.15" text-anchor="middle" fill="#000" stroke="#000" stroke-width="0.05" >IGS6</text>
<text x="197.9" y="510.7" font-family='"DejaVu Sans Condensed", "DejaVu Sans", sans-serif' font-size="9.0" text-anchor="middle" fill="#111" stroke="#111" stroke-width="0.1" >Myeloid</text>
<polygon points="324.5,523.4 290.41,539.82 281.99,576.7 305.58,606.28 343.42,606.28 367.01,576.7 358.59,539.82" fill="none" stroke="#8f8ff2" stroke-width="0.45"/>
<line x1="324.5" y1="567" x2="324.5" y2="523.4" stroke="#a5a5f2" stroke-width="0.4" />
<line x1="324.5" y1="567" x2="290.41" y2="539.82" stroke="#a5a5f2" stroke-width="0.4" />
<line x1="324.5" y1="567" x2="281.99" y2="576.7" stroke="#a5a5f2" stroke-width="0.4" />
<line x1="324.5" y1="567" x2="305.58" y2="606.28" stroke="#a5a5f2" stroke-width="0.4" />
<line x1="324.5" y1="567" x2="343.42" y2="606.28" stroke="#a5a5f2" stroke-width="0.4" />
<line x1="324.5" y1="567" x2="367.01" y2="576.7" stroke="#a5a5f2" stroke-width="0.4" />
<line x1="324.5" y1="567" x2="358.59" y2="539.82" stroke="#a5a5f2" stroke-width="0.4" />
<text x="324.5" y="525.9" font-family='"Liberation Sans", Arial, sans-serif' font-size="6.9" text-anchor="middle" fill="#4a4afa" stroke="#4a4afa" stroke-width="0.18" >5</text>
<text x="290.41" y="542.32" font-family='"Liberation Sans", Arial, sans-serif' font-size="6.9" text-anchor="middle" fill="#4a4afa" stroke="#4a4afa" stroke-width="0.18" >5</text>
<text x="281.99" y="579.2" font-family='"Liberation Sans", Arial, sans-serif' font-size="6.9" text-anchor="middle" fill="#4a4afa" stroke="#4a4afa" stroke-width="0.18" >5</text>
<text x="305.58" y="608.78" font-family='"Liberation Sans", Arial, sans-serif' font-size="6.9" text-anchor="middle" fill="#4a4afa" stroke="#4a4afa" stroke-width="0.18" >5</text>
<text x="343.42" y="608.78" font-family='"Liberation Sans", Arial, sans-serif' font-size="6.9" text-anchor="middle" fill="#4a4afa" stroke="#4a4afa" stroke-width="0.18" >5</text>
<text x="367.01" y="579.2" font-family='"Liberation Sans", Arial, sans-serif' font-size="6.9" text-anchor="middle" fill="#4a4afa" stroke="#4a4afa" stroke-width="0.18" >5</text>
<text x="358.59" y="542.32" font-family='"Liberation Sans", Arial, sans-serif' font-size="6.9" text-anchor="middle" fill="#4a4afa" stroke="#4a4afa" stroke-width="0.18" >5</text>
<polygon points="324.5,524.27 290.41,539.82 281.99,576.7 305.58,606.28 329.42,577.21 361.06,575.34 349.73,546.88" fill="#bebebe" fill-opacity="0.3" stroke="none"/>
<polygon points="324.5,525.58 294.5,543.08 281.99,576.7 305.58,606.28 334.15,587.03 361.06,575.34 349.73,546.88" fill="#bebebe" fill-opacity="0.3" stroke="none"/>
<polygon points="324.5,527.76 294.5,543.08 284.12,576.22 312.77,591.35 343.42,606.28 361.06,575.34 349.73,546.88" fill="#bebebe" fill-opacity="0.3" stroke="none"/>
<polygon points="324.5,529.94 293.14,541.99 285.39,575.93 311.26,594.5 341.53,602.35 361.06,575.34 349.73,546.88" fill="#bebebe" fill-opacity="0.3" stroke="none"/>
<polygon points="324.5,524.27 324.5,567 324.5,567 324.5,567 338.5,596.07 361.06,575.34 349.73,546.88" fill="#bebebe" fill-opacity="0.3" stroke="none"/>
<polygon points="324.5,532.12 295.53,543.89 286.24,575.73 305.58,606.28 335.66,590.18 347.88,572.34 349.73,546.88" fill="#bebebe" fill-opacity="0.3" stroke="none"/>
<polygon points="324.5,527.76 293.82,542.53 284.12,576.22 309.37,598.43 329.42,577.21 334.28,569.23 349.73,546.88" fill="#bebebe" fill-opacity="0.3" stroke="none"/>
<polygon points="324.5,529.94 292.12,541.18 282.84,576.51 310.31,596.46 341.53,602.35 334.28,569.23 349.73,546.88" fill="#bebebe" fill-opacity="0.3" stroke="none"/>
<polygon points="324.5,526.89 294.5,543.08 284.12,576.22 307.47,602.35 338.5,596.07 361.06,575.34 349.73,546.88" fill="#bebebe" fill-opacity="0.3" stroke="none"/>
<polygon points="324.5,525.58 292.8,541.72 283.27,576.41 312.01,592.93 342.47,604.32 361.06,575.34 349.73,546.88" fill="#bebebe" fill-opacity="0.3" stroke="none"/>
<polygon points="324.5,525.58 294.5,543.08 281.99,576.7 305.58,606.28 334.15,587.03 361.06,575.34 349.73,546.88" fill="none" stroke="#141414" stroke-width="0.62" stroke-linejoin="round"/>
<polygon points="324.5,527.76 294.5,543.08 284.12,576.22 312.77,591.35 343.42,606.28 361.06,575.34 349.73,546.88" fill="none" stroke="#141414" stroke-width="0.62" stroke-linejoin="round"/>
<polygon points="324.5,529.94 293.14,541.99 285.39,575.93 311.26,594.5 341.53,602.35 361.06,575.34 349.73,546.88" fill="none" stroke="#141414" stroke-width="0.62" stroke-linejoin="round"/>
<polygon points="324.5,532.12 295.53,543.89 286.24,575.73 305.58,606.28 335.66,590.18 347.88,572.34 349.73,546.88" fill="none" stroke="#141414" stroke-width="0.62" stroke-linejoin="round"/>
<polygon points="324.5,527.76 293.82,542.53 284.12,576.22 309.37,598.43 329.42,577.21 334.28,569.23 349.73,546.88" fill="none" stroke="#141414" stroke-width="0.62" stroke-linejoin="round"/>
<polygon points="324.5,529.94 292.12,541.18 282.84,576.51 310.31,596.46 341.53,602.35 334.28,569.23 349.73,546.88" fill="none" stroke="#141414" stroke-width="0.62" stroke-linejoin="round"/>
<polygon points="324.5,526.89 294.5,543.08 284.12,576.22 307.47,602.35 338.5,596.07 361.06,575.34 349.73,546.88" fill="none" stroke="#141414" stroke-width="0.62" stroke-linejoin="round"/>
<polygon points="324.5,525.58 292.8,541.72 283.27,576.41 312.01,592.93 342.47,604.32 361.06,575.34 349.73,546.88" fill="none" stroke="#141414" stroke-width="0.62" stroke-linejoin="round"/>
<circle cx="324.5" cy="525.58" r="1.25" fill="#141414"/>
<circle cx="294.5" cy="543.08" r="1.25" fill="#141414"/>
<circle cx="281.99" cy="576.7" r="1.25" fill="#141414"/>
<circle cx="305.58" cy="606.28" r="1.25" fill="#141414"/>
<circle cx="334.15" cy="587.03" r="1.25" fill="#141414"/>
<circle cx="361.06" cy="575.34" r="1.25" fill="#141414"/>
<circle cx="349.73" cy="546.88" r="1.25" fill="#141414"/>
<circle cx="324.5" cy="527.76" r="1.25" fill="#141414"/>
<circle cx="294.5" cy="543.08" r="1.25" fill="#141414"/>
<circle cx="284.12" cy="576.22" r="1.25" fill="#141414"/>
<circle cx="312.77" cy="591.35" r="1.25" fill="#141414"/>
<circle cx="343.42" cy="606.28" r="1.25" fill="#141414"/>
<circle cx="361.06" cy="575.34" r="1.25" fill="#141414"/>
<circle cx="349.73" cy="546.88" r="1.25" fill="#141414"/>
<circle cx="324.5" cy="529.94" r="1.25" fill="#141414"/>
<circle cx="293.14" cy="541.99" r="1.25" fill="#141414"/>
<circle cx="285.39" cy="575.93" r="1.25" fill="#141414"/>
<circle cx="311.26" cy="594.5" r="1.25" fill="#141414"/>
<circle cx="341.53" cy="602.35" r="1.25" fill="#141414"/>
<circle cx="361.06" cy="575.34" r="1.25" fill="#141414"/>
<circle cx="349.73" cy="546.88" r="1.25" fill="#141414"/>
<circle cx="324.5" cy="532.12" r="1.25" fill="#141414"/>
<circle cx="295.53" cy="543.89" r="1.25" fill="#141414"/>
<circle cx="286.24" cy="575.73" r="1.25" fill="#141414"/>
<circle cx="305.58" cy="606.28" r="1.25" fill="#141414"/>
<circle cx="335.66" cy="590.18" r="1.25" fill="#141414"/>
<circle cx="347.88" cy="572.34" r="1.25" fill="#141414"/>
<circle cx="349.73" cy="546.88" r="1.25" fill="#141414"/>
<circle cx="324.5" cy="527.76" r="1.25" fill="#141414"/>
<circle cx="293.82" cy="542.53" r="1.25" fill="#141414"/>
<circle cx="284.12" cy="576.22" r="1.25" fill="#141414"/>
<circle cx="309.37" cy="598.43" r="1.25" fill="#141414"/>
<circle cx="329.42" cy="577.21" r="1.25" fill="#141414"/>
<circle cx="334.28" cy="569.23" r="1.25" fill="#141414"/>
<circle cx="349.73" cy="546.88" r="1.25" fill="#141414"/>
<circle cx="324.5" cy="529.94" r="1.25" fill="#141414"/>
<circle cx="292.12" cy="541.18" r="1.25" fill="#141414"/>
<circle cx="282.84" cy="576.51" r="1.25" fill="#141414"/>
<circle cx="310.31" cy="596.46" r="1.25" fill="#141414"/>
<circle cx="341.53" cy="602.35" r="1.25" fill="#141414"/>
<circle cx="334.28" cy="569.23" r="1.25" fill="#141414"/>
<circle cx="349.73" cy="546.88" r="1.25" fill="#141414"/>
<circle cx="324.5" cy="526.89" r="1.25" fill="#141414"/>
<circle cx="294.5" cy="543.08" r="1.25" fill="#141414"/>
<circle cx="284.12" cy="576.22" r="1.25" fill="#141414"/>
<circle cx="307.47" cy="602.35" r="1.25" fill="#141414"/>
<circle cx="338.5" cy="596.07" r="1.25" fill="#141414"/>
<circle cx="361.06" cy="575.34" r="1.25" fill="#141414"/>
<circle cx="349.73" cy="546.88" r="1.25" fill="#141414"/>
<circle cx="324.5" cy="525.58" r="1.25" fill="#141414"/>
<circle cx="292.8" cy="541.72" r="1.25" fill="#141414"/>
<circle cx="283.27" cy="576.41" r="1.25" fill="#141414"/>
<circle cx="312.01" cy="592.93" r="1.25" fill="#141414"/>
<circle cx="342.47" cy="604.32" r="1.25" fill="#141414"/>
<circle cx="361.06" cy="575.34" r="1.25" fill="#141414"/>
<circle cx="349.73" cy="546.88" r="1.25" fill="#141414"/>
<polygon points="324.5,534.74 296.89,544.98 287.52,575.44 312.77,591.35 334.15,587.03 347.88,572.34 349.73,546.88" fill="#bebebe" fill-opacity="0.72" stroke="none"/>
<polygon points="324.5,524.27 290.41,539.82 281.99,576.7 305.58,606.28 329.42,577.21 361.06,575.34 349.73,546.88" fill="none" stroke="#141414" stroke-width="0.62" stroke-linejoin="round"/>
<polygon points="324.5,524.27 324.5,567 324.5,567 324.5,567 338.5,596.07 361.06,575.34 349.73,546.88" fill="none" stroke="#141414" stroke-width="0.62" stroke-linejoin="round"/>
<circle cx="324.5" cy="524.27" r="1.25" fill="#141414"/>
<circle cx="290.41" cy="539.82" r="1.25" fill="#141414"/>
<circle cx="281.99" cy="576.7" r="1.25" fill="#141414"/>
<circle cx="305.58" cy="606.28" r="1.25" fill="#141414"/>
<circle cx="329.42" cy="577.21" r="1.25" fill="#141414"/>
<circle cx="361.06" cy="575.34" r="1.25" fill="#141414"/>
<circle cx="349.73" cy="546.88" r="1.25" fill="#141414"/>
<circle cx="324.5" cy="524.27" r="1.25" fill="#141414"/>
<circle cx="324.5" cy="567" r="1.25" fill="#141414"/>
<circle cx="324.5" cy="567" r="1.25" fill="#141414"/>
<circle cx="324.5" cy="567" r="1.25" fill="#141414"/>
<circle cx="338.5" cy="596.07" r="1.25" fill="#141414"/>
<circle cx="361.06" cy="575.34" r="1.25" fill="#141414"/>
<circle cx="349.73" cy="546.88" r="1.25" fill="#141414"/>
<polygon points="324.5,534.74 296.89,544.98 287.52,575.44 312.77,591.35 334.15,587.03 347.88,572.34 349.73,546.88" fill="none" stroke="#f01515" stroke-width="0.65"/>
<circle cx="324.5" cy="534.74" r="1.35" fill="#f01010"/>
<circle cx="296.89" cy="544.98" r="1.35" fill="#f01010"/>
<circle cx="287.52" cy="575.44" r="1.35" fill="#f01010"/>
<circle cx="312.77" cy="591.35" r="1.35" fill="#f01010"/>
<circle cx="334.15" cy="587.03" r="1.35" fill="#f01010"/>
<circle cx="347.88" cy="572.34" r="1.35" fill="#f01010"/>
<circle cx="349.73" cy="546.88" r="1.35" fill="#f01010"/>
<text x="324.5" y="517.4" font-family='"Liberation Sans", Arial, sans-serif' font-size="6.15" text-anchor="middle" fill="#000" stroke="#000" stroke-width="0.05" >IGS1</text>
<text x="290.11" y="536.82" font-family='"Liberation Sans", Arial, sans-serif' font-size="6.15" text-anchor="end" fill="#000" stroke="#000" stroke-width="0.05" >IGS3</text>
<text x="358.89" y="536.82" font-family='"Liberation Sans", Arial, sans-serif' font-size="6.15" text-anchor="start" fill="#000" stroke="#000" stroke-width="0.05" >IGS8</text>
<text x="280.19" y="581.3" font-family='"Liberation Sans", Arial, sans-serif' font-size="6.15" text-anchor="end" fill="#000" stroke="#000" stroke-width="0.05" >IGS4</text>
<text x="368.81" y="581.3" font-family='"Liberation Sans", Arial, sans-serif' font-size="6.15" text-anchor="start" fill="#000" stroke="#000" stroke-width="0.05" >IGS7</text>
<text x="301.98" y="615.88" font-family='"Liberation Sans", Arial, sans-serif' font-size="6.15" text-anchor="middle" fill="#000" stroke="#000" stroke-width="0.05" >IGS5</text>
<text x="347.82" y="615.88" font-family='"Liberation Sans", Arial, sans-serif' font-size="6.15" text-anchor="middle" fill="#000" stroke="#000" stroke-width="0.05" >IGS6</text>
<text x="324.5" y="511.2" font-family='"DejaVu Sans Condensed", "DejaVu Sans", sans-serif' font-size="9.0" text-anchor="middle" fill="#111" stroke="#111" stroke-width="0.1" >CD8</text>
<polygon points="66.1,665.6 32.64,681.71 24.37,717.92 47.53,746.96 84.67,746.96 107.83,717.92 99.56,681.71" fill="none" stroke="#8f8ff2" stroke-width="0.45"/>
<line x1="66.1" y1="708.4" x2="66.1" y2="665.6" stroke="#a5a5f2" stroke-width="0.4" />
<line x1="66.1" y1="708.4" x2="32.64" y2="681.71" stroke="#a5a5f2" stroke-width="0.4" />
<line x1="66.1" y1="708.4" x2="24.37" y2="717.92" stroke="#a5a5f2" stroke-width="0.4" />
<line x1="66.1" y1="708.4" x2="47.53" y2="746.96" stroke="#a5a5f2" stroke-width="0.4" />
<line x1="66.1" y1="708.4" x2="84.67" y2="746.96" stroke="#a5a5f2" stroke-width="0.4" />
<line x1="66.1" y1="708.4" x2="107.83" y2="717.92" stroke="#a5a5f2" stroke-width="0.4" />
<line x1="66.1" y1="708.4" x2="99.56" y2="681.71" stroke="#a5a5f2" stroke-width="0.4" />
<text x="66.1" y="668.1" font-family='"Liberation Sans", Arial, sans-serif' font-size="6.9" text-anchor="middle" fill="#4a4afa" stroke="#4a4afa" stroke-width="0.18" >5</text>
<text x="32.64" y="684.21" font-family='"Liberation Sans", Arial, sans-serif' font-size="6.9" text-anchor="middle" fill="#4a4afa" stroke="#4a4afa" stroke-width="0.18" >5</text>
<text x="24.37" y="720.42" font-family='"Liberation Sans", Arial, sans-serif' font-size="6.9" text-anchor="middle" fill="#4a4afa" stroke="#4a4afa" stroke-width="0.18" >5</text>
<text x="47.53" y="749.46" font-family='"Liberation Sans", Arial, sans-serif' font-size="6.9" text-anchor="middle" fill="#4a4afa" stroke="#4a4afa" stroke-width="0.18" >5</text>
<text x="84.67" y="749.46" font-family='"Liberation Sans", Arial, sans-serif' font-size="6.9" text-anchor="middle" fill="#4a4afa" stroke="#4a4afa" stroke-width="0.18" >5</text>
<text x="107.83" y="720.42" font-family='"Liberation Sans", Arial, sans-serif' font-size="6.9" text-anchor="middle" fill="#4a4afa" stroke="#4a4afa" stroke-width="0.18" >5</text>
<text x="99.56" y="684.21" font-family='"Liberation Sans", Arial, sans-serif' font-size="6.9" text-anchor="middle" fill="#4a4afa" stroke="#4a4afa" stroke-width="0.18" >5</text>
<polygon points="66.1,665.6 32.64,681.71 24.37,717.92 47.53,746.96 84.67,746.96 99.48,716.02 93.54,686.52" fill="#bebebe" fill-opacity="0.3" stroke="none"/>
<polygon points="66.1,678.44 45.02,691.59 34.39,715.64 50.69,740.41 84.67,746.96 99.48,716.02 93.54,686.52" fill="#bebebe" fill-opacity="0.3" stroke="none"/>
<polygon points="66.1,685.72 47.36,693.46 34.39,715.64 55.7,729.99 82.81,743.11 99.48,716.02 93.54,686.52" fill="#bebebe" fill-opacity="0.3" stroke="none"/>
<polygon points="66.1,665.6 47.36,693.46 53.58,711.26 50.69,740.41 71.67,719.97 87.38,713.26 77.81,699.06" fill="#bebebe" fill-opacity="0.3" stroke="none"/>
<polygon points="66.1,678.44 45.02,691.59 53.58,711.26 58.67,723.82 84.67,746.96 99.48,716.02 93.54,686.52" fill="#bebebe" fill-opacity="0.3" stroke="none"/>
<polygon points="66.1,708.4 45.02,691.59 34.39,715.64 50.69,740.41 76.5,729.99 74.45,710.3 93.54,686.52" fill="#bebebe" fill-opacity="0.3" stroke="none"/>
<polygon points="66.1,693.42 56.4,700.66 45.24,713.16 60.53,719.97 71.67,719.97 87.38,713.26 93.54,686.52" fill="#bebebe" fill-opacity="0.3" stroke="none"/>
<polygon points="66.1,685.72 50.04,695.59 57.75,710.3 62.39,716.11 82.81,743.11 99.48,716.02 93.54,686.52" fill="#bebebe" fill-opacity="0.3" stroke="none"/>
<polygon points="66.1,685.72 47.36,693.46 34.39,715.64 55.7,729.99 76.5,729.99 87.38,713.26 93.54,686.52" fill="#bebebe" fill-opacity="0.3" stroke="none"/>
<polygon points="66.1,697.7 56.4,700.66 34.39,715.64 50.69,740.41 71.67,719.97 87.38,713.26 93.54,686.52" fill="#bebebe" fill-opacity="0.3" stroke="none"/>
<polygon points="66.1,665.6 32.64,681.71 24.37,717.92 47.53,746.96 84.67,746.96 99.48,716.02 93.54,686.52" fill="none" stroke="#141414" stroke-width="0.62" stroke-linejoin="round"/>
<polygon points="66.1,678.44 45.02,691.59 34.39,715.64 50.69,740.41 84.67,746.96 99.48,716.02 93.54,686.52" fill="none" stroke="#141414" stroke-width="0.62" stroke-linejoin="round"/>
<polygon points="66.1,685.72 47.36,693.46 34.39,715.64 55.7,729.99 82.81,743.11 99.48,716.02 93.54,686.52" fill="none" stroke="#141414" stroke-width="0.62" stroke-linejoin="round"/>
<polygon points="66.1,665.6 47.36,693.46 53.58,711.26 50.69,740.41 71.67,719.97 87.38,713.26 77.81,699.06" fill="none" stroke="#141414" stroke-width="0.62" stroke-linejoin="round"/>
<polygon points="66.1,678.44 45.02,691.59 53.58,711.26 58.67,723.82 84.67,746.96 99.48,716.02 93.54,686.52" fill="none" stroke="#141414" stroke-width="0.62" stroke-linejoin="round"/>
<polygon points="66.1,693.42 56.4,700.66 45.24,713.16 60.53,719.97 71.67,719.97 87.38,713.26 93.54,686.52" fill="none" stroke="#141414" stroke-width="0.62" stroke-linejoin="round"/>
<polygon points="66.1,685.72 50.04,695.59 57.75,710.3 62.39,716.11 82.81,743.11 99.48,716.02 93.54,686.52" fill="none" stroke="#141414" stroke-width="0.62" stroke-linejoin="round"/>
<polygon points="66.1,697.7 56.4,700.66 34.39,715.64 50.69,740.41 71.67,719.97 87.38,713.26 93.54,686.52" fill="none" stroke="#141414" stroke-width="0.62" stroke-linejoin="round"/>
<circle cx="66.1" cy="665.6" r="1.25" fill="#141414"/>
<circle cx="32.64" cy="681.71" r="1.25" fill="#141414"/>
<circle cx="24.37" cy="717.92" r="1.25" fill="#141414"/>
<circle cx="47.53" cy="746.96" r="1.25" fill="#141414"/>
<circle cx="84.67" cy="746.96" r="1.25" fill="#141414"/>
<circle cx="99.48" cy="716.02" r="1.25" fill="#141414"/>
<circle cx="93.54" cy="686.52" r="1.25" fill="#141414"/>
<circle cx="66.1" cy="678.44" r="1.25" fill="#141414"/>
<circle cx="45.02" cy="691.59" r="1.25" fill="#141414"/>
<circle cx="34.39" cy="715.64" r="1.25" fill="#141414"/>
<circle cx="50.69" cy="740.41" r="1.25" fill="#141414"/>
<circle cx="84.67" cy="746.96" r="1.25" fill="#141414"/>
<circle cx="99.48" cy="716.02" r="1.25" fill="#141414"/>
<circle cx="93.54" cy="686.52" r="1.25" fill="#141414"/>
<circle cx="66.1" cy="685.72" r="1.25" fill="#141414"/>
<circle cx="47.36" cy="693.46" r="1.25" fill="#141414"/>
<circle cx="34.39" cy="715.64" r="1.25" fill="#141414"/>
<circle cx="55.7" cy="729.99" r="1.25" fill="#141414"/>
<circle cx="82.81" cy="743.11" r="1.25" fill="#141414"/>
<circle cx="99.48" cy="716.02" r="1.25" fill="#141414"/>
<circle cx="93.54" cy="686.52" r="1.25" fill="#141414"/>
<circle cx="66.1" cy="665.6" r="1.25" fill="#141414"/>
<circle cx="47.36" cy="693.46" r="1.25" fill="#141414"/>
<circle cx="53.58" cy="711.26" r="1.25" fill="#141414"/>
<circle cx="50.69" cy="740.41" r="1.25" fill="#141414"/>
<circle cx="71.67" cy="719.97" r="1.25" fill="#141414"/>
<circle cx="87.38" cy="713.26" r="1.25" fill="#141414"/>
<circle cx="77.81" cy="699.06" r="1.25" fill="#141414"/>
<circle cx="66.1" cy="678.44" r="1.25" fill="#141414"/>
<circle cx="45.02" cy="691.59" r="1.25" fill="#141414"/>
<circle cx="53.58" cy="711.26" r="1.25" fill="#141414"/>
<circle cx="58.67" cy="723.82" r="1.25" fill="#141414"/>
<circle cx="84.67" cy="746.96" r="1.25" fill="#141414"/>
<circle cx="99.48" cy="716.02" r="1.25" fill="#141414"/>
<circle cx="93.54" cy="686.52" r="1.25" fill="#141414"/>
<circle cx="66.1" cy="693.42" r="1.25" fill="#141414"/>
<circle cx="56.4" cy="700.66" r="1.25" fill="#141414"/>
<circle cx="45.24" cy="713.16" r="1.25" fill="#141414"/>
<circle cx="60.53" cy="719.97" r="1.25" fill="#141414"/>
<circle cx="71.67" cy="719.97" r="1.25" fill="#141414"/>
<circle cx="87.38" cy="713.26" r="1.25" fill="#141414"/>
<circle cx="93.54" cy="686.52" r="1.25" fill="#141414"/>
<circle cx="66.1" cy="685.72" r="1.25" fill="#141414"/>
<circle cx="50.04" cy="695.59" r="1.25" fill="#141414"/>
<circle cx="57.75" cy="710.3" r="1.25" fill="#141414"/>
<circle cx="62.39" cy="716.11" r="1.25" fill="#141414"/>
<circle cx="82.81" cy="743.11" r="1.25" fill="#141414"/>
<circle cx="99.48" cy="716.02" r="1.25" fill="#141414"/>
<circle cx="93.54" cy="686.52" r="1.25" fill="#141414"/>
<circle cx="66.1" cy="697.7" r="1.25" fill="#141414"/>
<circle cx="56.4" cy="700.66" r="1.25" fill="#141414"/>
<circle cx="34.39" cy="715.64" r="1.25" fill="#141414"/>
<circle cx="50.69" cy="740.41" r="1.25" fill="#141414"/>
<circle cx="71.67" cy="719.97" r="1.25" fill="#141414"/>
<circle cx="87.38" cy="713.26" r="1.25" fill="#141414"/>
<circle cx="93.54" cy="686.52" r="1.25" fill="#141414"/>
<polygon points="66.1,690 50.04,695.59 53.58,711.26 55.7,729.99 79.28,735.78 99.48,716.02 93.54,686.52" fill="#bebebe" fill-opacity="0.72" stroke="none"/>
<polygon points="66.1,708.4 45.02,691.59 34.39,715.64 50.69,740.41 76.5,729.99 74.45,710.3 93.54,686.52" fill="none" stroke="#141414" stroke-width="0.62" stroke-linejoin="round"/>
<polygon points="66.1,685.72 47.36,693.46 34.39,715.64 55.7,729.99 76.5,729.99 87.38,713.26 93.54,686.52" fill="none" stroke="#141414" stroke-width="0.62" stroke-linejoin="round"/>
<circle cx="66.1" cy="708.4" r="1.25" fill="#141414"/>
<circle cx="45.02" cy="691.59" r="1.25" fill="#141414"/>
<circle cx="34.39" cy="715.64" r="1.25" fill="#141414"/>
<circle cx="50.69" cy="740.41" r="1.25" fill="#141414"/>
<circle cx="76.5" cy="729.99" r="1.25" fill="#141414"/>
<circle cx="74.45" cy="710.3" r="1.25" fill="#141414"/>
<circle cx="93.54" cy="686.52" r="1.25" fill="#141414"/>
<circle cx="66.1" cy="685.72" r="1.25" fill="#141414"/>
<circle cx="47.36" cy="693.46" r="1.25" fill="#141414"/>
<circle cx="34.39" cy="715.64" r="1.25" fill="#141414"/>
<circle cx="55.7" cy="729.99" r="1.25" fill="#141414"/>
<circle cx="76.5" cy="729.99" r="1.25" fill="#141414"/>
<circle cx="87.38" cy="713.26" r="1.25" fill="#141414"/>
<circle cx="93.54" cy="686.52" r="1.25" fill="#141414"/>
<polygon points="66.1,690 50.04,695.59 53.58,711.26 55.7,729.99 79.28,735.78 99.48,716.02 93.54,686.52" fill="none" stroke="#f01515" stroke-width="0.65"/>
<circle cx="66.1" cy="690" r="1.35" fill="#f01010"/>
<circle cx="50.04" cy="695.59" r="1.35" fill="#f01010"/>
<circle cx="53.58" cy="711.26" r="1.35" fill="#f01010"/>
<circle cx="55.7" cy="729.99" r="1.35" fill="#f01010"/>
<circle cx="79.28" cy="735.78" r="1.35" fill="#f01010"/>
<circle cx="99.48" cy="716.02" r="1.35" fill="#f01010"/>
<circle cx="93.54" cy="686.52" r="1.35" fill="#f01010"/>
<text x="66.1" y="659.6" font-family='"Liberation Sans", Arial, sans-serif' font-size="6.15" text-anchor="middle" fill="#000" stroke="#000" stroke-width="0.05" >IGS1</text>
<text x="32.34" y="678.71" font-family='"Liberation Sans", Arial, sans-serif' font-size="6.15" text-anchor="end" fill="#000" stroke="#000" stroke-width="0.05" >IGS3</text>
<text x="99.86" y="678.71" font-family='"Liberation Sans", Arial, sans-serif' font-size="6.15" text-anchor="start" fill="#000" stroke="#000" stroke-width="0.05" >IGS8</text>
<text x="22.57" y="722.52" font-family='"Liberation Sans", Arial, sans-serif' font-size="6.15" text-anchor="end" fill="#000" stroke="#000" stroke-width="0.05" >IGS4</text>
<text x="109.63" y="722.52" font-family='"Liberation Sans", Arial, sans-serif' font-size="6.15" text-anchor="start" fill="#000" stroke="#000" stroke-width="0.05" >IGS7</text>
<text x="43.93" y="756.56" font-family='"Liberation Sans", Arial, sans-serif' font-size="6.15" text-anchor="middle" fill="#000" stroke="#000" stroke-width="0.05" >IGS5</text>
<text x="89.07" y="756.56" font-family='"Liberation Sans", Arial, sans-serif' font-size="6.15" text-anchor="middle" fill="#000" stroke="#000" stroke-width="0.05" >IGS6</text>
<text x="66.1" y="653.4" font-family='"DejaVu Sans Condensed", "DejaVu Sans", sans-serif' font-size="9.0" text-anchor="middle" fill="#111" stroke="#111" stroke-width="0.1" >Cold</text>
<polygon points="193.6,664.9 159.9,681.13 151.58,717.59 174.9,746.83 212.3,746.83 235.62,717.59 227.3,681.13" fill="none" stroke="#8f8ff2" stroke-width="0.45"/>
<line x1="193.6" y1="708" x2="193.6" y2="664.9" stroke="#a5a5f2" stroke-width="0.4" />
<line x1="193.6" y1="708" x2="159.9" y2="681.13" stroke="#a5a5f2" stroke-width="0.4" />
<line x1="193.6" y1="708" x2="151.58" y2="717.59" stroke="#a5a5f2" stroke-width="0.4" />
<line x1="193.6" y1="708" x2="174.9" y2="746.83" stroke="#a5a5f2" stroke-width="0.4" />
<line x1="193.6" y1="708" x2="212.3" y2="746.83" stroke="#a5a5f2" stroke-width="0.4" />
<line x1="193.6" y1="708" x2="235.62" y2="717.59" stroke="#a5a5f2" stroke-width="0.4" />
<line x1="193.6" y1="708" x2="227.3" y2="681.13" stroke="#a5a5f2" stroke-width="0.4" />
<text x="193.6" y="667.4" font-family='"Liberation Sans", Arial, sans-serif' font-size="6.9" text-anchor="middle" fill="#4a4afa" stroke="#4a4afa" stroke-width="0.18" >5</text>
<text x="159.9" y="683.63" font-family='"Liberation Sans", Arial, sans-serif' font-size="6.9" text-anchor="middle" fill="#4a4afa" stroke="#4a4afa" stroke-width="0.18" >5</text>
<text x="151.58" y="720.09" font-family='"Liberation Sans", Arial, sans-serif' font-size="6.9" text-anchor="middle" fill="#4a4afa" stroke="#4a4afa" stroke-width="0.18" >5</text>
<text x="174.9" y="749.33" font-family='"Liberation Sans", Arial, sans-serif' font-size="6.9" text-anchor="middle" fill="#4a4afa" stroke="#4a4afa" stroke-width="0.18" >5</text>
<text x="212.3" y="749.33" font-family='"Liberation Sans", Arial, sans-serif' font-size="6.9" text-anchor="middle" fill="#4a4afa" stroke="#4a4afa" stroke-width="0.18" >5</text>
<text x="235.62" y="720.09" font-family='"Liberation Sans", Arial, sans-serif' font-size="6.9" text-anchor="middle" fill="#4a4afa" stroke="#4a4afa" stroke-width="0.18" >5</text>
<text x="227.3" y="683.63" font-family='"Liberation Sans", Arial, sans-serif' font-size="6.9" text-anchor="middle" fill="#4a4afa" stroke="#4a4afa" stroke-width="0.18" >5</text>
<polygon points="193.6,668.35 159.9,681.13 151.58,717.59 174.9,746.83 202.95,727.42 227.22,715.67 221.57,685.7" fill="#bebebe" fill-opacity="0.3" stroke="none"/>
<polygon points="193.6,668.35 167.99,687.58 151.58,717.59 182.94,730.13 212.3,746.83 227.22,715.67 221.57,685.7" fill="#bebebe" fill-opacity="0.3" stroke="none"/>
<polygon points="193.6,677.83 167.99,687.58 161.25,715.38 174.9,746.83 203.89,729.36 227.22,715.67 221.57,685.7" fill="#bebebe" fill-opacity="0.3" stroke="none"/>
<polygon points="193.6,684.29 171.02,690 151.58,717.59 185.18,725.47 212.3,746.83 227.22,715.67 221.57,685.7" fill="#bebebe" fill-opacity="0.3" stroke="none"/>
<polygon points="193.6,687.31 167.99,687.58 170.91,713.18 180.14,735.96 212.3,746.83 227.22,715.67 221.57,685.7" fill="#bebebe" fill-opacity="0.3" stroke="none"/>
<polygon points="193.6,677.83 183.83,700.21 161.25,715.38 182.94,730.13 211.37,744.89 227.22,715.67 221.57,685.7" fill="#bebebe" fill-opacity="0.3" stroke="none"/>
<polygon points="193.6,668.35 171.02,690 180.99,710.88 174.9,746.83 207.81,737.51 227.22,715.67 205.39,698.59" fill="#bebebe" fill-opacity="0.3" stroke="none"/>
<polygon points="193.6,698.95 183.83,700.21 170.91,713.18 185.18,725.47 206.32,734.41 227.22,715.67 221.57,685.7" fill="#bebebe" fill-opacity="0.3" stroke="none"/>
<polygon points="193.6,705.85 190.23,705.31 189.4,708.96 186.49,722.76 207.81,737.51 227.22,715.67 221.57,685.7" fill="#bebebe" fill-opacity="0.3" stroke="none"/>
<polygon points="193.6,684.29 159.9,681.13 161.25,715.38 185.18,725.47 211.37,744.89 227.22,715.67 221.57,685.7" fill="#bebebe" fill-opacity="0.3" stroke="none"/>
<polygon points="193.6,687.31 171.02,690 161.25,715.38 182.94,730.13 212.3,746.83 227.22,715.67 221.57,685.7" fill="#bebebe" fill-opacity="0.3" stroke="none"/>
<polygon points="193.6,668.35 159.9,681.13 151.58,717.59 174.9,746.83 202.95,727.42 227.22,715.67 221.57,685.7" fill="none" stroke="#141414" stroke-width="0.62" stroke-linejoin="round"/>
<polygon points="193.6,668.35 167.99,687.58 151.58,717.59 182.94,730.13 212.3,746.83 227.22,715.67 221.57,685.7" fill="none" stroke="#141414" stroke-width="0.62" stroke-linejoin="round"/>
<polygon points="193.6,677.83 167.99,687.58 161.25,715.38 174.9,746.83 203.89,729.36 227.22,715.67 221.57,685.7" fill="none" stroke="#141414" stroke-width="0.62" stroke-linejoin="round"/>
<polygon points="193.6,684.29 171.02,690 151.58,717.59 185.18,725.47 212.3,746.83 227.22,715.67 221.57,685.7" fill="none" stroke="#141414" stroke-width="0.62" stroke-linejoin="round"/>
<polygon points="193.6,687.31 167.99,687.58 170.91,713.18 180.14,735.96 212.3,746.83 227.22,715.67 221.57,685.7" fill="none" stroke="#141414" stroke-width="0.62" stroke-linejoin="round"/>
<polygon points="193.6,668.35 171.02,690 180.99,710.88 174.9,746.83 207.81,737.51 227.22,715.67 205.39,698.59" fill="none" stroke="#141414" stroke-width="0.62" stroke-linejoin="round"/>
<polygon points="193.6,698.95 183.83,700.21 170.91,713.18 185.18,725.47 206.32,734.41 227.22,715.67 221.57,685.7" fill="none" stroke="#141414" stroke-width="0.62" stroke-linejoin="round"/>
<polygon points="193.6,705.85 190.23,705.31 189.4,708.96 186.49,722.76 207.81,737.51 227.22,715.67 221.57,685.7" fill="none" stroke="#141414" stroke-width="0.62" stroke-linejoin="round"/>
<polygon points="193.6,684.29 159.9,681.13 161.25,715.38 185.18,725.47 211.37,744.89 227.22,715.67 221.57,685.7" fill="none" stroke="#141414" stroke-width="0.62" stroke-linejoin="round"/>
<polygon points="193.6,687.31 171.02,690 161.25,715.38 182.94,730.13 212.3,746.83 227.22,715.67 221.57,685.7" fill="none" stroke="#141414" stroke-width="0.62" stroke-linejoin="round"/>
<circle cx="193.6" cy="668.35" r="1.25" fill="#141414"/>
<circle cx="159.9" cy="681.13" r="1.25" fill="#141414"/>
<circle cx="151.58" cy="717.59" r="1.25" fill="#141414"/>
<circle cx="174.9" cy="746.83" r="1.25" fill="#141414"/>
<circle cx="202.95" cy="727.42" r="1.25" fill="#141414"/>
<circle cx="227.22" cy="715.67" r="1.25" fill="#141414"/>
<circle cx="221.57" cy="685.7" r="1.25" fill="#141414"/>
<circle cx="193.6" cy="668.35" r="1.25" fill="#141414"/>
<circle cx="167.99" cy="687.58" r="1.25" fill="#141414"/>
<circle cx="151.58" cy="717.59" r="1.25" fill="#141414"/>
<circle cx="182.94" cy="730.13" r="1.25" fill="#141414"/>
<circle cx="212.3" cy="746.83" r="1.25" fill="#141414"/>
<circle cx="227.22" cy="715.67" r="1.25" fill="#141414"/>
<circle cx="221.57" cy="685.7" r="1.25" fill="#141414"/>
<circle cx="193.6" cy="677.83" r="1.25" fill="#141414"/>
<circle cx="167.99" cy="687.58" r="1.25" fill="#141414"/>
<circle cx="161.25" cy="715.38" r="1.25" fill="#141414"/>
<circle cx="174.9" cy="746.83" r="1.25" fill="#141414"/>
<circle cx="203.89" cy="729.36" r="1.25" fill="#141414"/>
<circle cx="227.22" cy="715.67" r="1.25" fill="#141414"/>
<circle cx="221.57" cy="685.7" r="1.25" fill="#141414"/>
<circle cx="193.6" cy="684.29" r="1.25" fill="#141414"/>
<circle cx="171.02" cy="690" r="1.25" fill="#141414"/>
<circle cx="151.58" cy="717.59" r="1.25" fill="#141414"/>
<circle cx="185.18" cy="725.47" r="1.25" fill="#141414"/>
<circle cx="212.3" cy="746.83" r="1.25" fill="#141414"/>
<circle cx="227.22" cy="715.67" r="1.25" fill="#141414"/>
<circle cx="221.57" cy="685.7" r="1.25" fill="#141414"/>
<circle cx="193.6" cy="687.31" r="1.25" fill="#141414"/>
<circle cx="167.99" cy="687.58" r="1.25" fill="#141414"/>
<circle cx="170.91" cy="713.18" r="1.25" fill="#141414"/>
<circle cx="180.14" cy="735.96" r="1.25" fill="#141414"/>
<circle cx="212.3" cy="746.83" r="1.25" fill="#141414"/>
<circle cx="227.22" cy="715.67" r="1.25" fill="#141414"/>
<circle cx="221.57" cy="685.7" r="1.25" fill="#141414"/>
<circle cx="193.6" cy="668.35" r="1.25" fill="#141414"/>
<circle cx="171.02" cy="690" r="1.25" fill="#141414"/>
<circle cx="180.99" cy="710.88" r="1.25" fill="#141414"/>
<circle cx="174.9" cy="746.83" r="1.25" fill="#141414"/>
<circle cx="207.81" cy="737.51" r="1.25" fill="#141414"/>
<circle cx="227.22" cy="715.67" r="1.25" fill="#141414"/>
<circle cx="205.39" cy="698.59" r="1.25" fill="#141414"/>
<circle cx="193.6" cy="698.95" r="1.25" fill="#141414"/>
<circle cx="183.83" cy="700.21" r="1.25" fill="#141414"/>
<circle cx="170.91" cy="713.18" r="1.25" fill="#141414"/>
<circle cx="185.18" cy="725.47" r="1.25" fill="#141414"/>
<circle cx="206.32" cy="734.41" r="1.25" fill="#141414"/>
<circle cx="227.22" cy="715.67" r="1.25" fill="#141414"/>
<circle cx="221.57" cy="685.7" r="1.25" fill="#141414"/>
<circle cx="193.6" cy="705.85" r="1.25" fill="#141414"/>
<circle cx="190.23" cy="705.31" r="1.25" fill="#141414"/>
<circle cx="189.4" cy="708.96" r="1.25" fill="#141414"/>
<circle cx="186.49" cy="722.76" r="1.25" fill="#141414"/>
<circle cx="207.81" cy="737.51" r="1.25" fill="#141414"/>
<circle cx="227.22" cy="715.67" r="1.25" fill="#141414"/>
<circle cx="221.57" cy="685.7" r="1.25" fill="#141414"/>
<circle cx="193.6" cy="684.29" r="1.25" fill="#141414"/>
<circle cx="159.9" cy="681.13" r="1.25" fill="#141414"/>
<circle cx="161.25" cy="715.38" r="1.25" fill="#141414"/>
<circle cx="185.18" cy="725.47" r="1.25" fill="#141414"/>
<circle cx="211.37" cy="744.89" r="1.25" fill="#141414"/>
<circle cx="227.22" cy="715.67" r="1.25" fill="#141414"/>
<circle cx="221.57" cy="685.7" r="1.25" fill="#141414"/>
<circle cx="193.6" cy="687.31" r="1.25" fill="#141414"/>
<circle cx="171.02" cy="690" r="1.25" fill="#141414"/>
<circle cx="161.25" cy="715.38" r="1.25" fill="#141414"/>
<circle cx="182.94" cy="730.13" r="1.25" fill="#141414"/>
<circle cx="212.3" cy="746.83" r="1.25" fill="#141414"/>
<circle cx="227.22" cy="715.67" r="1.25" fill="#141414"/>
<circle cx="221.57" cy="685.7" r="1.25" fill="#141414"/>
<polygon points="193.6,689.9 174.06,692.41 180.99,710.88 186.49,722.76 207.81,737.51 227.22,715.67 221.57,685.7" fill="#bebebe" fill-opacity="0.72" stroke="none"/>
<polygon points="193.6,677.83 183.83,700.21 161.25,715.38 182.94,730.13 211.37,744.89 227.22,715.67 221.57,685.7" fill="none" stroke="#141414" stroke-width="0.62" stroke-linejoin="round"/>
<circle cx="193.6" cy="677.83" r="1.25" fill="#141414"/>
<circle cx="183.83" cy="700.21" r="1.25" fill="#141414"/>
<circle cx="161.25" cy="715.38" r="1.25" fill="#141414"/>
<circle cx="182.94" cy="730.13" r="1.25" fill="#141414"/>
<circle cx="211.37" cy="744.89" r="1.25" fill="#141414"/>
<circle cx="227.22" cy="715.67" r="1.25" fill="#141414"/>
<circle cx="221.57" cy="685.7" r="1.25" fill="#141414"/>
<polygon points="193.6,689.9 174.06,692.41 180.99,710.88 186.49,722.76 207.81,737.51 227.22,715.67 221.57,685.7" fill="none" stroke="#f01515" stroke-width="0.65"/>
<circle cx="193.6" cy="689.9" r="1.35" fill="#f01010"/>
<circle cx="174.06" cy="692.41" r="1.35" fill="#f01010"/>
<circle cx="180.99" cy="710.88" r="1.35" fill="#f01010"/>
<circle cx="186.49" cy="722.76" r="1.35" fill="#f01010"/>
<circle cx="207.81" cy="737.51" r="1.35" fill="#f01010"/>
<circle cx="227.22" cy="715.67" r="1.35" fill="#f01010"/>
<circle cx="221.57" cy="685.7" r="1.35" fill="#f01010"/>
<text x="193.6" y="658.9" font-family='"Liberation Sans", Arial, sans-serif' font-size="6.15" text-anchor="middle" fill="#000" stroke="#000" stroke-width="0.05" >IGS1</text>
<text x="159.6" y="678.13" font-family='"Liberation Sans", Arial, sans-serif' font-size="6.15" text-anchor="end" fill="#000" stroke="#000" stroke-width="0.05" >IGS3</text>
<text x="227.6" y="678.13" font-family='"Liberation Sans", Arial, sans-serif' font-size="6.15" text-anchor="start" fill="#000" stroke="#000" stroke-width="0.05" >IGS8</text>
<text x="149.78" y="722.19" font-family='"Liberation Sans", Arial, sans-serif' font-size="6.15" text-anchor="end" fill="#000" stroke="#000" stroke-width="0.05" >IGS4</text>
<text x="237.42" y="722.19" font-family='"Liberation Sans", Arial, sans-serif' font-size="6.15" text-anchor="start" fill="#000" stroke="#000" stroke-width="0.05" >IGS7</text>
<text x="171.3" y="756.43" font-family='"Liberation Sans", Arial, sans-serif' font-size="6.15" text-anchor="middle" fill="#000" stroke="#000" stroke-width="0.05" >IGS5</text>
<text x="216.7" y="756.43" font-family='"Liberation Sans", Arial, sans-serif' font-size="6.15" text-anchor="middle" fill="#000" stroke="#000" stroke-width="0.05" >IGS6</text>
<text x="196" y="652.7" font-family='"DejaVu Sans Condensed", "DejaVu Sans", sans-serif' font-size="9.0" text-anchor="middle" fill="#111" stroke="#111" stroke-width="0.1" >Myeloid</text>
<polygon points="323.5,665 289.65,681.3 281.29,717.94 304.71,747.31 342.29,747.31 365.71,717.94 357.35,681.3" fill="none" stroke="#8f8ff2" stroke-width="0.45"/>
<line x1="323.5" y1="708.3" x2="323.5" y2="665" stroke="#a5a5f2" stroke-width="0.4" />
<line x1="323.5" y1="708.3" x2="289.65" y2="681.3" stroke="#a5a5f2" stroke-width="0.4" />
<line x1="323.5" y1="708.3" x2="281.29" y2="717.94" stroke="#a5a5f2" stroke-width="0.4" />
<line x1="323.5" y1="708.3" x2="304.71" y2="747.31" stroke="#a5a5f2" stroke-width="0.4" />
<line x1="323.5" y1="708.3" x2="342.29" y2="747.31" stroke="#a5a5f2" stroke-width="0.4" />
<line x1="323.5" y1="708.3" x2="365.71" y2="717.94" stroke="#a5a5f2" stroke-width="0.4" />
<line x1="323.5" y1="708.3" x2="357.35" y2="681.3" stroke="#a5a5f2" stroke-width="0.4" />
<text x="323.5" y="667.5" font-family='"Liberation Sans", Arial, sans-serif' font-size="6.9" text-anchor="middle" fill="#4a4afa" stroke="#4a4afa" stroke-width="0.18" >5</text>
<text x="289.65" y="683.8" font-family='"Liberation Sans", Arial, sans-serif' font-size="6.9" text-anchor="middle" fill="#4a4afa" stroke="#4a4afa" stroke-width="0.18" >5</text>
<text x="281.29" y="720.44" font-family='"Liberation Sans", Arial, sans-serif' font-size="6.9" text-anchor="middle" fill="#4a4afa" stroke="#4a4afa" stroke-width="0.18" >5</text>
<text x="304.71" y="749.81" font-family='"Liberation Sans", Arial, sans-serif' font-size="6.9" text-anchor="middle" fill="#4a4afa" stroke="#4a4afa" stroke-width="0.18" >5</text>
<text x="342.29" y="749.81" font-family='"Liberation Sans", Arial, sans-serif' font-size="6.9" text-anchor="middle" fill="#4a4afa" stroke="#4a4afa" stroke-width="0.18" >5</text>
<text x="365.71" y="720.44" font-family='"Liberation Sans", Arial, sans-serif' font-size="6.9" text-anchor="middle" fill="#4a4afa" stroke="#4a4afa" stroke-width="0.18" >5</text>
<text x="357.35" y="683.8" font-family='"Liberation Sans", Arial, sans-serif' font-size="6.9" text-anchor="middle" fill="#4a4afa" stroke="#4a4afa" stroke-width="0.18" >5</text>
<polygon points="323.5,667.38 290.66,682.11 281.29,717.94 304.71,747.31 331.01,723.9 358.54,716.3 351.26,686.16" fill="#bebebe" fill-opacity="0.3" stroke="none"/>
<polygon points="323.5,670.2 294.05,684.81 281.29,717.94 304.71,747.31 335.71,733.66 358.54,716.3 351.26,686.16" fill="#bebebe" fill-opacity="0.3" stroke="none"/>
<polygon points="323.5,667.38 294.05,684.81 283.4,717.45 307.72,741.07 341.72,746.14 358.54,716.3 351.26,686.16" fill="#bebebe" fill-opacity="0.3" stroke="none"/>
<polygon points="323.5,670.2 302.85,691.83 300.28,713.6 312.79,730.54 337.59,737.56 332.79,710.42 351.26,686.16" fill="#bebebe" fill-opacity="0.3" stroke="none"/>
<polygon points="323.5,670.2 294.05,684.81 281.29,717.94 307.72,741.07 328.76,719.22 323.5,708.3 351.26,686.16" fill="#bebebe" fill-opacity="0.3" stroke="none"/>
<polygon points="323.5,688.81 306.57,694.8 293.95,715.04 317.86,720 335.71,733.66 345.45,713.31 351.26,686.16" fill="#bebebe" fill-opacity="0.3" stroke="none"/>
<polygon points="323.5,694.01 315.04,701.55 310.84,711.19 312.79,730.54 341.72,746.14 358.54,716.3 351.26,686.16" fill="#bebebe" fill-opacity="0.3" stroke="none"/>
<polygon points="323.5,674.53 294.05,684.81 286.77,716.68 304.71,747.31 337.59,737.56 358.54,716.3 351.26,686.16" fill="#bebebe" fill-opacity="0.3" stroke="none"/>
<polygon points="323.5,668.46 292.02,683.19 282.55,717.65 306.59,743.41 331.01,723.9 358.54,716.3 351.26,686.16" fill="#bebebe" fill-opacity="0.3" stroke="none"/>
<polygon points="323.5,667.38 290.66,682.11 281.29,717.94 304.71,747.31 331.01,723.9 358.54,716.3 351.26,686.16" fill="none" stroke="#141414" stroke-width="0.62" stroke-linejoin="round"/>
<polygon points="323.5,670.2 294.05,684.81 281.29,717.94 304.71,747.31 335.71,733.66 358.54,716.3 351.26,686.16" fill="none" stroke="#141414" stroke-width="0.62" stroke-linejoin="round"/>
<polygon points="323.5,667.38 294.05,684.81 283.4,717.45 307.72,741.07 341.72,746.14 358.54,716.3 351.26,686.16" fill="none" stroke="#141414" stroke-width="0.62" stroke-linejoin="round"/>
<polygon points="323.5,688.81 306.57,694.8 293.95,715.04 317.86,720 335.71,733.66 345.45,713.31 351.26,686.16" fill="none" stroke="#141414" stroke-width="0.62" stroke-linejoin="round"/>
<polygon points="323.5,694.01 315.04,701.55 310.84,711.19 312.79,730.54 341.72,746.14 358.54,716.3 351.26,686.16" fill="none" stroke="#141414" stroke-width="0.62" stroke-linejoin="round"/>
<polygon points="323.5,674.53 294.05,684.81 286.77,716.68 304.71,747.31 337.59,737.56 358.54,716.3 351.26,686.16" fill="none" stroke="#141414" stroke-width="0.62" stroke-linejoin="round"/>
<polygon points="323.5,668.46 292.02,683.19 282.55,717.65 306.59,743.41 331.01,723.9 358.54,716.3 351.26,686.16" fill="none" stroke="#141414" stroke-width="0.62" stroke-linejoin="round"/>
<circle cx="323.5" cy="667.38" r="1.25" fill="#141414"/>
<circle cx="290.66" cy="682.11" r="1.25" fill="#141414"/>
<circle cx="281.29" cy="717.94" r="1.25" fill="#141414"/>
<circle cx="304.71" cy="747.31" r="1.25" fill="#141414"/>
<circle cx="331.01" cy="723.9" r="1.25" fill="#141414"/>
<circle cx="358.54" cy="716.3" r="1.25" fill="#141414"/>
<circle cx="351.26" cy="686.16" r="1.25" fill="#141414"/>
<circle cx="323.5" cy="670.2" r="1.25" fill="#141414"/>
<circle cx="294.05" cy="684.81" r="1.25" fill="#141414"/>
<circle cx="281.29" cy="717.94" r="1.25" fill="#141414"/>
<circle cx="304.71" cy="747.31" r="1.25" fill="#141414"/>
<circle cx="335.71" cy="733.66" r="1.25" fill="#141414"/>
<circle cx="358.54" cy="716.3" r="1.25" fill="#141414"/>
<circle cx="351.26" cy="686.16" r="1.25" fill="#141414"/>
<circle cx="323.5" cy="667.38" r="1.25" fill="#141414"/>
<circle cx="294.05" cy="684.81" r="1.25" fill="#141414"/>
<circle cx="283.4" cy="717.45" r="1.25" fill="#141414"/>
<circle cx="307.72" cy="741.07" r="1.25" fill="#141414"/>
<circle cx="341.72" cy="746.14" r="1.25" fill="#141414"/>
<circle cx="358.54" cy="716.3" r="1.25" fill="#141414"/>
<circle cx="351.26" cy="686.16" r="1.25" fill="#141414"/>
<circle cx="323.5" cy="688.81" r="1.25" fill="#141414"/>
<circle cx="306.57" cy="694.8" r="1.25" fill="#141414"/>
<circle cx="293.95" cy="715.04" r="1.25" fill="#141414"/>
<circle cx="317.86" cy="720" r="1.25" fill="#141414"/>
<circle cx="335.71" cy="733.66" r="1.25" fill="#141414"/>
<circle cx="345.45" cy="713.31" r="1.25" fill="#141414"/>
<circle cx="351.26" cy="686.16" r="1.25" fill="#141414"/>
<circle cx="323.5" cy="694.01" r="1.25" fill="#141414"/>
<circle cx="315.04" cy="701.55" r="1.25" fill="#141414"/>
<circle cx="310.84" cy="711.19" r="1.25" fill="#141414"/>
<circle cx="312.79" cy="730.54" r="1.25" fill="#141414"/>
<circle cx="341.72" cy="746.14" r="1.25" fill="#141414"/>
<circle cx="358.54" cy="716.3" r="1.25" fill="#141414"/>
<circle cx="351.26" cy="686.16" r="1.25" fill="#141414"/>
<circle cx="323.5" cy="674.53" r="1.25" fill="#141414"/>
<circle cx="294.05" cy="684.81" r="1.25" fill="#141414"/>
<circle cx="286.77" cy="716.68" r="1.25" fill="#141414"/>
<circle cx="304.71" cy="747.31" r="1.25" fill="#141414"/>
<circle cx="337.59" cy="737.56" r="1.25" fill="#141414"/>
<circle cx="358.54" cy="716.3" r="1.25" fill="#141414"/>
<circle cx="351.26" cy="686.16" r="1.25" fill="#141414"/>
<circle cx="323.5" cy="668.46" r="1.25" fill="#141414"/>
<circle cx="292.02" cy="683.19" r="1.25" fill="#141414"/>
<circle cx="282.55" cy="717.65" r="1.25" fill="#141414"/>
<circle cx="306.59" cy="743.41" r="1.25" fill="#141414"/>
<circle cx="331.01" cy="723.9" r="1.25" fill="#141414"/>
<circle cx="358.54" cy="716.3" r="1.25" fill="#141414"/>
<circle cx="351.26" cy="686.16" r="1.25" fill="#141414"/>
<polygon points="323.5,674.53 301.5,690.75 286.77,716.68 307.72,741.07 332.33,726.64 345.45,713.31 335.35,698.85" fill="#bebebe" fill-opacity="0.72" stroke="none"/>
<polygon points="323.5,670.2 302.85,691.83 300.28,713.6 312.79,730.54 337.59,737.56 332.79,710.42 351.26,686.16" fill="none" stroke="#141414" stroke-width="0.62" stroke-linejoin="round"/>
<polygon points="323.5,670.2 294.05,684.81 281.29,717.94 307.72,741.07 328.76,719.22 323.5,708.3 351.26,686.16" fill="none" stroke="#141414" stroke-width="0.62" stroke-linejoin="round"/>
<circle cx="323.5" cy="670.2" r="1.25" fill="#141414"/>
<circle cx="302.85" cy="691.83" r="1.25" fill="#141414"/>
<circle cx="300.28" cy="713.6" r="1.25" fill="#141414"/>
<circle cx="312.79" cy="730.54" r="1.25" fill="#141414"/>
<circle cx="337.59" cy="737.56" r="1.25" fill="#141414"/>
<circle cx="332.79" cy="710.42" r="1.25" fill="#141414"/>
<circle cx="351.26" cy="686.16" r="1.25" fill="#141414"/>
<circle cx="323.5" cy="670.2" r="1.25" fill="#141414"/>
<circle cx="294.05" cy="684.81" r="1.25" fill="#141414"/>
<circle cx="281.29" cy="717.94" r="1.25" fill="#141414"/>
<circle cx="307.72" cy="741.07" r="1.25" fill="#141414"/>
<circle cx="328.76" cy="719.22" r="1.25" fill="#141414"/>
<circle cx="323.5" cy="708.3" r="1.25" fill="#141414"/>
<circle cx="351.26" cy="686.16" r="1.25" fill="#141414"/>
<polygon points="323.5,674.53 301.5,690.75 286.77,716.68 307.72,741.07 332.33,726.64 345.45,713.31 335.35,698.85" fill="none" stroke="#f01515" stroke-width="0.65"/>
<circle cx="323.5" cy="674.53" r="1.35" fill="#f01010"/>
<circle cx="301.5" cy="690.75" r="1.35" fill="#f01010"/>
<circle cx="286.77" cy="716.68" r="1.35" fill="#f01010"/>
<circle cx="307.72" cy="741.07" r="1.35" fill="#f01010"/>
<circle cx="332.33" cy="726.64" r="1.35" fill="#f01010"/>
<circle cx="345.45" cy="713.31" r="1.35" fill="#f01010"/>
<circle cx="335.35" cy="698.85" r="1.35" fill="#f01010"/>
<text x="323.5" y="659" font-family='"Liberation Sans", Arial, sans-serif' font-size="6.15" text-anchor="middle" fill="#000" stroke="#000" stroke-width="0.05" >IGS1</text>
<text x="289.35" y="678.3" font-family='"Liberation Sans", Arial, sans-serif' font-size="6.15" text-anchor="end" fill="#000" stroke="#000" stroke-width="0.05" >IGS3</text>
<text x="357.65" y="678.3" font-family='"Liberation Sans", Arial, sans-serif' font-size="6.15" text-anchor="start" fill="#000" stroke="#000" stroke-width="0.05" >IGS8</text>
<text x="279.49" y="722.54" font-family='"Liberation Sans", Arial, sans-serif' font-size="6.15" text-anchor="end" fill="#000" stroke="#000" stroke-width="0.05" >IGS4</text>
<text x="367.51" y="722.54" font-family='"Liberation Sans", Arial, sans-serif' font-size="6.15" text-anchor="start" fill="#000" stroke="#000" stroke-width="0.05" >IGS7</text>
<text x="301.11" y="756.91" font-family='"Liberation Sans", Arial, sans-serif' font-size="6.15" text-anchor="middle" fill="#000" stroke="#000" stroke-width="0.05" >IGS5</text>
<text x="346.69" y="756.91" font-family='"Liberation Sans", Arial, sans-serif' font-size="6.15" text-anchor="middle" fill="#000" stroke="#000" stroke-width="0.05" >IGS6</text>
<text x="323.5" y="652.8" font-family='"DejaVu Sans Condensed", "DejaVu Sans", sans-serif' font-size="9.0" text-anchor="middle" fill="#111" stroke="#111" stroke-width="0.1" >CD8</text>
<text x="16.25" y="496.3" font-family='"DejaVu Sans Condensed", "DejaVu Sans", sans-serif' font-size="9.2" text-anchor="start" fill="#111" textLength="23.3" lengthAdjust="spacingAndGlyphs" stroke="#111" stroke-width="0.18" >LUAD</text>
<text x="16.25" y="642.2" font-family='"DejaVu Sans Condensed", "DejaVu Sans", sans-serif' font-size="9.2" text-anchor="start" fill="#111" textLength="23.3" lengthAdjust="spacingAndGlyphs" stroke="#111" stroke-width="0.18" >LUSQ</text>
<text x="410.4" y="530.2" font-family='"DejaVu Sans Condensed", "DejaVu Sans", sans-serif' font-size="7.85" text-anchor="start" fill="#111" stroke="#111" stroke-width="0.1" >IGS1 T cell immunity.</text>
<text x="410.4" y="541" font-family='"DejaVu Sans Condensed", "DejaVu Sans", sans-serif' font-size="7.85" text-anchor="start" fill="#111" stroke="#111" stroke-width="0.1" >IGS3 priming and activation</text>
<text x="410.4" y="551.3" font-family='"DejaVu Sans Condensed", "DejaVu Sans", sans-serif' font-size="7.85" text-anchor="start" fill="#111" stroke="#111" stroke-width="0.1" >IGS4 trafficking and infiltration</text>
<text x="410.4" y="562.2" font-family='"DejaVu Sans Condensed", "DejaVu Sans", sans-serif' font-size="7.85" text-anchor="start" fill="#111" stroke="#111" stroke-width="0.1" >IGS5 recognition of tumor cells</text>
<text x="410.4" y="572.5" font-family='"DejaVu Sans Condensed", "DejaVu Sans", sans-serif' font-size="7.85" text-anchor="start" fill="#111" stroke="#111" stroke-width="0.1" >IGS6 inhibitory cells</text>
<text x="410.4" y="582.7" font-family='"DejaVu Sans Condensed", "DejaVu Sans", sans-serif' font-size="7.85" text-anchor="start" fill="#111" stroke="#111" stroke-width="0.1" >IGS7 checkpoint expression</text>
<text x="410.4" y="593.5" font-family='"DejaVu Sans Condensed", "DejaVu Sans", sans-serif' font-size="7.85" text-anchor="start" fill="#111" stroke="#111" stroke-width="0.1" >IGS8 inhibitory molecules</text>
</svg>
</body></html>
